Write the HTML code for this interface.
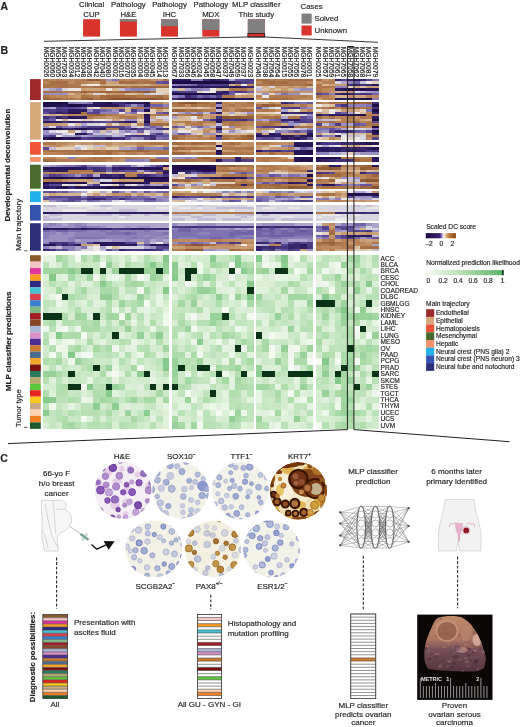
<!DOCTYPE html><html><head><meta charset="utf-8"><style>html,body{margin:0;padding:0;background:#fff;}body{width:520px;height:727px;position:relative;overflow:hidden;}</style></head><body><svg width="520" height="727" viewBox="0 0 520 727" fill="#231f20" style="position:absolute;left:0;top:0;font-family:'Liberation Sans',Arial,sans-serif"><style>.t{stroke:#231f20;stroke-width:0.18px;paint-order:stroke}</style><rect width="520" height="727" fill="#fff"/><text class="t" x="0.6" y="9.6" font-size="10.4" font-weight="bold">A</text><text class="t" x="0.6" y="53.8" font-size="10.6" font-weight="bold">B</text><text class="t" x="0.2" y="462.1" font-size="10.6" font-weight="bold">C</text><text class="t" x="91.6" y="7" font-size="7.8" text-anchor="middle">Clinical</text><text class="t" x="91.6" y="16.8" font-size="7.8" text-anchor="middle">CUP</text><rect x="83.1" y="19.2" width="17" height="17.4" fill="#d8342b"/><text class="t" x="128.4" y="7" font-size="7.8" text-anchor="middle">Pathology</text><text class="t" x="128.4" y="16.8" font-size="7.8" text-anchor="middle">H&amp;E</text><rect x="119.9" y="19.2" width="17" height="17.4" fill="#d8342b"/><rect x="119.9" y="19.2" width="17" height="2.4" fill="#808080"/><text class="t" x="169.5" y="7" font-size="7.8" text-anchor="middle">Pathology</text><text class="t" x="169.5" y="16.8" font-size="7.8" text-anchor="middle">IHC</text><rect x="161" y="19.2" width="17" height="17.4" fill="#d8342b"/><rect x="161" y="19.2" width="17" height="7" fill="#808080"/><text class="t" x="210.8" y="7" font-size="7.8" text-anchor="middle">Pathology</text><text class="t" x="210.8" y="16.8" font-size="7.8" text-anchor="middle">MDX</text><rect x="202.3" y="19.2" width="17" height="17.4" fill="#d8342b"/><rect x="202.3" y="19.2" width="17" height="10.8" fill="#808080"/><text class="t" x="256.3" y="7" font-size="7.8" text-anchor="middle">MLP classifier</text><text class="t" x="256.3" y="16.8" font-size="7.8" text-anchor="middle">This study</text><rect x="247.8" y="19.2" width="17" height="17.4" fill="#d8342b"/><rect x="247.8" y="19.2" width="17" height="14.2" fill="#808080"/><rect x="247.9" y="33.5" width="16.8" height="3.4" fill="#d8342b" stroke="#231f20" stroke-width="0.8"/><text class="t" x="300.6" y="9.4" font-size="7.8">Cases</text><rect x="301.5" y="13.6" width="10.2" height="10" fill="#808080"/><rect x="301.5" y="25.5" width="10.2" height="10" fill="#d8342b"/><text class="t" x="314.5" y="21.3" font-size="7.8">Solved</text><text class="t" x="314.5" y="33.2" font-size="7.8">Unknown</text><polyline points="44,41.3 247.9,37 264.7,37 378,42.3" fill="none" stroke="#231f20" stroke-width="0.9"/><text class="t" x="43.49" y="46.7" font-size="6.7" fill="#222" transform="rotate(90 43.49 46.7)">MGH0026</text><text class="t" x="49.77" y="46.7" font-size="6.7" fill="#222" transform="rotate(90 49.77 46.7)">MGH0060</text><text class="t" x="56.05" y="46.7" font-size="6.7" fill="#222" transform="rotate(90 56.05 46.7)">MGH0005</text><text class="t" x="62.33" y="46.7" font-size="6.7" fill="#222" transform="rotate(90 62.33 46.7)">MGH7063</text><text class="t" x="68.61" y="46.7" font-size="6.7" fill="#222" transform="rotate(90 68.61 46.7)">MGH0034</text><text class="t" x="74.89" y="46.7" font-size="6.7" fill="#222" transform="rotate(90 74.89 46.7)">MGH0012</text><text class="t" x="81.17" y="46.7" font-size="6.7" fill="#222" transform="rotate(90 81.17 46.7)">MGH0048</text><text class="t" x="87.45" y="46.7" font-size="6.7" fill="#222" transform="rotate(90 87.45 46.7)">MGH0036</text><text class="t" x="93.73" y="46.7" font-size="6.7" fill="#222" transform="rotate(90 93.73 46.7)">MGH7042</text><text class="t" x="100.01" y="46.7" font-size="6.7" fill="#222" transform="rotate(90 100.01 46.7)">MGH7040</text><text class="t" x="106.29" y="46.7" font-size="6.7" fill="#222" transform="rotate(90 106.29 46.7)">MGH0080</text><text class="t" x="112.57" y="46.7" font-size="6.7" fill="#222" transform="rotate(90 112.57 46.7)">MGH0002</text><text class="t" x="118.85" y="46.7" font-size="6.7" fill="#222" transform="rotate(90 118.85 46.7)">MGH0016</text><text class="t" x="125.13" y="46.7" font-size="6.7" fill="#222" transform="rotate(90 125.13 46.7)">MGH0070</text><text class="t" x="131.41" y="46.7" font-size="6.7" fill="#222" transform="rotate(90 131.41 46.7)">MGH0035</text><text class="t" x="137.69" y="46.7" font-size="6.7" fill="#222" transform="rotate(90 137.69 46.7)">MGH0004</text><text class="t" x="143.97" y="46.7" font-size="6.7" fill="#222" transform="rotate(90 143.97 46.7)">MGH0009</text><text class="t" x="150.25" y="46.7" font-size="6.7" fill="#222" transform="rotate(90 150.25 46.7)">MGH0045</text><text class="t" x="156.53" y="46.7" font-size="6.7" fill="#222" transform="rotate(90 156.53 46.7)">MGH0014</text><text class="t" x="162.81" y="46.7" font-size="6.7" fill="#222" transform="rotate(90 162.81 46.7)">MGH0013</text><text class="t" x="172.29" y="46.7" font-size="6.7" fill="#222" transform="rotate(90 172.29 46.7)">MGH0067</text><text class="t" x="178.57" y="46.7" font-size="6.7" fill="#222" transform="rotate(90 178.57 46.7)">MGH7033</text><text class="t" x="184.85" y="46.7" font-size="6.7" fill="#222" transform="rotate(90 184.85 46.7)">MGH0056</text><text class="t" x="191.13" y="46.7" font-size="6.7" fill="#222" transform="rotate(90 191.13 46.7)">MGH0046</text><text class="t" x="197.41" y="46.7" font-size="6.7" fill="#222" transform="rotate(90 197.41 46.7)">MGH0024</text><text class="t" x="203.69" y="46.7" font-size="6.7" fill="#222" transform="rotate(90 203.69 46.7)">MGH7045</text><text class="t" x="209.97" y="46.7" font-size="6.7" fill="#222" transform="rotate(90 209.97 46.7)">MGH0058</text><text class="t" x="216.25" y="46.7" font-size="6.7" fill="#222" transform="rotate(90 216.25 46.7)">MGH0047</text><text class="t" x="222.53" y="46.7" font-size="6.7" fill="#222" transform="rotate(90 222.53 46.7)">MGH0037</text><text class="t" x="228.81" y="46.7" font-size="6.7" fill="#222" transform="rotate(90 228.81 46.7)">MGH7049</text><text class="t" x="235.09" y="46.7" font-size="6.7" fill="#222" transform="rotate(90 235.09 46.7)">MGH0059</text><text class="t" x="241.37" y="46.7" font-size="6.7" fill="#222" transform="rotate(90 241.37 46.7)">MGH7037</text><text class="t" x="247.65" y="46.7" font-size="6.7" fill="#222" transform="rotate(90 247.65 46.7)">MGH0023</text><text class="t" x="256.42" y="46.7" font-size="6.7" fill="#222" transform="rotate(90 256.42 46.7)">MGH7046</text><text class="t" x="262.75" y="46.7" font-size="6.7" fill="#222" transform="rotate(90 262.75 46.7)">MGH7038</text><text class="t" x="269.08" y="46.7" font-size="6.7" fill="#222" transform="rotate(90 269.08 46.7)">MGH7064</text><text class="t" x="275.41" y="46.7" font-size="6.7" fill="#222" transform="rotate(90 275.41 46.7)">MGH7054</text><text class="t" x="281.74" y="46.7" font-size="6.7" fill="#222" transform="rotate(90 281.74 46.7)">MGH0015</text><text class="t" x="288.06" y="46.7" font-size="6.7" fill="#222" transform="rotate(90 288.06 46.7)">MGH7055</text><text class="t" x="294.4" y="46.7" font-size="6.7" fill="#222" transform="rotate(90 294.4 46.7)">MGH7056</text><text class="t" x="300.73" y="46.7" font-size="6.7" fill="#222" transform="rotate(90 300.73 46.7)">MGH0078</text><text class="t" x="307.06" y="46.7" font-size="6.7" fill="#222" transform="rotate(90 307.06 46.7)">MGH0001</text><text class="t" x="316.28" y="46.7" font-size="6.7" fill="#222" transform="rotate(90 316.28 46.7)">MGH0025</text><text class="t" x="322.54" y="46.7" font-size="6.7" fill="#222" transform="rotate(90 322.54 46.7)">MGH7057</text><text class="t" x="328.8" y="46.7" font-size="6.7" fill="#222" transform="rotate(90 328.8 46.7)">MGH7059</text><text class="t" x="335.06" y="46.7" font-size="6.7" fill="#222" transform="rotate(90 335.06 46.7)">MGH7061</text><text class="t" x="341.32" y="46.7" font-size="6.7" fill="#222" transform="rotate(90 341.32 46.7)">MGH7065</text><text class="t" x="347.58" y="46.7" font-size="6.7" fill="#222" transform="rotate(90 347.58 46.7)">MGH7058</text><text class="t" x="353.84" y="46.7" font-size="6.7" fill="#222" transform="rotate(90 353.84 46.7)">MGH7062</text><text class="t" x="360.1" y="46.7" font-size="6.7" fill="#222" transform="rotate(90 360.1 46.7)">MGH7068</text><text class="t" x="366.36" y="46.7" font-size="6.7" fill="#222" transform="rotate(90 366.36 46.7)">MGH0081</text><text class="t" x="372.62" y="46.7" font-size="6.7" fill="#222" transform="rotate(90 372.62 46.7)">MGH0079</text><rect x="30" y="79.1" width="10.8" height="20.9" fill="#9e2a2b"/><rect x="30" y="102.1" width="10.8" height="37.6" fill="#d7a97a"/><rect x="30" y="142" width="10.8" height="12.7" fill="#ef5236"/><rect x="30" y="157" width="10.8" height="4.9" fill="#f2906c"/><rect x="30" y="164.7" width="10.8" height="24" fill="#4b6b2e"/><rect x="30" y="191.2" width="10.8" height="10.9" fill="#22b2ea"/><rect x="30" y="205" width="10.8" height="15.6" fill="#3553ad"/><rect x="30" y="223.2" width="10.8" height="27.6" fill="#2b2e78"/><path fill="#b0794e" shape-rendering="crispEdges" d="M43.2 79.1v2.32h6.28v-2.32zM80.88 79.1v2.32h6.28v-2.32zM137.4 79.1v2.32h6.28v-2.32zM162.52 79.1v2.32h6.28v-2.32zM281.42 79.1v2.32h6.33v-2.32zM74.6 81.42v2.32h6.28v-2.32zM300.41 81.42v2.32h6.33v-2.32zM74.6 83.74v2.32h6.28v-2.32zM49.48 86.07v2.32h6.28v-2.32zM87.16 86.07v2.32h6.28v-2.32zM124.84 86.07v2.32h6.28v-2.32zM316 86.07v2.32h6.26v-2.32zM328.52 86.07v2.32h6.26v-2.32zM234.8 88.39v2.32h6.28v-2.32zM316 88.39v2.32h6.26v-2.32zM68.32 90.71v2.32h6.28v-2.32zM137.4 95.36v2.32h6.28v-2.32zM222.24 95.36v2.32h6.28v-2.32zM275.09 95.36v2.32h6.33v-2.32zM281.42 95.36v2.32h6.33v-2.32zM300.41 95.36v2.32h6.33v-2.32zM62.04 97.68v2.32h6.28v-2.32zM68.32 97.68v2.32h6.28v-2.32zM316 102.1v2.35h6.26v-2.35zM172 104.45v2.35h6.28v-2.35zM137.4 106.8v2.35h6.28v-2.35zM149.96 106.8v2.35h6.28v-2.35zM162.52 106.8v2.35h6.28v-2.35zM359.82 106.8v2.35h6.26v-2.35zM234.8 109.15v2.35h6.28v-2.35zM256.1 109.15v2.35h6.33v-2.35zM106 113.85v2.35h6.28v-2.35zM184.56 113.85v2.35h6.28v-2.35zM247.36 113.85v2.35h6.28v-2.35zM87.16 116.2v2.35h6.28v-2.35zM131.12 116.2v2.35h6.28v-2.35zM366.08 116.2v2.35h6.26v-2.35zM209.68 120.9v2.35h6.28v-2.35zM241.08 120.9v2.35h6.28v-2.35zM316 120.9v2.35h6.26v-2.35zM190.84 123.25v2.35h6.28v-2.35zM322.26 125.6v2.35h6.26v-2.35zM328.52 125.6v2.35h6.26v-2.35zM106 127.95v2.35h6.28v-2.35zM197.12 135v2.35h6.28v-2.35zM366.08 135v2.35h6.26v-2.35zM372.34 135v2.35h6.26v-2.35zM178.28 137.35v2.35h6.28v-2.35zM49.48 142v2.54h6.28v-2.54zM162.52 142v2.54h6.28v-2.54zM222.24 142v2.54h6.28v-2.54zM262.43 142v2.54h6.33v-2.54zM203.4 147.08v2.54h6.28v-2.54zM209.68 147.08v2.54h6.28v-2.54zM228.52 147.08v2.54h6.28v-2.54zM80.88 152.16v2.54h6.28v-2.54zM197.12 152.16v2.54h6.28v-2.54zM209.68 152.16v2.54h6.28v-2.54zM241.08 152.16v2.54h6.28v-2.54zM281.42 152.16v2.54h6.33v-2.54zM93.44 157v2.45h6.28v-2.45zM228.52 157v2.45h6.28v-2.45zM262.43 157v2.45h6.33v-2.45zM268.76 157v2.45h6.33v-2.45zM366.08 157v2.45h6.26v-2.45zM62.04 159.45v2.45h6.28v-2.45zM99.72 159.45v2.45h6.28v-2.45zM197.12 159.45v2.45h6.28v-2.45zM262.43 159.45v2.45h6.33v-2.45zM256.1 164.7v2.4h6.33v-2.4zM262.43 164.7v2.4h6.33v-2.4zM268.76 164.7v2.4h6.33v-2.4zM347.3 164.7v2.4h6.26v-2.4zM247.36 169.5v2.4h6.28v-2.4zM256.1 169.5v2.4h6.33v-2.4zM262.43 169.5v2.4h6.33v-2.4zM294.08 169.5v2.4h6.33v-2.4zM156.24 171.9v2.4h6.28v-2.4zM124.84 174.3v2.4h6.28v-2.4zM131.12 174.3v2.4h6.28v-2.4zM341.04 174.3v2.4h6.26v-2.4zM366.08 174.3v2.4h6.26v-2.4zM366.08 176.7v2.4h6.26v-2.4zM43.2 179.1v2.4h6.28v-2.4zM49.48 179.1v2.4h6.28v-2.4zM256.1 179.1v2.4h6.33v-2.4zM234.8 181.5v2.4h6.28v-2.4zM241.08 181.5v2.4h6.28v-2.4zM209.68 186.3v2.4h6.28v-2.4zM215.96 186.3v2.4h6.28v-2.4zM347.3 186.3v2.4h6.26v-2.4zM172 193.38v2.18h6.28v-2.18zM197.12 193.38v2.18h6.28v-2.18zM203.4 193.38v2.18h6.28v-2.18zM172 211.69v2.23h6.28v-2.23zM184.56 211.69v2.23h6.28v-2.23zM190.84 211.69v2.23h6.28v-2.23zM197.12 211.69v2.23h6.28v-2.23zM222.24 211.69v2.23h6.28v-2.23zM228.52 211.69v2.23h6.28v-2.23zM234.8 211.69v2.23h6.28v-2.23zM241.08 211.69v2.23h6.28v-2.23zM247.36 211.69v2.23h6.28v-2.23zM178.28 243.9v2.3h6.28v-2.3zM334.78 243.9v2.3h6.26v-2.3zM172 248.5v2.3h6.28v-2.3zM316 248.5v2.3h6.26v-2.3z"/><path fill="#ba865a" shape-rendering="crispEdges" d="M49.48 79.1v2.32h6.28v-2.32zM68.32 79.1v2.32h6.28v-2.32zM124.84 79.1v2.32h6.28v-2.32zM328.52 79.1v2.32h6.26v-2.32zM43.2 81.42v2.32h6.28v-2.32zM322.26 88.39v2.32h6.26v-2.32zM55.76 95.36v2.32h6.28v-2.32zM62.04 95.36v2.32h6.28v-2.32zM306.74 95.36v2.32h6.33v-2.32zM149.96 102.1v2.35h6.28v-2.35zM268.76 102.1v2.35h6.33v-2.35zM322.26 102.1v2.35h6.26v-2.35zM234.8 104.45v2.35h6.28v-2.35zM287.75 104.45v2.35h6.33v-2.35zM316 106.8v2.35h6.26v-2.35zM334.78 106.8v2.35h6.26v-2.35zM366.08 111.5v2.35h6.26v-2.35zM68.32 113.85v2.35h6.28v-2.35zM118.56 113.85v2.35h6.28v-2.35zM334.78 116.2v2.35h6.26v-2.35zM353.56 118.55v2.35h6.26v-2.35zM172 120.9v2.35h6.28v-2.35zM247.36 120.9v2.35h6.28v-2.35zM262.43 120.9v2.35h6.33v-2.35zM359.82 120.9v2.35h6.26v-2.35zM184.56 123.25v2.35h6.28v-2.35zM275.09 123.25v2.35h6.33v-2.35zM234.8 125.6v2.35h6.28v-2.35zM347.3 125.6v2.35h6.26v-2.35zM209.68 127.95v2.35h6.28v-2.35zM209.68 135v2.35h6.28v-2.35zM203.4 137.35v2.35h6.28v-2.35zM328.52 137.35v2.35h6.26v-2.35zM55.76 142v2.54h6.28v-2.54zM93.44 142v2.54h6.28v-2.54zM268.76 142v2.54h6.33v-2.54zM287.75 142v2.54h6.33v-2.54zM137.4 144.54v2.54h6.28v-2.54zM172 149.62v2.54h6.28v-2.54zM241.08 149.62v2.54h6.28v-2.54zM43.2 152.16v2.54h6.28v-2.54zM49.48 152.16v2.54h6.28v-2.54zM262.43 152.16v2.54h6.33v-2.54zM112.28 157v2.45h6.28v-2.45zM131.12 157v2.45h6.28v-2.45zM106 159.45v2.45h6.28v-2.45zM268.76 159.45v2.45h6.33v-2.45zM275.09 159.45v2.45h6.33v-2.45zM281.42 164.7v2.4h6.33v-2.4zM294.08 167.1v2.4h6.33v-2.4zM287.75 169.5v2.4h6.33v-2.4zM49.48 171.9v2.4h6.28v-2.4zM62.04 171.9v2.4h6.28v-2.4zM80.88 171.9v2.4h6.28v-2.4zM87.16 171.9v2.4h6.28v-2.4zM131.12 171.9v2.4h6.28v-2.4zM137.4 171.9v2.4h6.28v-2.4zM347.3 174.3v2.4h6.26v-2.4zM353.56 174.3v2.4h6.26v-2.4zM359.82 174.3v2.4h6.26v-2.4zM268.76 179.1v2.4h6.33v-2.4zM294.08 179.1v2.4h6.33v-2.4zM322.26 181.5v2.4h6.26v-2.4zM247.36 186.3v2.4h6.28v-2.4zM124.84 193.38v2.18h6.28v-2.18zM215.96 193.38v2.18h6.28v-2.18zM334.78 193.38v2.18h6.26v-2.18zM341.04 199.92v2.18h6.26v-2.18zM328.52 227.8v2.3h6.26v-2.3zM222.24 239.3v2.3h6.28v-2.3zM341.04 239.3v2.3h6.26v-2.3zM353.56 239.3v2.3h6.26v-2.3zM247.36 241.6v2.3h6.28v-2.3zM359.82 241.6v2.3h6.26v-2.3zM275.09 243.9v2.3h6.33v-2.3zM184.56 246.2v2.3h6.28v-2.3zM197.12 246.2v2.3h6.28v-2.3zM316 246.2v2.3h6.26v-2.3zM322.26 246.2v2.3h6.26v-2.3z"/><path fill="#b37d51" shape-rendering="crispEdges" d="M55.76 79.1v2.32h6.28v-2.32zM268.76 79.1v2.32h6.33v-2.32zM275.09 79.1v2.32h6.33v-2.32zM328.52 81.42v2.32h6.26v-2.32zM262.43 83.74v2.32h6.33v-2.32zM62.04 90.71v2.32h6.28v-2.32zM74.6 90.71v2.32h6.28v-2.32zM281.42 90.71v2.32h6.33v-2.32zM162.52 95.36v2.32h6.28v-2.32zM268.76 95.36v2.32h6.33v-2.32zM287.75 95.36v2.32h6.33v-2.32zM322.26 95.36v2.32h6.26v-2.32zM262.43 97.68v2.32h6.33v-2.32zM294.08 97.68v2.32h6.33v-2.32zM209.68 102.1v2.35h6.28v-2.35zM222.24 102.1v2.35h6.28v-2.35zM197.12 104.45v2.35h6.28v-2.35zM241.08 104.45v2.35h6.28v-2.35zM247.36 104.45v2.35h6.28v-2.35zM281.42 104.45v2.35h6.33v-2.35zM322.26 106.8v2.35h6.26v-2.35zM203.4 109.15v2.35h6.28v-2.35zM222.24 109.15v2.35h6.28v-2.35zM268.76 109.15v2.35h6.33v-2.35zM80.88 113.85v2.35h6.28v-2.35zM112.28 113.85v2.35h6.28v-2.35zM149.96 113.85v2.35h6.28v-2.35zM162.52 113.85v2.35h6.28v-2.35zM178.28 113.85v2.35h6.28v-2.35zM366.08 113.85v2.35h6.26v-2.35zM118.56 116.2v2.35h6.28v-2.35zM203.4 120.9v2.35h6.28v-2.35zM334.78 120.9v2.35h6.26v-2.35zM341.04 120.9v2.35h6.26v-2.35zM197.12 123.25v2.35h6.28v-2.35zM234.8 123.25v2.35h6.28v-2.35zM341.04 125.6v2.35h6.26v-2.35zM234.8 135v2.35h6.28v-2.35zM143.68 142v2.54h6.28v-2.54zM256.1 142v2.54h6.33v-2.54zM62.04 152.16v2.54h6.28v-2.54zM87.16 152.16v2.54h6.28v-2.54zM112.28 152.16v2.54h6.28v-2.54zM131.12 152.16v2.54h6.28v-2.54zM143.68 152.16v2.54h6.28v-2.54zM256.1 152.16v2.54h6.33v-2.54zM222.24 157v2.45h6.28v-2.45zM256.1 157v2.45h6.33v-2.45zM359.82 157v2.45h6.26v-2.45zM55.76 159.45v2.45h6.28v-2.45zM74.6 159.45v2.45h6.28v-2.45zM281.42 159.45v2.45h6.33v-2.45zM215.96 167.1v2.4h6.28v-2.4zM222.24 167.1v2.4h6.28v-2.4zM268.76 167.1v2.4h6.33v-2.4zM275.09 167.1v2.4h6.33v-2.4zM287.75 167.1v2.4h6.33v-2.4zM241.08 169.5v2.4h6.28v-2.4zM68.32 171.9v2.4h6.28v-2.4zM74.6 171.9v2.4h6.28v-2.4zM124.84 171.9v2.4h6.28v-2.4zM372.34 176.7v2.4h6.26v-2.4zM55.76 179.1v2.4h6.28v-2.4zM197.12 179.1v2.4h6.28v-2.4zM241.08 179.1v2.4h6.28v-2.4zM322.26 179.1v2.4h6.26v-2.4zM172 186.3v2.4h6.28v-2.4zM222.24 186.3v2.4h6.28v-2.4zM241.08 186.3v2.4h6.28v-2.4zM353.56 186.3v2.4h6.26v-2.4zM190.84 193.38v2.18h6.28v-2.18zM209.68 193.38v2.18h6.28v-2.18zM275.09 193.38v2.18h6.33v-2.18zM316 193.38v2.18h6.26v-2.18zM334.78 199.92v2.18h6.26v-2.18zM178.28 211.69v2.23h6.28v-2.23zM203.4 211.69v2.23h6.28v-2.23zM209.68 211.69v2.23h6.28v-2.23zM215.96 211.69v2.23h6.28v-2.23zM322.26 239.3v2.3h6.26v-2.3zM341.04 241.6v2.3h6.26v-2.3zM341.04 243.9v2.3h6.26v-2.3zM178.28 248.5v2.3h6.28v-2.3zM241.08 248.5v2.3h6.28v-2.3zM328.52 248.5v2.3h6.26v-2.3z"/><path fill="#be8b61" shape-rendering="crispEdges" d="M62.04 79.1v2.32h6.28v-2.32zM68.32 81.42v2.32h6.28v-2.32zM87.16 81.42v2.32h6.28v-2.32zM256.1 81.42v2.32h6.33v-2.32zM306.74 81.42v2.32h6.33v-2.32zM162.52 83.74v2.32h6.28v-2.32zM234.8 83.74v2.32h6.28v-2.32zM247.36 83.74v2.32h6.28v-2.32zM247.36 88.39v2.32h6.28v-2.32zM328.52 88.39v2.32h6.26v-2.32zM287.75 90.71v2.32h6.33v-2.32zM294.08 90.71v2.32h6.33v-2.32zM328.52 95.36v2.32h6.26v-2.32zM372.34 95.36v2.32h6.26v-2.32zM300.41 97.68v2.32h6.33v-2.32zM306.74 97.68v2.32h6.33v-2.32zM228.52 102.1v2.35h6.28v-2.35zM184.56 104.45v2.35h6.28v-2.35zM112.28 106.8v2.35h6.28v-2.35zM222.24 106.8v2.35h6.28v-2.35zM234.8 106.8v2.35h6.28v-2.35zM74.6 113.85v2.35h6.28v-2.35zM137.4 113.85v2.35h6.28v-2.35zM256.1 113.85v2.35h6.33v-2.35zM93.44 116.2v2.35h6.28v-2.35zM99.72 116.2v2.35h6.28v-2.35zM209.68 116.2v2.35h6.28v-2.35zM190.84 120.9v2.35h6.28v-2.35zM247.36 123.25v2.35h6.28v-2.35zM366.08 125.6v2.35h6.26v-2.35zM256.1 127.95v2.35h6.33v-2.35zM262.43 127.95v2.35h6.33v-2.35zM203.4 130.3v2.35h6.28v-2.35zM184.56 137.35v2.35h6.28v-2.35zM190.84 137.35v2.35h6.28v-2.35zM366.08 137.35v2.35h6.26v-2.35zM62.04 142v2.54h6.28v-2.54zM106 142v2.54h6.28v-2.54zM124.84 142v2.54h6.28v-2.54zM131.12 142v2.54h6.28v-2.54zM275.09 142v2.54h6.33v-2.54zM55.76 144.54v2.54h6.28v-2.54zM222.24 144.54v2.54h6.28v-2.54zM228.52 144.54v2.54h6.28v-2.54zM247.36 149.62v2.54h6.28v-2.54zM137.4 152.16v2.54h6.28v-2.54zM43.2 157v2.45h6.28v-2.45zM74.6 157v2.45h6.28v-2.45zM80.88 157v2.45h6.28v-2.45zM118.56 157v2.45h6.28v-2.45zM137.4 157v2.45h6.28v-2.45zM143.68 157v2.45h6.28v-2.45zM112.28 159.45v2.45h6.28v-2.45zM234.8 167.1v2.4h6.28v-2.4zM256.1 167.1v2.4h6.33v-2.4zM281.42 167.1v2.4h6.33v-2.4zM43.2 171.9v2.4h6.28v-2.4zM55.76 171.9v2.4h6.28v-2.4zM99.72 171.9v2.4h6.28v-2.4zM262.43 171.9v2.4h6.33v-2.4zM247.36 174.3v2.4h6.28v-2.4zM359.82 176.7v2.4h6.26v-2.4zM234.8 179.1v2.4h6.28v-2.4zM300.41 179.1v2.4h6.33v-2.4zM203.4 186.3v2.4h6.28v-2.4zM162.52 193.38v2.18h6.28v-2.18zM268.76 193.38v2.18h6.33v-2.18zM316 199.92v2.18h6.26v-2.18zM328.52 223.2v2.3h6.26v-2.3zM172 239.3v2.3h6.28v-2.3zM178.28 239.3v2.3h6.28v-2.3zM184.56 239.3v2.3h6.28v-2.3zM197.12 239.3v2.3h6.28v-2.3zM203.4 239.3v2.3h6.28v-2.3zM228.52 239.3v2.3h6.28v-2.3zM215.96 243.9v2.3h6.28v-2.3zM222.24 243.9v2.3h6.28v-2.3zM353.56 243.9v2.3h6.26v-2.3zM359.82 243.9v2.3h6.26v-2.3zM366.08 243.9v2.3h6.26v-2.3zM190.84 246.2v2.3h6.28v-2.3zM328.52 246.2v2.3h6.26v-2.3zM334.78 246.2v2.3h6.26v-2.3z"/><path fill="#b78155" shape-rendering="crispEdges" d="M74.6 79.1v2.32h6.28v-2.32zM118.56 79.1v2.32h6.28v-2.32zM131.12 79.1v2.32h6.28v-2.32zM80.88 81.42v2.32h6.28v-2.32zM322.26 81.42v2.32h6.26v-2.32zM275.09 90.71v2.32h6.33v-2.32zM322.26 90.71v2.32h6.26v-2.32zM49.48 95.36v2.32h6.28v-2.32zM93.44 95.36v2.32h6.28v-2.32zM256.1 95.36v2.32h6.33v-2.32zM294.08 95.36v2.32h6.33v-2.32zM366.08 95.36v2.32h6.26v-2.32zM74.6 97.68v2.32h6.28v-2.32zM322.26 97.68v2.32h6.26v-2.32zM328.52 97.68v2.32h6.26v-2.32zM156.24 102.1v2.35h6.28v-2.35zM234.8 102.1v2.35h6.28v-2.35zM241.08 102.1v2.35h6.28v-2.35zM341.04 102.1v2.35h6.26v-2.35zM222.24 104.45v2.35h6.28v-2.35zM131.12 106.8v2.35h6.28v-2.35zM209.68 109.15v2.35h6.28v-2.35zM306.74 109.15v2.35h6.33v-2.35zM372.34 113.85v2.35h6.26v-2.35zM256.1 116.2v2.35h6.33v-2.35zM322.26 116.2v2.35h6.26v-2.35zM341.04 116.2v2.35h6.26v-2.35zM341.04 118.55v2.35h6.26v-2.35zM347.3 118.55v2.35h6.26v-2.35zM178.28 120.9v2.35h6.28v-2.35zM137.4 123.25v2.35h6.28v-2.35zM222.24 123.25v2.35h6.28v-2.35zM241.08 123.25v2.35h6.28v-2.35zM359.82 125.6v2.35h6.26v-2.35zM184.56 135v2.35h6.28v-2.35zM190.84 135v2.35h6.28v-2.35zM197.12 137.35v2.35h6.28v-2.35zM228.52 137.35v2.35h6.28v-2.35zM137.4 142v2.54h6.28v-2.54zM287.75 147.08v2.54h6.33v-2.54zM234.8 149.62v2.54h6.28v-2.54zM55.76 152.16v2.54h6.28v-2.54zM124.84 152.16v2.54h6.28v-2.54zM149.96 152.16v2.54h6.28v-2.54zM190.84 152.16v2.54h6.28v-2.54zM275.09 152.16v2.54h6.33v-2.54zM287.75 152.16v2.54h6.33v-2.54zM49.48 157v2.45h6.28v-2.45zM87.16 157v2.45h6.28v-2.45zM124.84 157v2.45h6.28v-2.45zM275.09 157v2.45h6.33v-2.45zM68.32 159.45v2.45h6.28v-2.45zM256.1 159.45v2.45h6.33v-2.45zM287.75 159.45v2.45h6.33v-2.45zM275.09 164.7v2.4h6.33v-2.4zM316 164.7v2.4h6.26v-2.4zM247.36 167.1v2.4h6.28v-2.4zM262.43 167.1v2.4h6.33v-2.4zM268.76 169.5v2.4h6.33v-2.4zM287.75 179.1v2.4h6.33v-2.4zM306.74 181.5v2.4h6.33v-2.4zM316 181.5v2.4h6.26v-2.4zM300.41 183.9v2.4h6.33v-2.4zM184.56 193.38v2.18h6.28v-2.18zM328.52 199.92v2.18h6.26v-2.18zM209.68 239.3v2.3h6.28v-2.3zM215.96 239.3v2.3h6.28v-2.3zM347.3 239.3v2.3h6.26v-2.3zM241.08 241.6v2.3h6.28v-2.3zM353.56 241.6v2.3h6.26v-2.3zM172 243.9v2.3h6.28v-2.3zM228.52 243.9v2.3h6.28v-2.3zM268.76 243.9v2.3h6.33v-2.3zM322.26 243.9v2.3h6.26v-2.3zM347.3 243.9v2.3h6.26v-2.3zM341.04 246.2v2.3h6.26v-2.3z"/><path fill="#965f39" shape-rendering="crispEdges" d="M87.16 79.1v2.32h6.28v-2.32zM124.84 90.71v2.32h6.28v-2.32zM87.16 97.68v2.32h6.28v-2.32zM106 97.68v2.32h6.28v-2.32zM131.12 97.68v2.32h6.28v-2.32zM178.28 102.1v2.35h6.28v-2.35zM353.56 102.1v2.35h6.26v-2.35zM366.08 102.1v2.35h6.26v-2.35zM241.08 116.2v2.35h6.28v-2.35zM247.36 116.2v2.35h6.28v-2.35zM222.24 164.7v2.4h6.28v-2.4zM366.08 164.7v2.4h6.26v-2.4zM322.26 167.1v2.4h6.26v-2.4zM334.78 167.1v2.4h6.26v-2.4zM300.41 176.7v2.4h6.33v-2.4zM184.56 248.5v2.3h6.28v-2.3z"/><path fill="#935d36" shape-rendering="crispEdges" d="M93.44 79.1v2.32h6.28v-2.32zM156.24 97.68v2.32h6.28v-2.32zM149.96 159.45v2.45h6.28v-2.45zM228.52 164.7v2.4h6.28v-2.4zM359.82 167.1v2.4h6.26v-2.4zM359.82 179.1v2.4h6.26v-2.4zM247.36 183.9v2.4h6.28v-2.4zM294.08 186.3v2.4h6.33v-2.4zM300.41 186.3v2.4h6.33v-2.4zM197.12 248.5v2.3h6.28v-2.3z"/><path fill="#a97247" shape-rendering="crispEdges" d="M99.72 79.1v2.32h6.28v-2.32zM49.48 81.42v2.32h6.28v-2.32zM143.68 81.42v2.32h6.28v-2.32zM262.43 81.42v2.32h6.33v-2.32zM275.09 81.42v2.32h6.33v-2.32zM43.2 83.74v2.32h6.28v-2.32zM49.48 83.74v2.32h6.28v-2.32zM55.76 83.74v2.32h6.28v-2.32zM62.04 83.74v2.32h6.28v-2.32zM268.76 83.74v2.32h6.33v-2.32zM275.09 83.74v2.32h6.33v-2.32zM300.41 83.74v2.32h6.33v-2.32zM43.2 86.07v2.32h6.28v-2.32zM55.76 86.07v2.32h6.28v-2.32zM62.04 86.07v2.32h6.28v-2.32zM137.4 86.07v2.32h6.28v-2.32zM49.48 90.71v2.32h6.28v-2.32zM93.44 90.71v2.32h6.28v-2.32zM149.96 90.71v2.32h6.28v-2.32zM316 90.71v2.32h6.26v-2.32zM43.2 95.36v2.32h6.28v-2.32zM80.88 95.36v2.32h6.28v-2.32zM149.96 95.36v2.32h6.28v-2.32zM93.44 97.68v2.32h6.28v-2.32zM275.09 97.68v2.32h6.33v-2.32zM172 102.1v2.35h6.28v-2.35zM178.28 104.45v2.35h6.28v-2.35zM209.68 104.45v2.35h6.28v-2.35zM366.08 106.8v2.35h6.26v-2.35zM184.56 109.15v2.35h6.28v-2.35zM197.12 109.15v2.35h6.28v-2.35zM80.88 111.5v2.35h6.28v-2.35zM262.43 116.2v2.35h6.33v-2.35zM268.76 116.2v2.35h6.33v-2.35zM328.52 116.2v2.35h6.26v-2.35zM347.3 116.2v2.35h6.26v-2.35zM222.24 120.9v2.35h6.28v-2.35zM228.52 120.9v2.35h6.28v-2.35zM234.8 120.9v2.35h6.28v-2.35zM228.52 123.25v2.35h6.28v-2.35zM262.43 123.25v2.35h6.33v-2.35zM268.76 123.25v2.35h6.33v-2.35zM366.08 123.25v2.35h6.26v-2.35zM372.34 123.25v2.35h6.26v-2.35zM300.41 125.6v2.35h6.33v-2.35zM306.74 125.6v2.35h6.33v-2.35zM178.28 135v2.35h6.28v-2.35zM222.24 135v2.35h6.28v-2.35zM228.52 135v2.35h6.28v-2.35zM209.68 137.35v2.35h6.28v-2.35zM234.8 137.35v2.35h6.28v-2.35zM149.96 142v2.54h6.28v-2.54zM156.24 142v2.54h6.28v-2.54zM203.4 142v2.54h6.28v-2.54zM209.68 142v2.54h6.28v-2.54zM184.56 147.08v2.54h6.28v-2.54zM190.84 147.08v2.54h6.28v-2.54zM197.12 147.08v2.54h6.28v-2.54zM247.36 147.08v2.54h6.28v-2.54zM55.76 149.62v2.54h6.28v-2.54zM62.04 149.62v2.54h6.28v-2.54zM68.32 149.62v2.54h6.28v-2.54zM112.28 149.62v2.54h6.28v-2.54zM99.72 152.16v2.54h6.28v-2.54zM222.24 152.16v2.54h6.28v-2.54zM228.52 152.16v2.54h6.28v-2.54zM106 157v2.45h6.28v-2.45zM209.68 157v2.45h6.28v-2.45zM172 159.45v2.45h6.28v-2.45zM178.28 159.45v2.45h6.28v-2.45zM184.56 159.45v2.45h6.28v-2.45zM190.84 159.45v2.45h6.28v-2.45zM359.82 159.45v2.45h6.26v-2.45zM366.08 159.45v2.45h6.26v-2.45zM241.08 164.7v2.4h6.28v-2.4zM247.36 164.7v2.4h6.28v-2.4zM341.04 164.7v2.4h6.26v-2.4zM80.88 169.5v2.4h6.28v-2.4zM300.41 169.5v2.4h6.33v-2.4zM334.78 171.9v2.4h6.26v-2.4zM341.04 171.9v2.4h6.26v-2.4zM347.3 171.9v2.4h6.26v-2.4zM228.52 174.3v2.4h6.28v-2.4zM209.68 179.1v2.4h6.28v-2.4zM215.96 179.1v2.4h6.28v-2.4zM247.36 181.5v2.4h6.28v-2.4zM262.43 183.9v2.4h6.33v-2.4zM228.52 186.3v2.4h6.28v-2.4zM322.26 186.3v2.4h6.26v-2.4zM328.52 186.3v2.4h6.26v-2.4zM341.04 186.3v2.4h6.26v-2.4zM178.28 193.38v2.18h6.28v-2.18zM322.26 193.38v2.18h6.26v-2.18zM328.52 193.38v2.18h6.26v-2.18zM328.52 239.3v2.3h6.26v-2.3zM334.78 241.6v2.3h6.26v-2.3zM209.68 243.9v2.3h6.28v-2.3zM359.82 246.2v2.3h6.26v-2.3z"/><path fill="#9a90c2" shape-rendering="crispEdges" d="M106 79.1v2.32h6.28v-2.32zM55.76 88.39v2.32h6.28v-2.32zM124.84 88.39v2.32h6.28v-2.32zM149.96 88.39v2.32h6.28v-2.32zM203.4 88.39v2.32h6.28v-2.32zM300.41 88.39v2.32h6.33v-2.32zM306.74 88.39v2.32h6.33v-2.32zM372.34 90.71v2.32h6.26v-2.32zM43.2 93.03v2.32h6.28v-2.32zM49.48 93.03v2.32h6.28v-2.32zM55.76 93.03v2.32h6.28v-2.32zM62.04 93.03v2.32h6.28v-2.32zM262.43 93.03v2.32h6.33v-2.32zM287.75 93.03v2.32h6.33v-2.32zM294.08 93.03v2.32h6.33v-2.32zM172 95.36v2.32h6.28v-2.32zM131.12 104.45v2.35h6.28v-2.35zM215.96 104.45v2.35h6.28v-2.35zM43.2 106.8v2.35h6.28v-2.35zM306.74 106.8v2.35h6.33v-2.35zM112.28 109.15v2.35h6.28v-2.35zM124.84 111.5v2.35h6.28v-2.35zM247.36 111.5v2.35h6.28v-2.35zM306.74 113.85v2.35h6.33v-2.35zM124.84 118.55v2.35h6.28v-2.35zM131.12 118.55v2.35h6.28v-2.35zM256.1 118.55v2.35h6.33v-2.35zM287.75 123.25v2.35h6.33v-2.35zM341.04 123.25v2.35h6.26v-2.35zM43.2 125.6v2.35h6.28v-2.35zM143.68 125.6v2.35h6.28v-2.35zM190.84 125.6v2.35h6.28v-2.35zM203.4 125.6v2.35h6.28v-2.35zM228.52 125.6v2.35h6.28v-2.35zM306.74 127.95v2.35h6.33v-2.35zM43.2 130.3v2.35h6.28v-2.35zM80.88 130.3v2.35h6.28v-2.35zM93.44 130.3v2.35h6.28v-2.35zM228.52 130.3v2.35h6.28v-2.35zM281.42 130.3v2.35h6.33v-2.35zM322.26 130.3v2.35h6.26v-2.35zM43.2 132.65v2.35h6.28v-2.35zM49.48 132.65v2.35h6.28v-2.35zM55.76 132.65v2.35h6.28v-2.35zM172 132.65v2.35h6.28v-2.35zM203.4 132.65v2.35h6.28v-2.35zM209.68 132.65v2.35h6.28v-2.35zM87.16 135v2.35h6.28v-2.35zM131.12 137.35v2.35h6.28v-2.35zM131.12 147.08v2.54h6.28v-2.54zM359.82 152.16v2.54h6.26v-2.54zM366.08 152.16v2.54h6.26v-2.54zM372.34 152.16v2.54h6.26v-2.54zM172 157v2.45h6.28v-2.45zM178.28 157v2.45h6.28v-2.45zM190.84 157v2.45h6.28v-2.45zM143.68 159.45v2.45h6.28v-2.45zM49.48 164.7v2.4h6.28v-2.4zM131.12 164.7v2.4h6.28v-2.4zM143.68 164.7v2.4h6.28v-2.4zM74.6 174.3v2.4h6.28v-2.4zM281.42 174.3v2.4h6.33v-2.4zM300.41 174.3v2.4h6.33v-2.4zM341.04 176.7v2.4h6.26v-2.4zM353.56 176.7v2.4h6.26v-2.4zM178.28 183.9v2.4h6.28v-2.4zM74.6 191.2v2.18h6.28v-2.18zM281.42 191.2v2.18h6.33v-2.18zM156.24 195.56v2.18h6.28v-2.18zM268.76 195.56v2.18h6.33v-2.18zM294.08 195.56v2.18h6.33v-2.18zM353.56 195.56v2.18h6.26v-2.18zM359.82 195.56v2.18h6.26v-2.18zM366.08 195.56v2.18h6.26v-2.18zM162.52 197.74v2.18h6.28v-2.18zM172 197.74v2.18h6.28v-2.18zM178.28 197.74v2.18h6.28v-2.18zM184.56 197.74v2.18h6.28v-2.18zM287.75 197.74v2.18h6.33v-2.18zM49.48 199.92v2.18h6.28v-2.18zM99.72 199.92v2.18h6.28v-2.18zM106 199.92v2.18h6.28v-2.18zM131.12 199.92v2.18h6.28v-2.18zM137.4 199.92v2.18h6.28v-2.18zM162.52 199.92v2.18h6.28v-2.18zM247.36 199.92v2.18h6.28v-2.18zM43.2 223.2v2.3h6.28v-2.3zM55.76 223.2v2.3h6.28v-2.3zM68.32 223.2v2.3h6.28v-2.3zM80.88 223.2v2.3h6.28v-2.3zM172 223.2v2.3h6.28v-2.3zM197.12 223.2v2.3h6.28v-2.3zM203.4 223.2v2.3h6.28v-2.3zM209.68 223.2v2.3h6.28v-2.3zM262.43 223.2v2.3h6.33v-2.3zM268.76 223.2v2.3h6.33v-2.3zM275.09 223.2v2.3h6.33v-2.3zM281.42 223.2v2.3h6.33v-2.3zM287.75 223.2v2.3h6.33v-2.3zM347.3 223.2v2.3h6.26v-2.3zM366.08 223.2v2.3h6.26v-2.3zM49.48 225.5v2.3h6.28v-2.3zM55.76 225.5v2.3h6.28v-2.3zM62.04 225.5v2.3h6.28v-2.3zM68.32 225.5v2.3h6.28v-2.3zM99.72 225.5v2.3h6.28v-2.3zM124.84 225.5v2.3h6.28v-2.3zM137.4 225.5v2.3h6.28v-2.3zM143.68 225.5v2.3h6.28v-2.3zM359.82 225.5v2.3h6.26v-2.3zM215.96 227.8v2.3h6.28v-2.3zM222.24 227.8v2.3h6.28v-2.3zM241.08 227.8v2.3h6.28v-2.3zM156.24 230.1v2.3h6.28v-2.3zM162.52 230.1v2.3h6.28v-2.3zM334.78 230.1v2.3h6.26v-2.3zM372.34 230.1v2.3h6.26v-2.3zM55.76 232.4v2.3h6.28v-2.3zM68.32 232.4v2.3h6.28v-2.3zM49.48 234.7v2.3h6.28v-2.3zM55.76 234.7v2.3h6.28v-2.3zM62.04 234.7v2.3h6.28v-2.3zM68.32 234.7v2.3h6.28v-2.3zM143.68 234.7v2.3h6.28v-2.3zM162.52 234.7v2.3h6.28v-2.3zM49.48 237v2.3h6.28v-2.3zM55.76 237v2.3h6.28v-2.3zM62.04 237v2.3h6.28v-2.3zM156.24 237v2.3h6.28v-2.3zM316 237v2.3h6.26v-2.3zM359.82 237v2.3h6.26v-2.3zM43.2 239.3v2.3h6.28v-2.3zM49.48 239.3v2.3h6.28v-2.3zM55.76 239.3v2.3h6.28v-2.3zM62.04 239.3v2.3h6.28v-2.3zM80.88 239.3v2.3h6.28v-2.3zM87.16 239.3v2.3h6.28v-2.3zM93.44 239.3v2.3h6.28v-2.3zM112.28 239.3v2.3h6.28v-2.3zM118.56 239.3v2.3h6.28v-2.3zM131.12 239.3v2.3h6.28v-2.3zM137.4 239.3v2.3h6.28v-2.3zM156.24 239.3v2.3h6.28v-2.3zM268.76 239.3v2.3h6.33v-2.3zM275.09 239.3v2.3h6.33v-2.3zM281.42 239.3v2.3h6.33v-2.3zM306.74 239.3v2.3h6.33v-2.3zM80.88 241.6v2.3h6.28v-2.3zM162.52 241.6v2.3h6.28v-2.3zM172 241.6v2.3h6.28v-2.3zM149.96 246.2v2.3h6.28v-2.3zM203.4 248.5v2.3h6.28v-2.3zM209.68 248.5v2.3h6.28v-2.3zM306.74 248.5v2.3h6.33v-2.3z"/><path fill="#7f72b0" shape-rendering="crispEdges" d="M112.28 79.1v2.32h6.28v-2.32zM372.34 79.1v2.32h6.26v-2.32zM178.28 83.74v2.32h6.28v-2.32zM184.56 83.74v2.32h6.28v-2.32zM281.42 93.03v2.32h6.33v-2.32zM178.28 95.36v2.32h6.28v-2.32zM68.32 102.1v2.35h6.28v-2.35zM87.16 102.1v2.35h6.28v-2.35zM300.41 102.1v2.35h6.33v-2.35zM366.08 104.45v2.35h6.26v-2.35zM300.41 106.8v2.35h6.33v-2.35zM106 109.15v2.35h6.28v-2.35zM137.4 109.15v2.35h6.28v-2.35zM366.08 109.15v2.35h6.26v-2.35zM131.12 111.5v2.35h6.28v-2.35zM268.76 118.55v2.35h6.33v-2.35zM62.04 125.6v2.35h6.28v-2.35zM74.6 125.6v2.35h6.28v-2.35zM178.28 125.6v2.35h6.28v-2.35zM316 127.95v2.35h6.26v-2.35zM322.26 127.95v2.35h6.26v-2.35zM334.78 127.95v2.35h6.26v-2.35zM372.34 127.95v2.35h6.26v-2.35zM287.75 130.3v2.35h6.33v-2.35zM300.41 130.3v2.35h6.33v-2.35zM162.52 132.65v2.35h6.28v-2.35zM184.56 132.65v2.35h6.28v-2.35zM156.24 137.35v2.35h6.28v-2.35zM287.75 144.54v2.54h6.33v-2.54zM156.24 157v2.45h6.28v-2.45zM162.52 157v2.45h6.28v-2.45zM62.04 164.7v2.4h6.28v-2.4zM68.32 164.7v2.4h6.28v-2.4zM87.16 164.7v2.4h6.28v-2.4zM190.84 171.9v2.4h6.28v-2.4zM234.8 171.9v2.4h6.28v-2.4zM247.36 171.9v2.4h6.28v-2.4zM256.1 174.3v2.4h6.33v-2.4zM287.75 174.3v2.4h6.33v-2.4zM294.08 174.3v2.4h6.33v-2.4zM268.76 181.5v2.4h6.33v-2.4zM87.16 183.9v2.4h6.28v-2.4zM118.56 183.9v2.4h6.28v-2.4zM143.68 183.9v2.4h6.28v-2.4zM162.52 183.9v2.4h6.28v-2.4zM353.56 183.9v2.4h6.26v-2.4zM131.12 191.2v2.18h6.28v-2.18zM234.8 191.2v2.18h6.28v-2.18zM268.76 191.2v2.18h6.33v-2.18zM287.75 191.2v2.18h6.33v-2.18zM80.88 195.56v2.18h6.28v-2.18zM131.12 195.56v2.18h6.28v-2.18zM143.68 195.56v2.18h6.28v-2.18zM256.1 195.56v2.18h6.33v-2.18zM262.43 195.56v2.18h6.33v-2.18zM287.75 195.56v2.18h6.33v-2.18zM262.43 197.74v2.18h6.33v-2.18zM322.26 197.74v2.18h6.26v-2.18zM55.76 199.92v2.18h6.28v-2.18zM93.44 199.92v2.18h6.28v-2.18zM262.43 199.92v2.18h6.33v-2.18zM80.88 225.5v2.3h6.28v-2.3zM197.12 227.8v2.3h6.28v-2.3zM262.43 227.8v2.3h6.33v-2.3zM275.09 227.8v2.3h6.33v-2.3zM287.75 227.8v2.3h6.33v-2.3zM306.74 227.8v2.3h6.33v-2.3zM316 227.8v2.3h6.26v-2.3zM334.78 227.8v2.3h6.26v-2.3zM49.48 230.1v2.3h6.28v-2.3zM68.32 230.1v2.3h6.28v-2.3zM74.6 230.1v2.3h6.28v-2.3zM80.88 230.1v2.3h6.28v-2.3zM99.72 230.1v2.3h6.28v-2.3zM112.28 230.1v2.3h6.28v-2.3zM143.68 230.1v2.3h6.28v-2.3zM172 230.1v2.3h6.28v-2.3zM190.84 230.1v2.3h6.28v-2.3zM197.12 230.1v2.3h6.28v-2.3zM203.4 230.1v2.3h6.28v-2.3zM209.68 230.1v2.3h6.28v-2.3zM215.96 230.1v2.3h6.28v-2.3zM222.24 230.1v2.3h6.28v-2.3zM228.52 230.1v2.3h6.28v-2.3zM241.08 230.1v2.3h6.28v-2.3zM275.09 230.1v2.3h6.33v-2.3zM287.75 230.1v2.3h6.33v-2.3zM316 230.1v2.3h6.26v-2.3zM322.26 230.1v2.3h6.26v-2.3zM106 232.4v2.3h6.28v-2.3zM112.28 232.4v2.3h6.28v-2.3zM118.56 232.4v2.3h6.28v-2.3zM131.12 232.4v2.3h6.28v-2.3zM162.52 232.4v2.3h6.28v-2.3zM172 232.4v2.3h6.28v-2.3zM178.28 232.4v2.3h6.28v-2.3zM184.56 232.4v2.3h6.28v-2.3zM190.84 232.4v2.3h6.28v-2.3zM209.68 232.4v2.3h6.28v-2.3zM215.96 232.4v2.3h6.28v-2.3zM222.24 232.4v2.3h6.28v-2.3zM262.43 232.4v2.3h6.33v-2.3zM275.09 232.4v2.3h6.33v-2.3zM172 234.7v2.3h6.28v-2.3zM178.28 234.7v2.3h6.28v-2.3zM184.56 234.7v2.3h6.28v-2.3zM190.84 234.7v2.3h6.28v-2.3zM197.12 234.7v2.3h6.28v-2.3zM203.4 234.7v2.3h6.28v-2.3zM209.68 234.7v2.3h6.28v-2.3zM215.96 234.7v2.3h6.28v-2.3zM222.24 234.7v2.3h6.28v-2.3zM234.8 234.7v2.3h6.28v-2.3zM294.08 234.7v2.3h6.33v-2.3zM300.41 234.7v2.3h6.33v-2.3zM306.74 234.7v2.3h6.33v-2.3zM74.6 237v2.3h6.28v-2.3zM80.88 237v2.3h6.28v-2.3zM87.16 237v2.3h6.28v-2.3zM93.44 237v2.3h6.28v-2.3zM99.72 237v2.3h6.28v-2.3zM131.12 237v2.3h6.28v-2.3zM172 237v2.3h6.28v-2.3zM197.12 237v2.3h6.28v-2.3zM203.4 237v2.3h6.28v-2.3zM222.24 237v2.3h6.28v-2.3zM228.52 237v2.3h6.28v-2.3zM241.08 237v2.3h6.28v-2.3zM247.36 237v2.3h6.28v-2.3zM268.76 237v2.3h6.33v-2.3zM275.09 237v2.3h6.33v-2.3zM322.26 237v2.3h6.26v-2.3zM366.08 237v2.3h6.26v-2.3zM262.43 239.3v2.3h6.33v-2.3zM74.6 241.6v2.3h6.28v-2.3zM178.28 241.6v2.3h6.28v-2.3zM197.12 241.6v2.3h6.28v-2.3zM80.88 246.2v2.3h6.28v-2.3zM112.28 248.5v2.3h6.28v-2.3zM162.52 248.5v2.3h6.28v-2.3zM275.09 248.5v2.3h6.33v-2.3z"/><path fill="#ad764b" shape-rendering="crispEdges" d="M143.68 79.1v2.32h6.28v-2.32zM137.4 81.42v2.32h6.28v-2.32zM287.75 81.42v2.32h6.33v-2.32zM294.08 81.42v2.32h6.33v-2.32zM68.32 83.74v2.32h6.28v-2.32zM256.1 83.74v2.32h6.33v-2.32zM281.42 83.74v2.32h6.33v-2.32zM294.08 83.74v2.32h6.33v-2.32zM316 83.74v2.32h6.26v-2.32zM68.32 86.07v2.32h6.28v-2.32zM74.6 86.07v2.32h6.28v-2.32zM80.88 86.07v2.32h6.28v-2.32zM322.26 86.07v2.32h6.26v-2.32zM228.52 88.39v2.32h6.28v-2.32zM241.08 88.39v2.32h6.28v-2.32zM55.76 90.71v2.32h6.28v-2.32zM87.16 95.36v2.32h6.28v-2.32zM143.68 95.36v2.32h6.28v-2.32zM228.52 95.36v2.32h6.28v-2.32zM316 95.36v2.32h6.26v-2.32zM287.75 97.68v2.32h6.33v-2.32zM334.78 102.1v2.35h6.26v-2.35zM203.4 104.45v2.35h6.28v-2.35zM228.52 104.45v2.35h6.28v-2.35zM300.41 104.45v2.35h6.33v-2.35zM262.43 109.15v2.35h6.33v-2.35zM156.24 113.85v2.35h6.28v-2.35zM124.84 116.2v2.35h6.28v-2.35zM287.75 116.2v2.35h6.33v-2.35zM294.08 116.2v2.35h6.33v-2.35zM359.82 116.2v2.35h6.26v-2.35zM184.56 120.9v2.35h6.28v-2.35zM197.12 120.9v2.35h6.28v-2.35zM256.1 120.9v2.35h6.33v-2.35zM322.26 120.9v2.35h6.26v-2.35zM366.08 120.9v2.35h6.26v-2.35zM256.1 123.25v2.35h6.33v-2.35zM316 125.6v2.35h6.26v-2.35zM112.28 127.95v2.35h6.28v-2.35zM43.2 142v2.54h6.28v-2.54zM184.56 142v2.54h6.28v-2.54zM234.8 142v2.54h6.28v-2.54zM222.24 147.08v2.54h6.28v-2.54zM234.8 147.08v2.54h6.28v-2.54zM241.08 147.08v2.54h6.28v-2.54zM43.2 149.62v2.54h6.28v-2.54zM99.72 149.62v2.54h6.28v-2.54zM149.96 149.62v2.54h6.28v-2.54zM156.24 149.62v2.54h6.28v-2.54zM162.52 149.62v2.54h6.28v-2.54zM68.32 152.16v2.54h6.28v-2.54zM74.6 152.16v2.54h6.28v-2.54zM156.24 152.16v2.54h6.28v-2.54zM162.52 152.16v2.54h6.28v-2.54zM184.56 152.16v2.54h6.28v-2.54zM203.4 152.16v2.54h6.28v-2.54zM234.8 152.16v2.54h6.28v-2.54zM247.36 152.16v2.54h6.28v-2.54zM99.72 157v2.45h6.28v-2.45zM215.96 157v2.45h6.28v-2.45zM341.04 157v2.45h6.26v-2.45zM347.3 157v2.45h6.26v-2.45zM353.56 157v2.45h6.26v-2.45zM80.88 159.45v2.45h6.28v-2.45zM87.16 159.45v2.45h6.28v-2.45zM93.44 159.45v2.45h6.28v-2.45zM203.4 159.45v2.45h6.28v-2.45zM68.32 169.5v2.4h6.28v-2.4zM74.6 169.5v2.4h6.28v-2.4zM87.16 169.5v2.4h6.28v-2.4zM215.96 169.5v2.4h6.28v-2.4zM234.8 169.5v2.4h6.28v-2.4zM222.24 174.3v2.4h6.28v-2.4zM234.8 174.3v2.4h6.28v-2.4zM275.09 176.7v2.4h6.33v-2.4zM190.84 179.1v2.4h6.28v-2.4zM316 179.1v2.4h6.26v-2.4zM281.42 183.9v2.4h6.33v-2.4zM287.75 183.9v2.4h6.33v-2.4zM294.08 183.9v2.4h6.33v-2.4zM372.34 183.9v2.4h6.26v-2.4zM234.8 186.3v2.4h6.28v-2.4zM262.43 186.3v2.4h6.33v-2.4zM268.76 186.3v2.4h6.33v-2.4zM316 186.3v2.4h6.26v-2.4zM334.78 186.3v2.4h6.26v-2.4zM316 211.69v2.23h6.26v-2.23zM322.26 211.69v2.23h6.26v-2.23zM328.52 211.69v2.23h6.26v-2.23zM372.34 241.6v2.3h6.26v-2.3zM316 243.9v2.3h6.26v-2.3zM247.36 248.5v2.3h6.28v-2.3z"/><path fill="#c29167" shape-rendering="crispEdges" d="M149.96 79.1v2.32h6.28v-2.32zM156.24 79.1v2.32h6.28v-2.32zM322.26 79.1v2.32h6.26v-2.32zM93.44 81.42v2.32h6.28v-2.32zM156.24 83.74v2.32h6.28v-2.32zM287.75 86.07v2.32h6.33v-2.32zM300.41 86.07v2.32h6.33v-2.32zM268.76 90.71v2.32h6.33v-2.32zM328.52 90.71v2.32h6.26v-2.32zM74.6 93.03v2.32h6.28v-2.32zM80.88 93.03v2.32h6.28v-2.32zM118.56 93.03v2.32h6.28v-2.32zM68.32 95.36v2.32h6.28v-2.32zM241.08 95.36v2.32h6.28v-2.32zM347.3 95.36v2.32h6.26v-2.32zM256.1 97.68v2.32h6.33v-2.32zM294.08 104.45v2.35h6.33v-2.35zM306.74 104.45v2.35h6.33v-2.35zM118.56 106.8v2.35h6.28v-2.35zM241.08 106.8v2.35h6.28v-2.35zM228.52 109.15v2.35h6.28v-2.35zM275.09 109.15v2.35h6.33v-2.35zM62.04 113.85v2.35h6.28v-2.35zM262.43 113.85v2.35h6.33v-2.35zM275.09 113.85v2.35h6.33v-2.35zM112.28 116.2v2.35h6.28v-2.35zM197.12 116.2v2.35h6.28v-2.35zM353.56 116.2v2.35h6.26v-2.35zM43.2 123.25v2.35h6.28v-2.35zM49.48 123.25v2.35h6.28v-2.35zM241.08 125.6v2.35h6.28v-2.35zM334.78 125.6v2.35h6.26v-2.35zM241.08 127.95v2.35h6.28v-2.35zM80.88 142v2.54h6.28v-2.54zM99.72 142v2.54h6.28v-2.54zM241.08 142v2.54h6.28v-2.54zM247.36 142v2.54h6.28v-2.54zM281.42 142v2.54h6.33v-2.54zM49.48 144.54v2.54h6.28v-2.54zM247.36 144.54v2.54h6.28v-2.54zM118.56 152.16v2.54h6.28v-2.54zM294.08 164.7v2.4h6.33v-2.4zM228.52 167.1v2.4h6.28v-2.4zM241.08 167.1v2.4h6.28v-2.4zM300.41 167.1v2.4h6.33v-2.4zM62.04 179.1v2.4h6.28v-2.4zM247.36 179.1v2.4h6.28v-2.4zM262.43 179.1v2.4h6.33v-2.4zM372.34 181.5v2.4h6.26v-2.4zM178.28 186.3v2.4h6.28v-2.4zM372.34 191.2v2.18h6.26v-2.18zM112.28 193.38v2.18h6.28v-2.18zM262.43 193.38v2.18h6.33v-2.18zM281.42 193.38v2.18h6.33v-2.18zM300.41 193.38v2.18h6.33v-2.18zM322.26 199.92v2.18h6.26v-2.18zM359.82 199.92v2.18h6.26v-2.18zM366.08 232.4v2.3h6.26v-2.3zM328.52 237v2.3h6.26v-2.3zM190.84 239.3v2.3h6.28v-2.3zM234.8 239.3v2.3h6.28v-2.3zM241.08 239.3v2.3h6.28v-2.3zM222.24 246.2v2.3h6.28v-2.3zM322.26 248.5v2.3h6.26v-2.3z"/><path fill="#29175b" shape-rendering="crispEdges" d="M172 79.1v2.32h6.28v-2.32zM178.28 79.1v2.32h6.28v-2.32zM190.84 86.07v2.32h6.28v-2.32zM222.24 86.07v2.32h6.28v-2.32zM228.52 86.07v2.32h6.28v-2.32zM341.04 88.39v2.32h6.26v-2.32zM234.8 97.68v2.32h6.28v-2.32zM241.08 97.68v2.32h6.28v-2.32zM334.78 97.68v2.32h6.26v-2.32zM99.72 102.1v2.35h6.28v-2.35zM124.84 102.1v2.35h6.28v-2.35zM80.88 104.45v2.35h6.28v-2.35zM143.68 104.45v2.35h6.28v-2.35zM143.68 116.2v2.35h6.28v-2.35zM215.96 120.9v2.35h6.28v-2.35zM306.74 132.65v2.35h6.33v-2.35zM62.04 137.35v2.35h6.28v-2.35zM294.08 137.35v2.35h6.33v-2.35zM300.41 144.54v2.54h6.33v-2.54zM322.26 147.08v2.54h6.26v-2.54zM372.34 157v2.45h6.26v-2.45zM294.08 159.45v2.45h6.33v-2.45zM372.34 159.45v2.45h6.26v-2.45zM209.68 164.7v2.4h6.28v-2.4zM372.34 164.7v2.4h6.26v-2.4zM49.48 167.1v2.4h6.28v-2.4zM55.76 167.1v2.4h6.28v-2.4zM62.04 167.1v2.4h6.28v-2.4zM74.6 167.1v2.4h6.28v-2.4zM149.96 167.1v2.4h6.28v-2.4zM197.12 169.5v2.4h6.28v-2.4zM112.28 176.7v2.4h6.28v-2.4zM215.96 176.7v2.4h6.28v-2.4zM149.96 179.1v2.4h6.28v-2.4zM156.24 179.1v2.4h6.28v-2.4zM49.48 181.5v2.4h6.28v-2.4zM306.74 183.9v2.4h6.33v-2.4zM322.26 183.9v2.4h6.26v-2.4zM43.2 186.3v2.4h6.28v-2.4zM131.12 186.3v2.4h6.28v-2.4zM137.4 186.3v2.4h6.28v-2.4zM143.68 186.3v2.4h6.28v-2.4zM149.96 186.3v2.4h6.28v-2.4zM262.43 211.69v2.23h6.33v-2.23zM268.76 211.69v2.23h6.33v-2.23zM275.09 211.69v2.23h6.33v-2.23zM281.42 211.69v2.23h6.33v-2.23zM106 243.9v2.3h6.28v-2.3zM162.52 243.9v2.3h6.28v-2.3zM300.41 243.9v2.3h6.33v-2.3z"/><path fill="#2d1b62" shape-rendering="crispEdges" d="M184.56 79.1v2.32h6.28v-2.32zM372.34 83.74v2.32h6.26v-2.32zM172 86.07v2.32h6.28v-2.32zM203.4 86.07v2.32h6.28v-2.32zM209.68 86.07v2.32h6.28v-2.32zM334.78 88.39v2.32h6.26v-2.32zM222.24 90.71v2.32h6.28v-2.32zM341.04 93.03v2.32h6.26v-2.32zM341.04 97.68v2.32h6.26v-2.32zM131.12 102.1v2.35h6.28v-2.35zM68.32 109.15v2.35h6.28v-2.35zM74.6 109.15v2.35h6.28v-2.35zM281.42 111.5v2.35h6.33v-2.35zM316 113.85v2.35h6.26v-2.35zM341.04 113.85v2.35h6.26v-2.35zM74.6 116.2v2.35h6.28v-2.35zM80.88 116.2v2.35h6.28v-2.35zM215.96 118.55v2.35h6.28v-2.35zM294.08 118.55v2.35h6.33v-2.35zM124.84 120.9v2.35h6.28v-2.35zM287.75 125.6v2.35h6.33v-2.35zM87.16 127.95v2.35h6.28v-2.35zM372.34 132.65v2.35h6.26v-2.35zM262.43 135v2.35h6.33v-2.35zM268.76 135v2.35h6.33v-2.35zM275.09 135v2.35h6.33v-2.35zM74.6 137.35v2.35h6.28v-2.35zM281.42 137.35v2.35h6.33v-2.35zM328.52 147.08v2.54h6.26v-2.54zM366.08 147.08v2.54h6.26v-2.54zM256.1 149.62v2.54h6.33v-2.54zM334.78 164.7v2.4h6.26v-2.4zM80.88 167.1v2.4h6.28v-2.4zM62.04 169.5v2.4h6.28v-2.4zM118.56 174.3v2.4h6.28v-2.4zM43.2 176.7v2.4h6.28v-2.4zM241.08 176.7v2.4h6.28v-2.4zM143.68 181.5v2.4h6.28v-2.4zM99.72 186.3v2.4h6.28v-2.4zM43.2 211.69v2.23h6.28v-2.23zM49.48 211.69v2.23h6.28v-2.23zM93.44 211.69v2.23h6.28v-2.23zM106 211.69v2.23h6.28v-2.23zM112.28 211.69v2.23h6.28v-2.23zM118.56 211.69v2.23h6.28v-2.23zM124.84 211.69v2.23h6.28v-2.23zM131.12 211.69v2.23h6.28v-2.23zM137.4 211.69v2.23h6.28v-2.23zM143.68 211.69v2.23h6.28v-2.23zM156.24 211.69v2.23h6.28v-2.23zM162.52 211.69v2.23h6.28v-2.23zM43.2 227.8v2.3h6.28v-2.3zM49.48 227.8v2.3h6.28v-2.3zM55.76 227.8v2.3h6.28v-2.3zM118.56 241.6v2.3h6.28v-2.3zM131.12 243.9v2.3h6.28v-2.3zM156.24 243.9v2.3h6.28v-2.3z"/><path fill="#8d81b9" shape-rendering="crispEdges" d="M190.84 79.1v2.32h6.28v-2.32zM197.12 79.1v2.32h6.28v-2.32zM347.3 81.42v2.32h6.26v-2.32zM172 83.74v2.32h6.28v-2.32zM334.78 86.07v2.32h6.26v-2.32zM341.04 86.07v2.32h6.26v-2.32zM131.12 88.39v2.32h6.28v-2.32zM137.4 88.39v2.32h6.28v-2.32zM143.68 88.39v2.32h6.28v-2.32zM190.84 88.39v2.32h6.28v-2.32zM197.12 88.39v2.32h6.28v-2.32zM328.52 93.03v2.32h6.26v-2.32zM372.34 97.68v2.32h6.26v-2.32zM74.6 102.1v2.35h6.28v-2.35zM80.88 102.1v2.35h6.28v-2.35zM162.52 104.45v2.35h6.28v-2.35zM347.3 104.45v2.35h6.26v-2.35zM353.56 104.45v2.35h6.26v-2.35zM359.82 104.45v2.35h6.26v-2.35zM87.16 109.15v2.35h6.28v-2.35zM99.72 111.5v2.35h6.28v-2.35zM106 111.5v2.35h6.28v-2.35zM112.28 111.5v2.35h6.28v-2.35zM184.56 111.5v2.35h6.28v-2.35zM197.12 111.5v2.35h6.28v-2.35zM287.75 120.9v2.35h6.33v-2.35zM328.52 123.25v2.35h6.26v-2.35zM68.32 125.6v2.35h6.28v-2.35zM156.24 125.6v2.35h6.28v-2.35zM149.96 127.95v2.35h6.28v-2.35zM124.84 130.3v2.35h6.28v-2.35zM275.09 130.3v2.35h6.33v-2.35zM316 130.3v2.35h6.26v-2.35zM74.6 135v2.35h6.28v-2.35zM93.44 135v2.35h6.28v-2.35zM99.72 135v2.35h6.28v-2.35zM106 135v2.35h6.28v-2.35zM322.26 135v2.35h6.26v-2.35zM328.52 135v2.35h6.26v-2.35zM137.4 137.35v2.35h6.28v-2.35zM281.42 144.54v2.54h6.33v-2.54zM143.68 147.08v2.54h6.28v-2.54zM149.96 147.08v2.54h6.28v-2.54zM156.24 147.08v2.54h6.28v-2.54zM306.74 147.08v2.54h6.33v-2.54zM316 152.16v2.54h6.26v-2.54zM322.26 152.16v2.54h6.26v-2.54zM68.32 157v2.45h6.28v-2.45zM184.56 157v2.45h6.28v-2.45zM124.84 159.45v2.45h6.28v-2.45zM131.12 159.45v2.45h6.28v-2.45zM137.4 159.45v2.45h6.28v-2.45zM55.76 164.7v2.4h6.28v-2.4zM93.44 164.7v2.4h6.28v-2.4zM99.72 164.7v2.4h6.28v-2.4zM262.43 174.3v2.4h6.33v-2.4zM256.1 181.5v2.4h6.33v-2.4zM190.84 183.9v2.4h6.28v-2.4zM347.3 183.9v2.4h6.26v-2.4zM68.32 191.2v2.18h6.28v-2.18zM118.56 191.2v2.18h6.28v-2.18zM149.96 191.2v2.18h6.28v-2.18zM222.24 191.2v2.18h6.28v-2.18zM247.36 191.2v2.18h6.28v-2.18zM275.09 191.2v2.18h6.33v-2.18zM162.52 195.56v2.18h6.28v-2.18zM156.24 197.74v2.18h6.28v-2.18zM268.76 197.74v2.18h6.33v-2.18zM316 197.74v2.18h6.26v-2.18zM334.78 197.74v2.18h6.26v-2.18zM156.24 199.92v2.18h6.28v-2.18zM222.24 199.92v2.18h6.28v-2.18zM275.09 199.92v2.18h6.33v-2.18zM49.48 223.2v2.3h6.28v-2.3zM74.6 223.2v2.3h6.28v-2.3zM341.04 223.2v2.3h6.26v-2.3zM43.2 225.5v2.3h6.28v-2.3zM74.6 225.5v2.3h6.28v-2.3zM87.16 225.5v2.3h6.28v-2.3zM93.44 225.5v2.3h6.28v-2.3zM353.56 225.5v2.3h6.26v-2.3zM172 227.8v2.3h6.28v-2.3zM190.84 227.8v2.3h6.28v-2.3zM203.4 227.8v2.3h6.28v-2.3zM209.68 227.8v2.3h6.28v-2.3zM228.52 227.8v2.3h6.28v-2.3zM281.42 227.8v2.3h6.33v-2.3zM300.41 227.8v2.3h6.33v-2.3zM87.16 230.1v2.3h6.28v-2.3zM93.44 230.1v2.3h6.28v-2.3zM106 230.1v2.3h6.28v-2.3zM118.56 230.1v2.3h6.28v-2.3zM124.84 230.1v2.3h6.28v-2.3zM131.12 230.1v2.3h6.28v-2.3zM137.4 230.1v2.3h6.28v-2.3zM149.96 230.1v2.3h6.28v-2.3zM43.2 232.4v2.3h6.28v-2.3zM49.48 232.4v2.3h6.28v-2.3zM62.04 232.4v2.3h6.28v-2.3zM74.6 232.4v2.3h6.28v-2.3zM80.88 232.4v2.3h6.28v-2.3zM87.16 232.4v2.3h6.28v-2.3zM93.44 232.4v2.3h6.28v-2.3zM99.72 232.4v2.3h6.28v-2.3zM137.4 232.4v2.3h6.28v-2.3zM143.68 232.4v2.3h6.28v-2.3zM149.96 232.4v2.3h6.28v-2.3zM156.24 232.4v2.3h6.28v-2.3zM197.12 232.4v2.3h6.28v-2.3zM203.4 232.4v2.3h6.28v-2.3zM43.2 234.7v2.3h6.28v-2.3zM74.6 234.7v2.3h6.28v-2.3zM80.88 234.7v2.3h6.28v-2.3zM87.16 234.7v2.3h6.28v-2.3zM93.44 234.7v2.3h6.28v-2.3zM99.72 234.7v2.3h6.28v-2.3zM106 234.7v2.3h6.28v-2.3zM112.28 234.7v2.3h6.28v-2.3zM118.56 234.7v2.3h6.28v-2.3zM124.84 234.7v2.3h6.28v-2.3zM131.12 234.7v2.3h6.28v-2.3zM137.4 234.7v2.3h6.28v-2.3zM149.96 234.7v2.3h6.28v-2.3zM156.24 234.7v2.3h6.28v-2.3zM241.08 234.7v2.3h6.28v-2.3zM247.36 234.7v2.3h6.28v-2.3zM43.2 237v2.3h6.28v-2.3zM68.32 237v2.3h6.28v-2.3zM106 237v2.3h6.28v-2.3zM112.28 237v2.3h6.28v-2.3zM118.56 237v2.3h6.28v-2.3zM124.84 237v2.3h6.28v-2.3zM137.4 237v2.3h6.28v-2.3zM143.68 237v2.3h6.28v-2.3zM149.96 237v2.3h6.28v-2.3zM162.52 237v2.3h6.28v-2.3zM178.28 237v2.3h6.28v-2.3zM184.56 237v2.3h6.28v-2.3zM190.84 237v2.3h6.28v-2.3zM234.8 237v2.3h6.28v-2.3zM256.1 237v2.3h6.33v-2.3zM262.43 237v2.3h6.33v-2.3zM281.42 237v2.3h6.33v-2.3zM287.75 237v2.3h6.33v-2.3zM294.08 237v2.3h6.33v-2.3zM300.41 237v2.3h6.33v-2.3zM306.74 237v2.3h6.33v-2.3zM68.32 239.3v2.3h6.28v-2.3zM124.84 239.3v2.3h6.28v-2.3zM143.68 239.3v2.3h6.28v-2.3zM256.1 239.3v2.3h6.33v-2.3zM43.2 241.6v2.3h6.28v-2.3zM143.68 241.6v2.3h6.28v-2.3zM184.56 241.6v2.3h6.28v-2.3zM203.4 241.6v2.3h6.28v-2.3zM281.42 241.6v2.3h6.33v-2.3zM137.4 243.9v2.3h6.28v-2.3zM43.2 246.2v2.3h6.28v-2.3zM62.04 246.2v2.3h6.28v-2.3zM68.32 246.2v2.3h6.28v-2.3zM68.32 248.5v2.3h6.28v-2.3z"/><path fill="#3f2e78" shape-rendering="crispEdges" d="M203.4 79.1v2.32h6.28v-2.32zM222.24 79.1v2.32h6.28v-2.32zM234.8 81.42v2.32h6.28v-2.32zM347.3 83.74v2.32h6.26v-2.32zM359.82 83.74v2.32h6.26v-2.32zM172 90.71v2.32h6.28v-2.32zM215.96 90.71v2.32h6.28v-2.32zM222.24 93.03v2.32h6.28v-2.32zM359.82 93.03v2.32h6.26v-2.32zM372.34 102.1v2.35h6.26v-2.35zM49.48 111.5v2.35h6.28v-2.35zM287.75 111.5v2.35h6.33v-2.35zM306.74 111.5v2.35h6.33v-2.35zM322.26 113.85v2.35h6.26v-2.35zM43.2 116.2v2.35h6.28v-2.35zM241.08 118.55v2.35h6.28v-2.35zM74.6 120.9v2.35h6.28v-2.35zM80.88 120.9v2.35h6.28v-2.35zM275.09 125.6v2.35h6.33v-2.35zM162.52 127.95v2.35h6.28v-2.35zM347.3 130.3v2.35h6.26v-2.35zM137.4 135v2.35h6.28v-2.35zM149.96 135v2.35h6.28v-2.35zM93.44 137.35v2.35h6.28v-2.35zM99.72 137.35v2.35h6.28v-2.35zM118.56 137.35v2.35h6.28v-2.35zM149.96 137.35v2.35h6.28v-2.35zM347.3 142v2.54h6.26v-2.54zM275.09 149.62v2.54h6.33v-2.54zM334.78 159.45v2.45h6.26v-2.45zM341.04 159.45v2.45h6.26v-2.45zM347.3 159.45v2.45h6.26v-2.45zM93.44 167.1v2.4h6.28v-2.4zM43.2 169.5v2.4h6.28v-2.4zM93.44 169.5v2.4h6.28v-2.4zM112.28 174.3v2.4h6.28v-2.4zM137.4 174.3v2.4h6.28v-2.4zM203.4 176.7v2.4h6.28v-2.4zM87.16 197.74v2.18h6.28v-2.18zM118.56 197.74v2.18h6.28v-2.18zM366.08 211.69v2.23h6.26v-2.23zM190.84 225.5v2.3h6.28v-2.3zM268.76 225.5v2.3h6.33v-2.3zM281.42 225.5v2.3h6.33v-2.3zM118.56 227.8v2.3h6.28v-2.3zM124.84 227.8v2.3h6.28v-2.3zM49.48 241.6v2.3h6.28v-2.3zM62.04 241.6v2.3h6.28v-2.3zM294.08 241.6v2.3h6.33v-2.3zM68.32 243.9v2.3h6.28v-2.3zM262.43 246.2v2.3h6.33v-2.3zM124.84 248.5v2.3h6.28v-2.3zM149.96 248.5v2.3h6.28v-2.3z"/><path fill="#2b195f" shape-rendering="crispEdges" d="M209.68 79.1v2.32h6.28v-2.32zM228.52 81.42v2.32h6.28v-2.32zM215.96 86.07v2.32h6.28v-2.32zM215.96 93.03v2.32h6.28v-2.32zM347.3 97.68v2.32h6.26v-2.32zM93.44 102.1v2.35h6.28v-2.35zM112.28 104.45v2.35h6.28v-2.35zM80.88 109.15v2.35h6.28v-2.35zM215.96 111.5v2.35h6.28v-2.35zM328.52 113.85v2.35h6.26v-2.35zM43.2 120.9v2.35h6.28v-2.35zM55.76 120.9v2.35h6.28v-2.35zM215.96 135v2.35h6.28v-2.35zM106 137.35v2.35h6.28v-2.35zM359.82 142v2.54h6.26v-2.54zM334.78 147.08v2.54h6.26v-2.54zM322.26 149.62v2.54h6.26v-2.54zM334.78 149.62v2.54h6.26v-2.54zM347.3 149.62v2.54h6.26v-2.54zM353.56 149.62v2.54h6.26v-2.54zM215.96 152.16v2.54h6.28v-2.54zM316 159.45v2.45h6.26v-2.45zM328.52 164.7v2.4h6.26v-2.4zM118.56 167.1v2.4h6.28v-2.4zM55.76 169.5v2.4h6.28v-2.4zM178.28 169.5v2.4h6.28v-2.4zM162.52 171.9v2.4h6.28v-2.4zM99.72 176.7v2.4h6.28v-2.4zM209.68 176.7v2.4h6.28v-2.4zM234.8 176.7v2.4h6.28v-2.4zM287.75 181.5v2.4h6.33v-2.4zM80.88 186.3v2.4h6.28v-2.4zM87.16 186.3v2.4h6.28v-2.4zM256.1 211.69v2.23h6.33v-2.23zM287.75 211.69v2.23h6.33v-2.23zM294.08 211.69v2.23h6.33v-2.23zM300.41 211.69v2.23h6.33v-2.23zM306.74 211.69v2.23h6.33v-2.23zM62.04 227.8v2.3h6.28v-2.3zM80.88 227.8v2.3h6.28v-2.3zM353.56 234.7v2.3h6.26v-2.3zM359.82 234.7v2.3h6.26v-2.3zM366.08 234.7v2.3h6.26v-2.3zM93.44 241.6v2.3h6.28v-2.3zM99.72 241.6v2.3h6.28v-2.3zM106 241.6v2.3h6.28v-2.3zM112.28 241.6v2.3h6.28v-2.3zM43.2 243.9v2.3h6.28v-2.3zM112.28 243.9v2.3h6.28v-2.3zM118.56 243.9v2.3h6.28v-2.3zM124.84 243.9v2.3h6.28v-2.3zM149.96 243.9v2.3h6.28v-2.3z"/><path fill="#392770" shape-rendering="crispEdges" d="M215.96 79.1v2.32h6.28v-2.32zM366.08 83.74v2.32h6.26v-2.32zM247.36 86.07v2.32h6.28v-2.32zM334.78 93.03v2.32h6.26v-2.32zM347.3 93.03v2.32h6.26v-2.32zM184.56 95.36v2.32h6.28v-2.32zM172 97.68v2.32h6.28v-2.32zM112.28 102.1v2.35h6.28v-2.35zM118.56 102.1v2.35h6.28v-2.35zM281.42 102.1v2.35h6.33v-2.35zM62.04 111.5v2.35h6.28v-2.35zM294.08 111.5v2.35h6.33v-2.35zM118.56 120.9v2.35h6.28v-2.35zM131.12 120.9v2.35h6.28v-2.35zM131.12 127.95v2.35h6.28v-2.35zM334.78 130.3v2.35h6.26v-2.35zM341.04 130.3v2.35h6.26v-2.35zM256.1 132.65v2.35h6.33v-2.35zM275.09 132.65v2.35h6.33v-2.35zM112.28 137.35v2.35h6.28v-2.35zM287.75 137.35v2.35h6.33v-2.35zM300.41 137.35v2.35h6.33v-2.35zM316 142v2.54h6.26v-2.54zM341.04 142v2.54h6.26v-2.54zM341.04 147.08v2.54h6.26v-2.54zM347.3 147.08v2.54h6.26v-2.54zM359.82 147.08v2.54h6.26v-2.54zM341.04 149.62v2.54h6.26v-2.54zM328.52 159.45v2.45h6.26v-2.45zM190.84 169.5v2.4h6.28v-2.4zM306.74 169.5v2.4h6.33v-2.4zM359.82 171.9v2.4h6.26v-2.4zM143.68 174.3v2.4h6.28v-2.4zM300.41 181.5v2.4h6.33v-2.4zM43.2 183.9v2.4h6.28v-2.4zM68.32 186.3v2.4h6.28v-2.4zM99.72 197.74v2.18h6.28v-2.18zM341.04 211.69v2.23h6.26v-2.23zM347.3 211.69v2.23h6.26v-2.23zM353.56 211.69v2.23h6.26v-2.23zM359.82 211.69v2.23h6.26v-2.23zM372.34 211.69v2.23h6.26v-2.23zM262.43 225.5v2.3h6.33v-2.3zM275.09 225.5v2.3h6.33v-2.3zM287.75 225.5v2.3h6.33v-2.3zM294.08 225.5v2.3h6.33v-2.3zM300.41 225.5v2.3h6.33v-2.3zM306.74 225.5v2.3h6.33v-2.3zM68.32 227.8v2.3h6.28v-2.3zM74.6 227.8v2.3h6.28v-2.3zM93.44 227.8v2.3h6.28v-2.3zM99.72 227.8v2.3h6.28v-2.3zM143.68 227.8v2.3h6.28v-2.3zM149.96 227.8v2.3h6.28v-2.3zM262.43 241.6v2.3h6.33v-2.3zM275.09 241.6v2.3h6.33v-2.3zM287.75 243.9v2.3h6.33v-2.3zM294.08 243.9v2.3h6.33v-2.3zM268.76 246.2v2.3h6.33v-2.3zM294.08 246.2v2.3h6.33v-2.3zM43.2 248.5v2.3h6.28v-2.3zM143.68 248.5v2.3h6.28v-2.3z"/><path fill="#ada5cc" shape-rendering="crispEdges" d="M228.52 79.1v2.32h6.28v-2.32zM341.04 81.42v2.32h6.26v-2.32zM49.48 88.39v2.32h6.28v-2.32zM184.56 88.39v2.32h6.28v-2.32zM294.08 88.39v2.32h6.33v-2.32zM366.08 90.71v2.32h6.26v-2.32zM275.09 93.03v2.32h6.33v-2.32zM49.48 106.8v2.35h6.28v-2.35zM262.43 106.8v2.35h6.33v-2.35zM281.42 109.15v2.35h6.33v-2.35zM178.28 111.5v2.35h6.28v-2.35zM190.84 111.5v2.35h6.28v-2.35zM228.52 111.5v2.35h6.28v-2.35zM347.3 111.5v2.35h6.26v-2.35zM172 116.2v2.35h6.28v-2.35zM281.42 116.2v2.35h6.33v-2.35zM262.43 118.55v2.35h6.33v-2.35zM316 118.55v2.35h6.26v-2.35zM80.88 123.25v2.35h6.28v-2.35zM294.08 123.25v2.35h6.33v-2.35zM347.3 123.25v2.35h6.26v-2.35zM341.04 127.95v2.35h6.26v-2.35zM106 130.3v2.35h6.28v-2.35zM118.56 130.3v2.35h6.28v-2.35zM131.12 130.3v2.35h6.28v-2.35zM149.96 130.3v2.35h6.28v-2.35zM156.24 130.3v2.35h6.28v-2.35zM172 130.3v2.35h6.28v-2.35zM62.04 135v2.35h6.28v-2.35zM68.32 135v2.35h6.28v-2.35zM80.88 135v2.35h6.28v-2.35zM118.56 135v2.35h6.28v-2.35zM322.26 144.54v2.54h6.26v-2.54zM118.56 147.08v2.54h6.28v-2.54zM124.84 147.08v2.54h6.28v-2.54zM294.08 147.08v2.54h6.33v-2.54zM328.52 152.16v2.54h6.26v-2.54zM334.78 152.16v2.54h6.26v-2.54zM353.56 152.16v2.54h6.26v-2.54zM43.2 164.7v2.4h6.28v-2.4zM137.4 169.5v2.4h6.28v-2.4zM228.52 171.9v2.4h6.28v-2.4zM93.44 174.3v2.4h6.28v-2.4zM93.44 179.1v2.4h6.28v-2.4zM137.4 183.9v2.4h6.28v-2.4zM149.96 183.9v2.4h6.28v-2.4zM156.24 183.9v2.4h6.28v-2.4zM197.12 183.9v2.4h6.28v-2.4zM80.88 191.2v2.18h6.28v-2.18zM99.72 191.2v2.18h6.28v-2.18zM137.4 191.2v2.18h6.28v-2.18zM228.52 191.2v2.18h6.28v-2.18zM241.08 191.2v2.18h6.28v-2.18zM353.56 191.2v2.18h6.26v-2.18zM359.82 191.2v2.18h6.26v-2.18zM149.96 195.56v2.18h6.28v-2.18zM190.84 197.74v2.18h6.28v-2.18zM275.09 197.74v2.18h6.33v-2.18zM281.42 197.74v2.18h6.33v-2.18zM328.52 197.74v2.18h6.26v-2.18zM359.82 197.74v2.18h6.26v-2.18zM366.08 197.74v2.18h6.26v-2.18zM80.88 199.92v2.18h6.28v-2.18zM124.84 199.92v2.18h6.28v-2.18zM62.04 223.2v2.3h6.28v-2.3zM87.16 223.2v2.3h6.28v-2.3zM93.44 223.2v2.3h6.28v-2.3zM99.72 223.2v2.3h6.28v-2.3zM106 223.2v2.3h6.28v-2.3zM112.28 223.2v2.3h6.28v-2.3zM118.56 223.2v2.3h6.28v-2.3zM124.84 223.2v2.3h6.28v-2.3zM131.12 223.2v2.3h6.28v-2.3zM137.4 223.2v2.3h6.28v-2.3zM143.68 223.2v2.3h6.28v-2.3zM149.96 223.2v2.3h6.28v-2.3zM156.24 223.2v2.3h6.28v-2.3zM162.52 223.2v2.3h6.28v-2.3zM178.28 223.2v2.3h6.28v-2.3zM184.56 223.2v2.3h6.28v-2.3zM190.84 223.2v2.3h6.28v-2.3zM215.96 223.2v2.3h6.28v-2.3zM222.24 223.2v2.3h6.28v-2.3zM228.52 223.2v2.3h6.28v-2.3zM234.8 223.2v2.3h6.28v-2.3zM241.08 223.2v2.3h6.28v-2.3zM247.36 223.2v2.3h6.28v-2.3zM256.1 223.2v2.3h6.33v-2.3zM294.08 223.2v2.3h6.33v-2.3zM300.41 223.2v2.3h6.33v-2.3zM306.74 223.2v2.3h6.33v-2.3zM334.78 223.2v2.3h6.26v-2.3zM372.34 223.2v2.3h6.26v-2.3zM106 225.5v2.3h6.28v-2.3zM112.28 225.5v2.3h6.28v-2.3zM118.56 225.5v2.3h6.28v-2.3zM131.12 225.5v2.3h6.28v-2.3zM149.96 225.5v2.3h6.28v-2.3zM156.24 225.5v2.3h6.28v-2.3zM162.52 225.5v2.3h6.28v-2.3zM372.34 225.5v2.3h6.26v-2.3zM234.8 227.8v2.3h6.28v-2.3zM247.36 227.8v2.3h6.28v-2.3zM353.56 227.8v2.3h6.26v-2.3zM341.04 230.1v2.3h6.26v-2.3zM74.6 239.3v2.3h6.28v-2.3zM99.72 239.3v2.3h6.28v-2.3zM106 239.3v2.3h6.28v-2.3zM149.96 239.3v2.3h6.28v-2.3zM162.52 239.3v2.3h6.28v-2.3zM287.75 239.3v2.3h6.33v-2.3zM294.08 239.3v2.3h6.33v-2.3zM300.41 239.3v2.3h6.33v-2.3zM262.43 243.9v2.3h6.33v-2.3zM372.34 243.9v2.3h6.26v-2.3zM49.48 246.2v2.3h6.28v-2.3zM74.6 246.2v2.3h6.28v-2.3zM99.72 246.2v2.3h6.28v-2.3zM143.68 246.2v2.3h6.28v-2.3zM74.6 248.5v2.3h6.28v-2.3zM215.96 248.5v2.3h6.28v-2.3zM222.24 248.5v2.3h6.28v-2.3z"/><path fill="#64549e" shape-rendering="crispEdges" d="M234.8 79.1v2.32h6.28v-2.32zM156.24 81.42v2.32h6.28v-2.32zM228.52 90.71v2.32h6.28v-2.32zM322.26 93.03v2.32h6.26v-2.32zM306.74 102.1v2.35h6.33v-2.35zM124.84 104.45v2.35h6.28v-2.35zM334.78 104.45v2.35h6.26v-2.35zM74.6 106.8v2.35h6.28v-2.35zM256.1 106.8v2.35h6.33v-2.35zM209.68 111.5v2.35h6.28v-2.35zM43.2 118.55v2.35h6.28v-2.35zM106 120.9v2.35h6.28v-2.35zM281.42 120.9v2.35h6.33v-2.35zM353.56 123.25v2.35h6.26v-2.35zM55.76 125.6v2.35h6.28v-2.35zM80.88 125.6v2.35h6.28v-2.35zM172 125.6v2.35h6.28v-2.35zM256.1 125.6v2.35h6.33v-2.35zM143.68 127.95v2.35h6.28v-2.35zM328.52 127.95v2.35h6.26v-2.35zM215.96 130.3v2.35h6.28v-2.35zM294.08 130.3v2.35h6.33v-2.35zM353.56 130.3v2.35h6.26v-2.35zM87.16 132.65v2.35h6.28v-2.35zM178.28 132.65v2.35h6.28v-2.35zM43.2 135v2.35h6.28v-2.35zM156.24 135v2.35h6.28v-2.35zM162.52 135v2.35h6.28v-2.35zM124.84 137.35v2.35h6.28v-2.35zM215.96 137.35v2.35h6.28v-2.35zM256.1 137.35v2.35h6.33v-2.35zM306.74 137.35v2.35h6.33v-2.35zM222.24 159.45v2.45h6.28v-2.45zM228.52 159.45v2.45h6.28v-2.45zM118.56 164.7v2.4h6.28v-2.4zM124.84 164.7v2.4h6.28v-2.4zM106 167.1v2.4h6.28v-2.4zM124.84 169.5v2.4h6.28v-2.4zM143.68 169.5v2.4h6.28v-2.4zM209.68 171.9v2.4h6.28v-2.4zM241.08 171.9v2.4h6.28v-2.4zM62.04 174.3v2.4h6.28v-2.4zM156.24 174.3v2.4h6.28v-2.4zM268.76 174.3v2.4h6.33v-2.4zM184.56 176.7v2.4h6.28v-2.4zM247.36 176.7v2.4h6.28v-2.4zM262.43 181.5v2.4h6.33v-2.4zM359.82 183.9v2.4h6.26v-2.4zM366.08 183.9v2.4h6.26v-2.4zM43.2 191.2v2.18h6.28v-2.18zM62.04 191.2v2.18h6.28v-2.18zM112.28 191.2v2.18h6.28v-2.18zM143.68 191.2v2.18h6.28v-2.18zM112.28 195.56v2.18h6.28v-2.18zM124.84 195.56v2.18h6.28v-2.18zM222.24 195.56v2.18h6.28v-2.18zM275.09 195.56v2.18h6.33v-2.18zM131.12 197.74v2.18h6.28v-2.18zM62.04 199.92v2.18h6.28v-2.18zM228.52 199.92v2.18h6.28v-2.18zM256.1 199.92v2.18h6.33v-2.18zM287.75 199.92v2.18h6.33v-2.18zM256.1 227.8v2.3h6.33v-2.3zM268.76 227.8v2.3h6.33v-2.3zM347.3 227.8v2.3h6.26v-2.3zM300.41 230.1v2.3h6.33v-2.3zM347.3 230.1v2.3h6.26v-2.3zM334.78 234.7v2.3h6.26v-2.3zM372.34 237v2.3h6.26v-2.3zM215.96 241.6v2.3h6.28v-2.3zM268.76 241.6v2.3h6.33v-2.3zM55.76 248.5v2.3h6.28v-2.3zM281.42 248.5v2.3h6.33v-2.3z"/><path fill="#5a4a96" shape-rendering="crispEdges" d="M241.08 79.1v2.32h6.28v-2.32zM162.52 81.42v2.32h6.28v-2.32zM203.4 95.36v2.32h6.28v-2.32zM62.04 106.8v2.35h6.28v-2.35zM68.32 106.8v2.35h6.28v-2.35zM93.44 109.15v2.35h6.28v-2.35zM43.2 111.5v2.35h6.28v-2.35zM87.16 111.5v2.35h6.28v-2.35zM162.52 111.5v2.35h6.28v-2.35zM49.48 116.2v2.35h6.28v-2.35zM300.41 116.2v2.35h6.33v-2.35zM247.36 118.55v2.35h6.28v-2.35zM306.74 118.55v2.35h6.33v-2.35zM372.34 120.9v2.35h6.26v-2.35zM143.68 137.35v2.35h6.28v-2.35zM268.76 137.35v2.35h6.33v-2.35zM43.2 147.08v2.54h6.28v-2.54zM131.12 169.5v2.4h6.28v-2.4zM203.4 171.9v2.4h6.28v-2.4zM328.52 171.9v2.4h6.26v-2.4zM366.08 171.9v2.4h6.26v-2.4zM372.34 171.9v2.4h6.26v-2.4zM275.09 181.5v2.4h6.33v-2.4zM49.48 183.9v2.4h6.28v-2.4zM55.76 183.9v2.4h6.28v-2.4zM172 183.9v2.4h6.28v-2.4zM49.48 191.2v2.18h6.28v-2.18zM62.04 195.56v2.18h6.28v-2.18zM68.32 195.56v2.18h6.28v-2.18zM93.44 195.56v2.18h6.28v-2.18zM99.72 195.56v2.18h6.28v-2.18zM190.84 195.56v2.18h6.28v-2.18zM203.4 195.56v2.18h6.28v-2.18zM234.8 195.56v2.18h6.28v-2.18zM241.08 195.56v2.18h6.28v-2.18zM300.41 195.56v2.18h6.33v-2.18zM306.74 195.56v2.18h6.33v-2.18zM347.3 195.56v2.18h6.26v-2.18zM43.2 197.74v2.18h6.28v-2.18zM106 197.74v2.18h6.28v-2.18zM112.28 197.74v2.18h6.28v-2.18zM124.84 197.74v2.18h6.28v-2.18zM143.68 197.74v2.18h6.28v-2.18zM68.32 199.92v2.18h6.28v-2.18zM294.08 199.92v2.18h6.33v-2.18zM341.04 225.5v2.3h6.26v-2.3zM322.26 234.7v2.3h6.26v-2.3zM341.04 237v2.3h6.26v-2.3zM68.32 241.6v2.3h6.28v-2.3zM143.68 243.9v2.3h6.28v-2.3zM281.42 243.9v2.3h6.33v-2.3zM156.24 246.2v2.3h6.28v-2.3zM62.04 248.5v2.3h6.28v-2.3zM106 248.5v2.3h6.28v-2.3zM262.43 248.5v2.3h6.33v-2.3zM294.08 248.5v2.3h6.33v-2.3z"/><path fill="#4d3c86" shape-rendering="crispEdges" d="M247.36 79.1v2.32h6.28v-2.32zM241.08 81.42v2.32h6.28v-2.32zM203.4 83.74v2.32h6.28v-2.32zM222.24 83.74v2.32h6.28v-2.32zM178.28 90.71v2.32h6.28v-2.32zM353.56 93.03v2.32h6.26v-2.32zM190.84 95.36v2.32h6.28v-2.32zM215.96 95.36v2.32h6.28v-2.32zM287.75 106.8v2.35h6.33v-2.35zM43.2 109.15v2.35h6.28v-2.35zM49.48 109.15v2.35h6.28v-2.35zM131.12 109.15v2.35h6.28v-2.35zM222.24 118.55v2.35h6.28v-2.35zM93.44 120.9v2.35h6.28v-2.35zM112.28 120.9v2.35h6.28v-2.35zM300.41 120.9v2.35h6.33v-2.35zM143.68 123.25v2.35h6.28v-2.35zM334.78 123.25v2.35h6.26v-2.35zM87.16 125.6v2.35h6.28v-2.35zM93.44 125.6v2.35h6.28v-2.35zM106 125.6v2.35h6.28v-2.35zM112.28 125.6v2.35h6.28v-2.35zM215.96 125.6v2.35h6.28v-2.35zM124.84 135v2.35h6.28v-2.35zM294.08 135v2.35h6.33v-2.35zM328.52 142v2.54h6.26v-2.54zM287.75 149.62v2.54h6.33v-2.54zM241.08 159.45v2.45h6.28v-2.45zM87.16 167.1v2.4h6.28v-2.4zM322.26 171.9v2.4h6.26v-2.4zM49.48 174.3v2.4h6.28v-2.4zM197.12 176.7v2.4h6.28v-2.4zM93.44 183.9v2.4h6.28v-2.4zM316 183.9v2.4h6.26v-2.4zM178.28 195.56v2.18h6.28v-2.18zM172 225.5v2.3h6.28v-2.3zM178.28 225.5v2.3h6.28v-2.3zM334.78 225.5v2.3h6.26v-2.3zM341.04 234.7v2.3h6.26v-2.3zM234.8 241.6v2.3h6.28v-2.3zM306.74 241.6v2.3h6.33v-2.3zM55.76 243.9v2.3h6.28v-2.3zM306.74 243.9v2.3h6.33v-2.3zM287.75 248.5v2.3h6.33v-2.3z"/><path fill="#a66e44" shape-rendering="crispEdges" d="M256.1 79.1v2.32h6.33v-2.32zM262.43 79.1v2.32h6.33v-2.32zM287.75 79.1v2.32h6.33v-2.32zM55.76 81.42v2.32h6.28v-2.32zM62.04 81.42v2.32h6.28v-2.32zM99.72 81.42v2.32h6.28v-2.32zM124.84 81.42v2.32h6.28v-2.32zM149.96 81.42v2.32h6.28v-2.32zM287.75 83.74v2.32h6.33v-2.32zM93.44 86.07v2.32h6.28v-2.32zM43.2 90.71v2.32h6.28v-2.32zM87.16 90.71v2.32h6.28v-2.32zM112.28 90.71v2.32h6.28v-2.32zM124.84 95.36v2.32h6.28v-2.32zM131.12 95.36v2.32h6.28v-2.32zM268.76 97.68v2.32h6.33v-2.32zM247.36 102.1v2.35h6.28v-2.35zM328.52 102.1v2.35h6.26v-2.35zM190.84 104.45v2.35h6.28v-2.35zM256.1 104.45v2.35h6.33v-2.35zM156.24 106.8v2.35h6.28v-2.35zM341.04 106.8v2.35h6.26v-2.35zM353.56 106.8v2.35h6.26v-2.35zM241.08 109.15v2.35h6.28v-2.35zM316 116.2v2.35h6.26v-2.35zM347.3 120.9v2.35h6.26v-2.35zM353.56 120.9v2.35h6.26v-2.35zM149.96 123.25v2.35h6.28v-2.35zM162.52 123.25v2.35h6.28v-2.35zM294.08 125.6v2.35h6.33v-2.35zM353.56 125.6v2.35h6.26v-2.35zM178.28 142v2.54h6.28v-2.54zM228.52 142v2.54h6.28v-2.54zM49.48 149.62v2.54h6.28v-2.54zM93.44 152.16v2.54h6.28v-2.54zM197.12 157v2.45h6.28v-2.45zM49.48 159.45v2.45h6.28v-2.45zM372.34 167.1v2.4h6.26v-2.4zM222.24 169.5v2.4h6.28v-2.4zM228.52 169.5v2.4h6.28v-2.4zM241.08 174.3v2.4h6.28v-2.4zM328.52 174.3v2.4h6.26v-2.4zM268.76 176.7v2.4h6.33v-2.4zM306.74 176.7v2.4h6.33v-2.4zM222.24 179.1v2.4h6.28v-2.4zM215.96 183.9v2.4h6.28v-2.4zM256.1 186.3v2.4h6.33v-2.4zM328.52 230.1v2.3h6.26v-2.3zM316 241.6v2.3h6.26v-2.3zM347.3 246.2v2.3h6.26v-2.3zM366.08 246.2v2.3h6.26v-2.3zM372.34 246.2v2.3h6.26v-2.3zM234.8 248.5v2.3h6.28v-2.3z"/><path fill="#a36b41" shape-rendering="crispEdges" d="M294.08 79.1v2.32h6.33v-2.32zM300.41 79.1v2.32h6.33v-2.32zM306.74 79.1v2.32h6.33v-2.32zM316 79.1v2.32h6.26v-2.32zM118.56 81.42v2.32h6.28v-2.32zM131.12 81.42v2.32h6.28v-2.32zM268.76 81.42v2.32h6.33v-2.32zM281.42 81.42v2.32h6.33v-2.32zM99.72 86.07v2.32h6.28v-2.32zM118.56 86.07v2.32h6.28v-2.32zM131.12 86.07v2.32h6.28v-2.32zM156.24 86.07v2.32h6.28v-2.32zM99.72 90.71v2.32h6.28v-2.32zM131.12 90.71v2.32h6.28v-2.32zM99.72 95.36v2.32h6.28v-2.32zM118.56 95.36v2.32h6.28v-2.32zM156.24 95.36v2.32h6.28v-2.32zM49.48 97.68v2.32h6.28v-2.32zM55.76 97.68v2.32h6.28v-2.32zM80.88 97.68v2.32h6.28v-2.32zM99.72 97.68v2.32h6.28v-2.32zM162.52 97.68v2.32h6.28v-2.32zM281.42 97.68v2.32h6.33v-2.32zM203.4 102.1v2.35h6.28v-2.35zM347.3 102.1v2.35h6.26v-2.35zM275.09 104.45v2.35h6.33v-2.35zM328.52 106.8v2.35h6.26v-2.35zM190.84 109.15v2.35h6.28v-2.35zM247.36 109.15v2.35h6.28v-2.35zM172 113.85v2.35h6.28v-2.35zM275.09 116.2v2.35h6.33v-2.35zM268.76 120.9v2.35h6.33v-2.35zM156.24 123.25v2.35h6.28v-2.35zM172 135v2.35h6.28v-2.35zM222.24 137.35v2.35h6.28v-2.35zM172 142v2.54h6.28v-2.54zM197.12 142v2.54h6.28v-2.54zM178.28 147.08v2.54h6.28v-2.54zM80.88 149.62v2.54h6.28v-2.54zM87.16 149.62v2.54h6.28v-2.54zM93.44 149.62v2.54h6.28v-2.54zM106 149.62v2.54h6.28v-2.54zM118.56 149.62v2.54h6.28v-2.54zM131.12 149.62v2.54h6.28v-2.54zM106 152.16v2.54h6.28v-2.54zM268.76 152.16v2.54h6.33v-2.54zM247.36 157v2.45h6.28v-2.45zM43.2 159.45v2.45h6.28v-2.45zM162.52 159.45v2.45h6.28v-2.45zM209.68 159.45v2.45h6.28v-2.45zM234.8 164.7v2.4h6.28v-2.4zM353.56 164.7v2.4h6.26v-2.4zM359.82 164.7v2.4h6.26v-2.4zM322.26 174.3v2.4h6.26v-2.4zM334.78 174.3v2.4h6.26v-2.4zM262.43 176.7v2.4h6.33v-2.4zM281.42 176.7v2.4h6.33v-2.4zM294.08 176.7v2.4h6.33v-2.4zM178.28 179.1v2.4h6.28v-2.4zM228.52 179.1v2.4h6.28v-2.4zM228.52 183.9v2.4h6.28v-2.4zM275.09 186.3v2.4h6.33v-2.4zM281.42 186.3v2.4h6.33v-2.4zM328.52 232.4v2.3h6.26v-2.3zM328.52 243.9v2.3h6.26v-2.3zM228.52 248.5v2.3h6.28v-2.3z"/><path fill="#322068" shape-rendering="crispEdges" d="M334.78 79.1v2.32h6.26v-2.32zM347.3 79.1v2.32h6.26v-2.32zM359.82 79.1v2.32h6.26v-2.32zM353.56 83.74v2.32h6.26v-2.32zM241.08 86.07v2.32h6.28v-2.32zM215.96 102.1v2.35h6.28v-2.35zM87.16 104.45v2.35h6.28v-2.35zM55.76 111.5v2.35h6.28v-2.35zM300.41 111.5v2.35h6.33v-2.35zM372.34 111.5v2.35h6.26v-2.35zM334.78 113.85v2.35h6.26v-2.35zM55.76 116.2v2.35h6.28v-2.35zM372.34 116.2v2.35h6.26v-2.35zM143.68 118.55v2.35h6.28v-2.35zM281.42 118.55v2.35h6.33v-2.35zM287.75 118.55v2.35h6.33v-2.35zM49.48 120.9v2.35h6.28v-2.35zM68.32 120.9v2.35h6.28v-2.35zM62.04 127.95v2.35h6.28v-2.35zM68.32 127.95v2.35h6.28v-2.35zM93.44 127.95v2.35h6.28v-2.35zM99.72 127.95v2.35h6.28v-2.35zM334.78 135v2.35h6.26v-2.35zM353.56 142v2.54h6.26v-2.54zM353.56 147.08v2.54h6.26v-2.54zM316 149.62v2.54h6.26v-2.54zM328.52 149.62v2.54h6.26v-2.54zM359.82 149.62v2.54h6.26v-2.54zM234.8 157v2.45h6.28v-2.45zM234.8 159.45v2.45h6.28v-2.45zM322.26 159.45v2.45h6.26v-2.45zM112.28 167.1v2.4h6.28v-2.4zM124.84 167.1v2.4h6.28v-2.4zM131.12 167.1v2.4h6.28v-2.4zM49.48 169.5v2.4h6.28v-2.4zM162.52 169.5v2.4h6.28v-2.4zM184.56 169.5v2.4h6.28v-2.4zM99.72 174.3v2.4h6.28v-2.4zM106 174.3v2.4h6.28v-2.4zM294.08 181.5v2.4h6.33v-2.4zM241.08 183.9v2.4h6.28v-2.4zM49.48 186.3v2.4h6.28v-2.4zM172 195.56v2.18h6.28v-2.18zM93.44 197.74v2.18h6.28v-2.18zM55.76 211.69v2.23h6.28v-2.23zM62.04 211.69v2.23h6.28v-2.23zM68.32 211.69v2.23h6.28v-2.23zM74.6 211.69v2.23h6.28v-2.23zM80.88 211.69v2.23h6.28v-2.23zM87.16 211.69v2.23h6.28v-2.23zM99.72 211.69v2.23h6.28v-2.23zM149.96 211.69v2.23h6.28v-2.23zM334.78 211.69v2.23h6.26v-2.23zM256.1 225.5v2.3h6.33v-2.3zM87.16 227.8v2.3h6.28v-2.3zM106 227.8v2.3h6.28v-2.3zM131.12 227.8v2.3h6.28v-2.3zM137.4 227.8v2.3h6.28v-2.3zM156.24 227.8v2.3h6.28v-2.3zM162.52 227.8v2.3h6.28v-2.3zM256.1 241.6v2.3h6.33v-2.3zM62.04 243.9v2.3h6.28v-2.3zM256.1 246.2v2.3h6.33v-2.3zM287.75 246.2v2.3h6.33v-2.3zM300.41 246.2v2.3h6.33v-2.3zM118.56 248.5v2.3h6.28v-2.3zM256.1 248.5v2.3h6.33v-2.3z"/><path fill="#53438e" shape-rendering="crispEdges" d="M341.04 79.1v2.32h6.26v-2.32zM366.08 79.1v2.32h6.26v-2.32zM247.36 81.42v2.32h6.28v-2.32zM209.68 83.74v2.32h6.28v-2.32zM215.96 83.74v2.32h6.28v-2.32zM184.56 90.71v2.32h6.28v-2.32zM190.84 90.71v2.32h6.28v-2.32zM241.08 90.71v2.32h6.28v-2.32zM316 93.03v2.32h6.26v-2.32zM55.76 106.8v2.35h6.28v-2.35zM281.42 106.8v2.35h6.33v-2.35zM118.56 109.15v2.35h6.28v-2.35zM93.44 111.5v2.35h6.28v-2.35zM334.78 111.5v2.35h6.26v-2.35zM228.52 118.55v2.35h6.28v-2.35zM300.41 118.55v2.35h6.33v-2.35zM99.72 120.9v2.35h6.28v-2.35zM294.08 120.9v2.35h6.33v-2.35zM306.74 120.9v2.35h6.33v-2.35zM316 123.25v2.35h6.26v-2.35zM118.56 125.6v2.35h6.28v-2.35zM262.43 125.6v2.35h6.33v-2.35zM268.76 125.6v2.35h6.33v-2.35zM124.84 127.95v2.35h6.28v-2.35zM137.4 127.95v2.35h6.28v-2.35zM328.52 130.3v2.35h6.26v-2.35zM366.08 130.3v2.35h6.26v-2.35zM49.48 135v2.35h6.28v-2.35zM316 135v2.35h6.26v-2.35zM80.88 137.35v2.35h6.28v-2.35zM262.43 137.35v2.35h6.33v-2.35zM372.34 137.35v2.35h6.26v-2.35zM281.42 149.62v2.54h6.33v-2.54zM247.36 159.45v2.45h6.28v-2.45zM80.88 164.7v2.4h6.28v-2.4zM156.24 164.7v2.4h6.28v-2.4zM118.56 169.5v2.4h6.28v-2.4zM156.24 169.5v2.4h6.28v-2.4zM55.76 174.3v2.4h6.28v-2.4zM87.16 174.3v2.4h6.28v-2.4zM149.96 174.3v2.4h6.28v-2.4zM281.42 181.5v2.4h6.33v-2.4zM334.78 183.9v2.4h6.26v-2.4zM49.48 195.56v2.18h6.28v-2.18zM55.76 195.56v2.18h6.28v-2.18zM74.6 195.56v2.18h6.28v-2.18zM87.16 195.56v2.18h6.28v-2.18zM106 195.56v2.18h6.28v-2.18zM184.56 195.56v2.18h6.28v-2.18zM197.12 195.56v2.18h6.28v-2.18zM228.52 195.56v2.18h6.28v-2.18zM372.34 195.56v2.18h6.26v-2.18zM68.32 197.74v2.18h6.28v-2.18zM74.6 197.74v2.18h6.28v-2.18zM80.88 197.74v2.18h6.28v-2.18zM149.96 197.74v2.18h6.28v-2.18zM306.74 199.92v2.18h6.33v-2.18zM322.26 225.5v2.3h6.26v-2.3zM347.3 225.5v2.3h6.26v-2.3zM322.26 227.8v2.3h6.26v-2.3zM341.04 227.8v2.3h6.26v-2.3zM353.56 230.1v2.3h6.26v-2.3zM359.82 230.1v2.3h6.26v-2.3zM87.16 241.6v2.3h6.28v-2.3zM124.84 241.6v2.3h6.28v-2.3zM131.12 241.6v2.3h6.28v-2.3zM287.75 241.6v2.3h6.33v-2.3zM300.41 241.6v2.3h6.33v-2.3zM162.52 246.2v2.3h6.28v-2.3z"/><path fill="#281657" shape-rendering="crispEdges" d="M353.56 79.1v2.32h6.26v-2.32zM178.28 86.07v2.32h6.28v-2.32zM184.56 86.07v2.32h6.28v-2.32zM197.12 86.07v2.32h6.28v-2.32zM234.8 86.07v2.32h6.28v-2.32zM353.56 88.39v2.32h6.26v-2.32zM372.34 88.39v2.32h6.26v-2.32zM178.28 97.68v2.32h6.28v-2.32zM184.56 97.68v2.32h6.28v-2.32zM353.56 97.68v2.32h6.26v-2.32zM137.4 102.1v2.35h6.28v-2.35zM62.04 104.45v2.35h6.28v-2.35zM93.44 104.45v2.35h6.28v-2.35zM99.72 104.45v2.35h6.28v-2.35zM106 104.45v2.35h6.28v-2.35zM215.96 106.8v2.35h6.28v-2.35zM74.6 111.5v2.35h6.28v-2.35zM347.3 113.85v2.35h6.26v-2.35zM68.32 116.2v2.35h6.28v-2.35zM74.6 132.65v2.35h6.28v-2.35zM268.76 132.65v2.35h6.33v-2.35zM281.42 135v2.35h6.33v-2.35zM287.75 135v2.35h6.33v-2.35zM294.08 142v2.54h6.33v-2.54zM300.41 142v2.54h6.33v-2.54zM306.74 142v2.54h6.33v-2.54zM372.34 142v2.54h6.26v-2.54zM306.74 144.54v2.54h6.33v-2.54zM294.08 149.62v2.54h6.33v-2.54zM215.96 159.45v2.45h6.28v-2.45zM137.4 167.1v2.4h6.28v-2.4zM172 171.9v2.4h6.28v-2.4zM74.6 176.7v2.4h6.28v-2.4zM118.56 176.7v2.4h6.28v-2.4zM124.84 176.7v2.4h6.28v-2.4zM162.52 179.1v2.4h6.28v-2.4zM306.74 179.1v2.4h6.33v-2.4zM55.76 181.5v2.4h6.28v-2.4zM328.52 183.9v2.4h6.26v-2.4zM55.76 186.3v2.4h6.28v-2.4zM93.44 186.3v2.4h6.28v-2.4zM162.52 186.3v2.4h6.28v-2.4zM347.3 234.7v2.3h6.26v-2.3z"/><path fill="#cda57d" shape-rendering="crispEdges" d="M106 81.42v2.32h6.28v-2.32zM124.84 83.74v2.32h6.28v-2.32zM131.12 83.74v2.32h6.28v-2.32zM137.4 83.74v2.32h6.28v-2.32zM328.52 83.74v2.32h6.26v-2.32zM281.42 86.07v2.32h6.33v-2.32zM353.56 86.07v2.32h6.26v-2.32zM87.16 88.39v2.32h6.28v-2.32zM93.44 88.39v2.32h6.28v-2.32zM268.76 88.39v2.32h6.33v-2.32zM256.1 90.71v2.32h6.33v-2.32zM341.04 90.71v2.32h6.26v-2.32zM87.16 93.03v2.32h6.28v-2.32zM137.4 93.03v2.32h6.28v-2.32zM353.56 95.36v2.32h6.26v-2.32zM359.82 95.36v2.32h6.26v-2.32zM316 97.68v2.32h6.26v-2.32zM256.1 102.1v2.35h6.33v-2.35zM262.43 102.1v2.35h6.33v-2.35zM247.36 106.8v2.35h6.28v-2.35zM49.48 113.85v2.35h6.28v-2.35zM268.76 113.85v2.35h6.33v-2.35zM149.96 116.2v2.35h6.28v-2.35zM203.4 116.2v2.35h6.28v-2.35zM112.28 118.55v2.35h6.28v-2.35zM359.82 118.55v2.35h6.26v-2.35zM162.52 120.9v2.35h6.28v-2.35zM62.04 123.25v2.35h6.28v-2.35zM281.42 123.25v2.35h6.33v-2.35zM306.74 123.25v2.35h6.33v-2.35zM247.36 127.95v2.35h6.28v-2.35zM256.1 130.3v2.35h6.33v-2.35zM247.36 132.65v2.35h6.28v-2.35zM262.43 132.65v2.35h6.33v-2.35zM281.42 132.65v2.35h6.33v-2.35zM287.75 132.65v2.35h6.33v-2.35zM43.2 144.54v2.54h6.28v-2.54zM62.04 144.54v2.54h6.28v-2.54zM106 144.54v2.54h6.28v-2.54zM118.56 144.54v2.54h6.28v-2.54zM149.96 144.54v2.54h6.28v-2.54zM197.12 144.54v2.54h6.28v-2.54zM262.43 144.54v2.54h6.33v-2.54zM353.56 144.54v2.54h6.26v-2.54zM300.41 164.7v2.4h6.33v-2.4zM316 169.5v2.4h6.26v-2.4zM322.26 169.5v2.4h6.26v-2.4zM328.52 169.5v2.4h6.26v-2.4zM112.28 171.9v2.4h6.28v-2.4zM74.6 179.1v2.4h6.28v-2.4zM80.88 179.1v2.4h6.28v-2.4zM275.09 179.1v2.4h6.33v-2.4zM162.52 181.5v2.4h6.28v-2.4zM184.56 181.5v2.4h6.28v-2.4zM203.4 181.5v2.4h6.28v-2.4zM328.52 181.5v2.4h6.26v-2.4zM341.04 181.5v2.4h6.26v-2.4zM347.3 181.5v2.4h6.26v-2.4zM190.84 186.3v2.4h6.28v-2.4zM172 191.2v2.18h6.28v-2.18zM184.56 191.2v2.18h6.28v-2.18zM334.78 191.2v2.18h6.26v-2.18zM49.48 193.38v2.18h6.28v-2.18zM106 193.38v2.18h6.28v-2.18zM149.96 193.38v2.18h6.28v-2.18zM228.52 193.38v2.18h6.28v-2.18zM247.36 193.38v2.18h6.28v-2.18zM256.1 193.38v2.18h6.33v-2.18zM287.75 193.38v2.18h6.33v-2.18zM322.26 195.56v2.18h6.26v-2.18zM347.3 232.4v2.3h6.26v-2.3zM353.56 232.4v2.3h6.26v-2.3zM372.34 232.4v2.3h6.26v-2.3zM366.08 239.3v2.3h6.26v-2.3zM87.16 243.9v2.3h6.28v-2.3zM234.8 243.9v2.3h6.28v-2.3zM247.36 243.9v2.3h6.28v-2.3zM172 246.2v2.3h6.28v-2.3zM203.4 246.2v2.3h6.28v-2.3zM334.78 248.5v2.3h6.26v-2.3zM341.04 248.5v2.3h6.26v-2.3z"/><path fill="#c99d75" shape-rendering="crispEdges" d="M112.28 81.42v2.32h6.28v-2.32zM99.72 83.74v2.32h6.28v-2.32zM341.04 83.74v2.32h6.26v-2.32zM275.09 86.07v2.32h6.33v-2.32zM294.08 86.07v2.32h6.33v-2.32zM366.08 86.07v2.32h6.26v-2.32zM372.34 86.07v2.32h6.26v-2.32zM80.88 88.39v2.32h6.28v-2.32zM99.72 88.39v2.32h6.28v-2.32zM262.43 90.71v2.32h6.33v-2.32zM106 93.03v2.32h6.28v-2.32zM74.6 95.36v2.32h6.28v-2.32zM234.8 95.36v2.32h6.28v-2.32zM162.52 102.1v2.35h6.28v-2.35zM209.68 106.8v2.35h6.28v-2.35zM156.24 109.15v2.35h6.28v-2.35zM300.41 109.15v2.35h6.33v-2.35zM341.04 109.15v2.35h6.26v-2.35zM124.84 113.85v2.35h6.28v-2.35zM203.4 113.85v2.35h6.28v-2.35zM209.68 113.85v2.35h6.28v-2.35zM106 116.2v2.35h6.28v-2.35zM156.24 118.55v2.35h6.28v-2.35zM149.96 120.9v2.35h6.28v-2.35zM156.24 120.9v2.35h6.28v-2.35zM55.76 123.25v2.35h6.28v-2.35zM106 123.25v2.35h6.28v-2.35zM118.56 123.25v2.35h6.28v-2.35zM172 123.25v2.35h6.28v-2.35zM203.4 123.25v2.35h6.28v-2.35zM209.68 123.25v2.35h6.28v-2.35zM247.36 125.6v2.35h6.28v-2.35zM172 127.95v2.35h6.28v-2.35zM203.4 127.95v2.35h6.28v-2.35zM222.24 127.95v2.35h6.28v-2.35zM68.32 130.3v2.35h6.28v-2.35zM294.08 132.65v2.35h6.33v-2.35zM300.41 132.65v2.35h6.33v-2.35zM366.08 132.65v2.35h6.26v-2.35zM203.4 135v2.35h6.28v-2.35zM334.78 137.35v2.35h6.26v-2.35zM74.6 142v2.54h6.28v-2.54zM112.28 142v2.54h6.28v-2.54zM143.68 144.54v2.54h6.28v-2.54zM178.28 144.54v2.54h6.28v-2.54zM184.56 144.54v2.54h6.28v-2.54zM203.4 144.54v2.54h6.28v-2.54zM209.68 144.54v2.54h6.28v-2.54zM234.8 144.54v2.54h6.28v-2.54zM256.1 144.54v2.54h6.33v-2.54zM256.1 147.08v2.54h6.33v-2.54zM268.76 147.08v2.54h6.33v-2.54zM178.28 149.62v2.54h6.28v-2.54zM184.56 149.62v2.54h6.28v-2.54zM222.24 149.62v2.54h6.28v-2.54zM62.04 157v2.45h6.28v-2.45zM149.96 157v2.45h6.28v-2.45zM281.42 157v2.45h6.33v-2.45zM306.74 164.7v2.4h6.33v-2.4zM162.52 167.1v2.4h6.28v-2.4zM306.74 167.1v2.4h6.33v-2.4zM347.3 167.1v2.4h6.26v-2.4zM281.42 169.5v2.4h6.33v-2.4zM341.04 169.5v2.4h6.26v-2.4zM359.82 169.5v2.4h6.26v-2.4zM215.96 171.9v2.4h6.28v-2.4zM222.24 171.9v2.4h6.28v-2.4zM353.56 171.9v2.4h6.26v-2.4zM197.12 174.3v2.4h6.28v-2.4zM203.4 174.3v2.4h6.28v-2.4zM209.68 174.3v2.4h6.28v-2.4zM68.32 179.1v2.4h6.28v-2.4zM87.16 179.1v2.4h6.28v-2.4zM124.84 179.1v2.4h6.28v-2.4zM131.12 179.1v2.4h6.28v-2.4zM137.4 179.1v2.4h6.28v-2.4zM203.4 179.1v2.4h6.28v-2.4zM149.96 181.5v2.4h6.28v-2.4zM197.12 186.3v2.4h6.28v-2.4zM93.44 193.38v2.18h6.28v-2.18zM341.04 193.38v2.18h6.26v-2.18zM334.78 195.56v2.18h6.26v-2.18zM222.24 197.74v2.18h6.28v-2.18zM228.52 197.74v2.18h6.28v-2.18zM247.36 197.74v2.18h6.28v-2.18zM347.3 199.92v2.18h6.26v-2.18zM366.08 199.92v2.18h6.26v-2.18zM372.34 199.92v2.18h6.26v-2.18zM322.26 223.2v2.3h6.26v-2.3zM328.52 225.5v2.3h6.26v-2.3zM341.04 232.4v2.3h6.26v-2.3zM359.82 232.4v2.3h6.26v-2.3zM316 239.3v2.3h6.26v-2.3zM334.78 239.3v2.3h6.26v-2.3zM359.82 239.3v2.3h6.26v-2.3zM372.34 239.3v2.3h6.26v-2.3zM80.88 243.9v2.3h6.28v-2.3zM178.28 246.2v2.3h6.28v-2.3zM234.8 246.2v2.3h6.28v-2.3zM241.08 246.2v2.3h6.28v-2.3zM300.41 248.5v2.3h6.33v-2.3zM347.3 248.5v2.3h6.26v-2.3z"/><path fill="#1e0c44" shape-rendering="crispEdges" d="M172 81.42v2.32h6.28v-2.32zM178.28 81.42v2.32h6.28v-2.32zM184.56 81.42v2.32h6.28v-2.32zM190.84 81.42v2.32h6.28v-2.32zM197.12 81.42v2.32h6.28v-2.32zM203.4 81.42v2.32h6.28v-2.32zM209.68 81.42v2.32h6.28v-2.32zM215.96 81.42v2.32h6.28v-2.32zM222.24 81.42v2.32h6.28v-2.32zM172 93.03v2.32h6.28v-2.32zM184.56 93.03v2.32h6.28v-2.32zM190.84 93.03v2.32h6.28v-2.32zM197.12 93.03v2.32h6.28v-2.32zM203.4 93.03v2.32h6.28v-2.32zM209.68 93.03v2.32h6.28v-2.32zM203.4 97.68v2.32h6.28v-2.32zM209.68 97.68v2.32h6.28v-2.32zM215.96 97.68v2.32h6.28v-2.32zM222.24 97.68v2.32h6.28v-2.32zM49.48 102.1v2.35h6.28v-2.35zM55.76 102.1v2.35h6.28v-2.35zM62.04 102.1v2.35h6.28v-2.35zM68.32 104.45v2.35h6.28v-2.35zM74.6 104.45v2.35h6.28v-2.35zM372.34 104.45v2.35h6.26v-2.35zM372.34 109.15v2.35h6.26v-2.35zM372.34 118.55v2.35h6.26v-2.35zM143.68 120.9v2.35h6.28v-2.35zM372.34 125.6v2.35h6.26v-2.35zM43.2 127.95v2.35h6.28v-2.35zM49.48 127.95v2.35h6.28v-2.35zM80.88 127.95v2.35h6.28v-2.35zM372.34 130.3v2.35h6.26v-2.35zM49.48 137.35v2.35h6.28v-2.35zM55.76 137.35v2.35h6.28v-2.35zM215.96 149.62v2.54h6.28v-2.54zM306.74 149.62v2.54h6.33v-2.54zM322.26 157v2.45h6.26v-2.45zM306.74 159.45v2.45h6.33v-2.45zM184.56 164.7v2.4h6.28v-2.4zM190.84 164.7v2.4h6.28v-2.4zM197.12 164.7v2.4h6.28v-2.4zM203.4 164.7v2.4h6.28v-2.4zM184.56 167.1v2.4h6.28v-2.4zM190.84 167.1v2.4h6.28v-2.4zM197.12 167.1v2.4h6.28v-2.4zM203.4 167.1v2.4h6.28v-2.4zM306.74 174.3v2.4h6.33v-2.4zM55.76 176.7v2.4h6.28v-2.4zM62.04 176.7v2.4h6.28v-2.4zM131.12 176.7v2.4h6.28v-2.4zM137.4 176.7v2.4h6.28v-2.4zM143.68 176.7v2.4h6.28v-2.4zM149.96 176.7v2.4h6.28v-2.4zM156.24 176.7v2.4h6.28v-2.4zM162.52 176.7v2.4h6.28v-2.4zM43.2 181.5v2.4h6.28v-2.4zM74.6 181.5v2.4h6.28v-2.4zM80.88 181.5v2.4h6.28v-2.4zM99.72 181.5v2.4h6.28v-2.4zM112.28 181.5v2.4h6.28v-2.4zM118.56 181.5v2.4h6.28v-2.4zM124.84 181.5v2.4h6.28v-2.4zM131.12 181.5v2.4h6.28v-2.4z"/><path fill="#c5976e" shape-rendering="crispEdges" d="M316 81.42v2.32h6.26v-2.32zM149.96 83.74v2.32h6.28v-2.32zM334.78 83.74v2.32h6.26v-2.32zM281.42 88.39v2.32h6.33v-2.32zM300.41 90.71v2.32h6.33v-2.32zM306.74 90.71v2.32h6.33v-2.32zM347.3 90.71v2.32h6.26v-2.32zM112.28 93.03v2.32h6.28v-2.32zM247.36 95.36v2.32h6.28v-2.32zM275.09 102.1v2.35h6.33v-2.35zM99.72 106.8v2.35h6.28v-2.35zM106 106.8v2.35h6.28v-2.35zM228.52 106.8v2.35h6.28v-2.35zM347.3 109.15v2.35h6.26v-2.35zM316 111.5v2.35h6.26v-2.35zM131.12 113.85v2.35h6.28v-2.35zM215.96 113.85v2.35h6.28v-2.35zM137.4 116.2v2.35h6.28v-2.35zM124.84 123.25v2.35h6.28v-2.35zM228.52 127.95v2.35h6.28v-2.35zM268.76 127.95v2.35h6.33v-2.35zM316 132.65v2.35h6.26v-2.35zM68.32 142v2.54h6.28v-2.54zM87.16 142v2.54h6.28v-2.54zM118.56 142v2.54h6.28v-2.54zM162.52 144.54v2.54h6.28v-2.54zM190.84 144.54v2.54h6.28v-2.54zM241.08 144.54v2.54h6.28v-2.54zM275.09 147.08v2.54h6.33v-2.54zM281.42 147.08v2.54h6.33v-2.54zM228.52 149.62v2.54h6.28v-2.54zM55.76 157v2.45h6.28v-2.45zM118.56 159.45v2.45h6.28v-2.45zM287.75 164.7v2.4h6.33v-2.4zM341.04 167.1v2.4h6.26v-2.4zM353.56 167.1v2.4h6.26v-2.4zM334.78 169.5v2.4h6.26v-2.4zM93.44 171.9v2.4h6.28v-2.4zM256.1 171.9v2.4h6.33v-2.4zM215.96 174.3v2.4h6.28v-2.4zM334.78 176.7v2.4h6.26v-2.4zM118.56 179.1v2.4h6.28v-2.4zM281.42 179.1v2.4h6.33v-2.4zM156.24 181.5v2.4h6.28v-2.4zM366.08 181.5v2.4h6.26v-2.4zM118.56 193.38v2.18h6.28v-2.18zM137.4 193.38v2.18h6.28v-2.18zM294.08 193.38v2.18h6.33v-2.18zM306.74 193.38v2.18h6.33v-2.18zM234.8 197.74v2.18h6.28v-2.18zM353.56 199.92v2.18h6.26v-2.18zM328.52 234.7v2.3h6.26v-2.3zM247.36 239.3v2.3h6.28v-2.3zM347.3 241.6v2.3h6.26v-2.3zM366.08 241.6v2.3h6.26v-2.3zM209.68 246.2v2.3h6.28v-2.3zM215.96 246.2v2.3h6.28v-2.3zM228.52 246.2v2.3h6.28v-2.3zM247.36 246.2v2.3h6.28v-2.3z"/><path fill="#d8d6de" shape-rendering="crispEdges" d="M334.78 81.42v2.32h6.26v-2.32zM256.1 86.07v2.32h6.33v-2.32zM268.76 86.07v2.32h6.33v-2.32zM62.04 88.39v2.32h6.28v-2.32zM353.56 90.71v2.32h6.26v-2.32zM93.44 93.03v2.32h6.28v-2.32zM149.96 93.03v2.32h6.28v-2.32zM156.24 93.03v2.32h6.28v-2.32zM256.1 93.03v2.32h6.33v-2.32zM300.41 93.03v2.32h6.33v-2.32zM306.74 93.03v2.32h6.33v-2.32zM268.76 106.8v2.35h6.33v-2.35zM172 111.5v2.35h6.28v-2.35zM287.75 113.85v2.35h6.33v-2.35zM300.41 113.85v2.35h6.33v-2.35zM156.24 116.2v2.35h6.28v-2.35zM162.52 116.2v2.35h6.28v-2.35zM190.84 118.55v2.35h6.28v-2.35zM197.12 118.55v2.35h6.28v-2.35zM87.16 123.25v2.35h6.28v-2.35zM93.44 123.25v2.35h6.28v-2.35zM49.48 125.6v2.35h6.28v-2.35zM137.4 125.6v2.35h6.28v-2.35zM184.56 125.6v2.35h6.28v-2.35zM294.08 127.95v2.35h6.33v-2.35zM347.3 127.95v2.35h6.26v-2.35zM353.56 127.95v2.35h6.26v-2.35zM359.82 127.95v2.35h6.26v-2.35zM49.48 130.3v2.35h6.28v-2.35zM74.6 130.3v2.35h6.28v-2.35zM87.16 130.3v2.35h6.28v-2.35zM112.28 130.3v2.35h6.28v-2.35zM143.68 130.3v2.35h6.28v-2.35zM222.24 130.3v2.35h6.28v-2.35zM241.08 130.3v2.35h6.28v-2.35zM62.04 132.65v2.35h6.28v-2.35zM106 132.65v2.35h6.28v-2.35zM359.82 135v2.35h6.26v-2.35zM359.82 137.35v2.35h6.26v-2.35zM80.88 144.54v2.54h6.28v-2.54zM275.09 144.54v2.54h6.33v-2.54zM316 144.54v2.54h6.26v-2.54zM328.52 144.54v2.54h6.26v-2.54zM215.96 147.08v2.54h6.28v-2.54zM268.76 171.9v2.4h6.33v-2.4zM190.84 174.3v2.4h6.28v-2.4zM316 176.7v2.4h6.26v-2.4zM99.72 179.1v2.4h6.28v-2.4zM106 179.1v2.4h6.28v-2.4zM209.68 181.5v2.4h6.28v-2.4zM68.32 183.9v2.4h6.28v-2.4zM124.84 183.9v2.4h6.28v-2.4zM184.56 183.9v2.4h6.28v-2.4zM106 191.2v2.18h6.28v-2.18zM209.68 191.2v2.18h6.28v-2.18zM300.41 191.2v2.18h6.33v-2.18zM316 191.2v2.18h6.26v-2.18zM366.08 191.2v2.18h6.26v-2.18zM306.74 197.74v2.18h6.33v-2.18zM347.3 197.74v2.18h6.26v-2.18zM372.34 197.74v2.18h6.26v-2.18zM112.28 199.92v2.18h6.28v-2.18zM190.84 199.92v2.18h6.28v-2.18zM203.4 199.92v2.18h6.28v-2.18zM241.08 199.92v2.18h6.28v-2.18zM55.76 205v2.23h6.28v-2.23zM62.04 205v2.23h6.28v-2.23zM93.44 205v2.23h6.28v-2.23zM112.28 205v2.23h6.28v-2.23zM118.56 205v2.23h6.28v-2.23zM124.84 205v2.23h6.28v-2.23zM131.12 205v2.23h6.28v-2.23zM137.4 205v2.23h6.28v-2.23zM143.68 205v2.23h6.28v-2.23zM149.96 205v2.23h6.28v-2.23zM156.24 205v2.23h6.28v-2.23zM162.52 205v2.23h6.28v-2.23zM178.28 205v2.23h6.28v-2.23zM184.56 205v2.23h6.28v-2.23zM190.84 205v2.23h6.28v-2.23zM203.4 205v2.23h6.28v-2.23zM209.68 205v2.23h6.28v-2.23zM215.96 205v2.23h6.28v-2.23zM222.24 205v2.23h6.28v-2.23zM228.52 205v2.23h6.28v-2.23zM234.8 205v2.23h6.28v-2.23zM241.08 205v2.23h6.28v-2.23zM268.76 205v2.23h6.33v-2.23zM275.09 205v2.23h6.33v-2.23zM281.42 205v2.23h6.33v-2.23zM287.75 205v2.23h6.33v-2.23zM294.08 205v2.23h6.33v-2.23zM300.41 205v2.23h6.33v-2.23zM306.74 205v2.23h6.33v-2.23zM316 205v2.23h6.26v-2.23zM322.26 205v2.23h6.26v-2.23zM328.52 205v2.23h6.26v-2.23zM334.78 205v2.23h6.26v-2.23zM341.04 205v2.23h6.26v-2.23zM347.3 205v2.23h6.26v-2.23zM359.82 205v2.23h6.26v-2.23zM372.34 205v2.23h6.26v-2.23zM43.2 207.23v2.23h6.28v-2.23zM49.48 207.23v2.23h6.28v-2.23zM55.76 207.23v2.23h6.28v-2.23zM62.04 207.23v2.23h6.28v-2.23zM68.32 207.23v2.23h6.28v-2.23zM74.6 207.23v2.23h6.28v-2.23zM80.88 207.23v2.23h6.28v-2.23zM99.72 207.23v2.23h6.28v-2.23zM112.28 207.23v2.23h6.28v-2.23zM118.56 207.23v2.23h6.28v-2.23zM124.84 207.23v2.23h6.28v-2.23zM131.12 207.23v2.23h6.28v-2.23zM137.4 207.23v2.23h6.28v-2.23zM143.68 207.23v2.23h6.28v-2.23zM149.96 207.23v2.23h6.28v-2.23zM172 207.23v2.23h6.28v-2.23zM190.84 207.23v2.23h6.28v-2.23zM203.4 207.23v2.23h6.28v-2.23zM209.68 207.23v2.23h6.28v-2.23zM256.1 207.23v2.23h6.33v-2.23zM275.09 207.23v2.23h6.33v-2.23zM281.42 207.23v2.23h6.33v-2.23zM300.41 207.23v2.23h6.33v-2.23zM306.74 207.23v2.23h6.33v-2.23zM316 207.23v2.23h6.26v-2.23zM322.26 207.23v2.23h6.26v-2.23zM328.52 207.23v2.23h6.26v-2.23zM334.78 207.23v2.23h6.26v-2.23zM341.04 207.23v2.23h6.26v-2.23zM347.3 207.23v2.23h6.26v-2.23zM353.56 207.23v2.23h6.26v-2.23zM359.82 207.23v2.23h6.26v-2.23zM43.2 209.46v2.23h6.28v-2.23zM49.48 209.46v2.23h6.28v-2.23zM55.76 209.46v2.23h6.28v-2.23zM87.16 209.46v2.23h6.28v-2.23zM93.44 209.46v2.23h6.28v-2.23zM99.72 209.46v2.23h6.28v-2.23zM106 209.46v2.23h6.28v-2.23zM112.28 209.46v2.23h6.28v-2.23zM137.4 209.46v2.23h6.28v-2.23zM143.68 209.46v2.23h6.28v-2.23zM149.96 209.46v2.23h6.28v-2.23zM156.24 209.46v2.23h6.28v-2.23zM162.52 209.46v2.23h6.28v-2.23zM172 209.46v2.23h6.28v-2.23zM178.28 209.46v2.23h6.28v-2.23zM184.56 209.46v2.23h6.28v-2.23zM190.84 209.46v2.23h6.28v-2.23zM197.12 209.46v2.23h6.28v-2.23zM203.4 209.46v2.23h6.28v-2.23zM209.68 209.46v2.23h6.28v-2.23zM215.96 209.46v2.23h6.28v-2.23zM222.24 209.46v2.23h6.28v-2.23zM234.8 209.46v2.23h6.28v-2.23zM241.08 209.46v2.23h6.28v-2.23zM247.36 209.46v2.23h6.28v-2.23zM256.1 209.46v2.23h6.33v-2.23zM262.43 209.46v2.23h6.33v-2.23zM268.76 209.46v2.23h6.33v-2.23zM275.09 209.46v2.23h6.33v-2.23zM281.42 209.46v2.23h6.33v-2.23zM287.75 209.46v2.23h6.33v-2.23zM294.08 209.46v2.23h6.33v-2.23zM300.41 209.46v2.23h6.33v-2.23zM306.74 209.46v2.23h6.33v-2.23zM316 209.46v2.23h6.26v-2.23zM322.26 209.46v2.23h6.26v-2.23zM328.52 209.46v2.23h6.26v-2.23zM334.78 209.46v2.23h6.26v-2.23zM341.04 209.46v2.23h6.26v-2.23zM347.3 209.46v2.23h6.26v-2.23zM353.56 209.46v2.23h6.26v-2.23zM359.82 209.46v2.23h6.26v-2.23zM366.08 209.46v2.23h6.26v-2.23zM372.34 209.46v2.23h6.26v-2.23zM43.2 213.91v2.23h6.28v-2.23zM62.04 213.91v2.23h6.28v-2.23zM68.32 213.91v2.23h6.28v-2.23zM74.6 213.91v2.23h6.28v-2.23zM80.88 213.91v2.23h6.28v-2.23zM112.28 213.91v2.23h6.28v-2.23zM131.12 213.91v2.23h6.28v-2.23zM137.4 213.91v2.23h6.28v-2.23zM149.96 213.91v2.23h6.28v-2.23zM156.24 213.91v2.23h6.28v-2.23zM190.84 213.91v2.23h6.28v-2.23zM197.12 213.91v2.23h6.28v-2.23zM215.96 213.91v2.23h6.28v-2.23zM222.24 213.91v2.23h6.28v-2.23zM228.52 213.91v2.23h6.28v-2.23zM256.1 213.91v2.23h6.33v-2.23zM268.76 213.91v2.23h6.33v-2.23zM275.09 213.91v2.23h6.33v-2.23zM281.42 213.91v2.23h6.33v-2.23zM287.75 213.91v2.23h6.33v-2.23zM294.08 213.91v2.23h6.33v-2.23zM300.41 213.91v2.23h6.33v-2.23zM306.74 213.91v2.23h6.33v-2.23zM316 213.91v2.23h6.26v-2.23zM341.04 213.91v2.23h6.26v-2.23zM347.3 213.91v2.23h6.26v-2.23zM359.82 213.91v2.23h6.26v-2.23zM366.08 213.91v2.23h6.26v-2.23zM372.34 213.91v2.23h6.26v-2.23zM49.48 216.14v2.23h6.28v-2.23zM55.76 216.14v2.23h6.28v-2.23zM62.04 216.14v2.23h6.28v-2.23zM68.32 216.14v2.23h6.28v-2.23zM74.6 216.14v2.23h6.28v-2.23zM80.88 216.14v2.23h6.28v-2.23zM87.16 216.14v2.23h6.28v-2.23zM93.44 216.14v2.23h6.28v-2.23zM99.72 216.14v2.23h6.28v-2.23zM106 216.14v2.23h6.28v-2.23zM112.28 216.14v2.23h6.28v-2.23zM124.84 216.14v2.23h6.28v-2.23zM131.12 216.14v2.23h6.28v-2.23zM137.4 216.14v2.23h6.28v-2.23zM143.68 216.14v2.23h6.28v-2.23zM149.96 216.14v2.23h6.28v-2.23zM156.24 216.14v2.23h6.28v-2.23zM162.52 216.14v2.23h6.28v-2.23zM172 216.14v2.23h6.28v-2.23zM178.28 216.14v2.23h6.28v-2.23zM184.56 216.14v2.23h6.28v-2.23zM203.4 216.14v2.23h6.28v-2.23zM209.68 216.14v2.23h6.28v-2.23zM215.96 216.14v2.23h6.28v-2.23zM222.24 216.14v2.23h6.28v-2.23zM228.52 216.14v2.23h6.28v-2.23zM234.8 216.14v2.23h6.28v-2.23zM247.36 216.14v2.23h6.28v-2.23zM256.1 216.14v2.23h6.33v-2.23zM262.43 216.14v2.23h6.33v-2.23zM268.76 216.14v2.23h6.33v-2.23zM275.09 216.14v2.23h6.33v-2.23zM294.08 216.14v2.23h6.33v-2.23zM300.41 216.14v2.23h6.33v-2.23zM306.74 216.14v2.23h6.33v-2.23zM322.26 216.14v2.23h6.26v-2.23zM328.52 216.14v2.23h6.26v-2.23zM334.78 216.14v2.23h6.26v-2.23zM341.04 216.14v2.23h6.26v-2.23zM347.3 216.14v2.23h6.26v-2.23zM353.56 216.14v2.23h6.26v-2.23zM359.82 216.14v2.23h6.26v-2.23zM366.08 216.14v2.23h6.26v-2.23zM372.34 216.14v2.23h6.26v-2.23zM62.04 218.37v2.23h6.28v-2.23zM68.32 218.37v2.23h6.28v-2.23zM74.6 218.37v2.23h6.28v-2.23zM80.88 218.37v2.23h6.28v-2.23zM87.16 218.37v2.23h6.28v-2.23zM93.44 218.37v2.23h6.28v-2.23zM99.72 218.37v2.23h6.28v-2.23zM106 218.37v2.23h6.28v-2.23zM112.28 218.37v2.23h6.28v-2.23zM118.56 218.37v2.23h6.28v-2.23zM124.84 218.37v2.23h6.28v-2.23zM131.12 218.37v2.23h6.28v-2.23zM137.4 218.37v2.23h6.28v-2.23zM143.68 218.37v2.23h6.28v-2.23zM149.96 218.37v2.23h6.28v-2.23zM156.24 218.37v2.23h6.28v-2.23zM162.52 218.37v2.23h6.28v-2.23zM184.56 218.37v2.23h6.28v-2.23zM190.84 218.37v2.23h6.28v-2.23zM215.96 218.37v2.23h6.28v-2.23zM241.08 218.37v2.23h6.28v-2.23zM247.36 218.37v2.23h6.28v-2.23zM275.09 218.37v2.23h6.33v-2.23zM316 218.37v2.23h6.26v-2.23zM322.26 218.37v2.23h6.26v-2.23zM328.52 218.37v2.23h6.26v-2.23zM347.3 218.37v2.23h6.26v-2.23zM353.56 218.37v2.23h6.26v-2.23zM359.82 218.37v2.23h6.26v-2.23zM366.08 218.37v2.23h6.26v-2.23zM372.34 218.37v2.23h6.26v-2.23zM316 223.2v2.3h6.26v-2.3zM366.08 225.5v2.3h6.26v-2.3zM366.08 227.8v2.3h6.26v-2.3zM372.34 227.8v2.3h6.26v-2.3zM87.16 246.2v2.3h6.28v-2.3zM118.56 246.2v2.3h6.28v-2.3zM124.84 246.2v2.3h6.28v-2.3zM131.12 246.2v2.3h6.28v-2.3zM137.4 246.2v2.3h6.28v-2.3zM80.88 248.5v2.3h6.28v-2.3zM87.16 248.5v2.3h6.28v-2.3z"/><path fill="#7163a7" shape-rendering="crispEdges" d="M353.56 81.42v2.32h6.26v-2.32zM190.84 83.74v2.32h6.28v-2.32zM247.36 90.71v2.32h6.28v-2.32zM228.52 93.03v2.32h6.28v-2.32zM372.34 93.03v2.32h6.26v-2.32zM197.12 95.36v2.32h6.28v-2.32zM209.68 95.36v2.32h6.28v-2.32zM294.08 102.1v2.35h6.33v-2.35zM137.4 104.45v2.35h6.28v-2.35zM149.96 104.45v2.35h6.28v-2.35zM156.24 104.45v2.35h6.28v-2.35zM80.88 106.8v2.35h6.28v-2.35zM143.68 106.8v2.35h6.28v-2.35zM99.72 109.15v2.35h6.28v-2.35zM156.24 111.5v2.35h6.28v-2.35zM341.04 111.5v2.35h6.26v-2.35zM306.74 116.2v2.35h6.33v-2.35zM49.48 118.55v2.35h6.28v-2.35zM203.4 118.55v2.35h6.28v-2.35zM275.09 118.55v2.35h6.33v-2.35zM359.82 123.25v2.35h6.26v-2.35zM124.84 125.6v2.35h6.28v-2.35zM149.96 125.6v2.35h6.28v-2.35zM197.12 125.6v2.35h6.28v-2.35zM137.4 130.3v2.35h6.28v-2.35zM359.82 130.3v2.35h6.26v-2.35zM149.96 132.65v2.35h6.28v-2.35zM162.52 137.35v2.35h6.28v-2.35zM275.09 137.35v2.35h6.33v-2.35zM137.4 147.08v2.54h6.28v-2.54zM162.52 147.08v2.54h6.28v-2.54zM300.41 147.08v2.54h6.33v-2.54zM74.6 164.7v2.4h6.28v-2.4zM112.28 164.7v2.4h6.28v-2.4zM149.96 164.7v2.4h6.28v-2.4zM106 169.5v2.4h6.28v-2.4zM197.12 171.9v2.4h6.28v-2.4zM43.2 174.3v2.4h6.28v-2.4zM68.32 174.3v2.4h6.28v-2.4zM80.88 174.3v2.4h6.28v-2.4zM275.09 174.3v2.4h6.33v-2.4zM341.04 183.9v2.4h6.26v-2.4zM55.76 191.2v2.18h6.28v-2.18zM156.24 191.2v2.18h6.28v-2.18zM162.52 191.2v2.18h6.28v-2.18zM43.2 195.56v2.18h6.28v-2.18zM118.56 195.56v2.18h6.28v-2.18zM137.4 195.56v2.18h6.28v-2.18zM281.42 195.56v2.18h6.33v-2.18zM49.48 197.74v2.18h6.28v-2.18zM55.76 197.74v2.18h6.28v-2.18zM62.04 197.74v2.18h6.28v-2.18zM137.4 197.74v2.18h6.28v-2.18zM256.1 197.74v2.18h6.33v-2.18zM74.6 199.92v2.18h6.28v-2.18zM87.16 199.92v2.18h6.28v-2.18zM143.68 199.92v2.18h6.28v-2.18zM149.96 199.92v2.18h6.28v-2.18zM234.8 199.92v2.18h6.28v-2.18zM281.42 199.92v2.18h6.33v-2.18zM353.56 223.2v2.3h6.26v-2.3zM359.82 223.2v2.3h6.26v-2.3zM316 225.5v2.3h6.26v-2.3zM178.28 227.8v2.3h6.28v-2.3zM184.56 227.8v2.3h6.28v-2.3zM294.08 227.8v2.3h6.33v-2.3zM43.2 230.1v2.3h6.28v-2.3zM55.76 230.1v2.3h6.28v-2.3zM62.04 230.1v2.3h6.28v-2.3zM178.28 230.1v2.3h6.28v-2.3zM184.56 230.1v2.3h6.28v-2.3zM234.8 230.1v2.3h6.28v-2.3zM247.36 230.1v2.3h6.28v-2.3zM256.1 230.1v2.3h6.33v-2.3zM262.43 230.1v2.3h6.33v-2.3zM268.76 230.1v2.3h6.33v-2.3zM281.42 230.1v2.3h6.33v-2.3zM294.08 230.1v2.3h6.33v-2.3zM306.74 230.1v2.3h6.33v-2.3zM124.84 232.4v2.3h6.28v-2.3zM228.52 232.4v2.3h6.28v-2.3zM234.8 232.4v2.3h6.28v-2.3zM241.08 232.4v2.3h6.28v-2.3zM247.36 232.4v2.3h6.28v-2.3zM256.1 232.4v2.3h6.33v-2.3zM268.76 232.4v2.3h6.33v-2.3zM281.42 232.4v2.3h6.33v-2.3zM287.75 232.4v2.3h6.33v-2.3zM294.08 232.4v2.3h6.33v-2.3zM300.41 232.4v2.3h6.33v-2.3zM306.74 232.4v2.3h6.33v-2.3zM228.52 234.7v2.3h6.28v-2.3zM256.1 234.7v2.3h6.33v-2.3zM262.43 234.7v2.3h6.33v-2.3zM268.76 234.7v2.3h6.33v-2.3zM275.09 234.7v2.3h6.33v-2.3zM281.42 234.7v2.3h6.33v-2.3zM287.75 234.7v2.3h6.33v-2.3zM316 234.7v2.3h6.26v-2.3zM209.68 237v2.3h6.28v-2.3zM215.96 237v2.3h6.28v-2.3zM334.78 237v2.3h6.26v-2.3zM353.56 237v2.3h6.26v-2.3zM190.84 241.6v2.3h6.28v-2.3zM222.24 241.6v2.3h6.28v-2.3z"/><path fill="#c3bed5" shape-rendering="crispEdges" d="M359.82 81.42v2.32h6.26v-2.32zM43.2 88.39v2.32h6.28v-2.32zM118.56 88.39v2.32h6.28v-2.32zM172 88.39v2.32h6.28v-2.32zM256.1 88.39v2.32h6.33v-2.32zM359.82 90.71v2.32h6.26v-2.32zM143.68 93.03v2.32h6.28v-2.32zM215.96 109.15v2.35h6.28v-2.35zM203.4 111.5v2.35h6.28v-2.35zM241.08 111.5v2.35h6.28v-2.35zM149.96 118.55v2.35h6.28v-2.35zM162.52 118.55v2.35h6.28v-2.35zM322.26 118.55v2.35h6.26v-2.35zM328.52 118.55v2.35h6.26v-2.35zM215.96 123.25v2.35h6.28v-2.35zM322.26 123.25v2.35h6.26v-2.35zM131.12 125.6v2.35h6.28v-2.35zM209.68 125.6v2.35h6.28v-2.35zM197.12 127.95v2.35h6.28v-2.35zM281.42 127.95v2.35h6.33v-2.35zM300.41 127.95v2.35h6.33v-2.35zM366.08 127.95v2.35h6.26v-2.35zM234.8 130.3v2.35h6.28v-2.35zM262.43 130.3v2.35h6.33v-2.35zM93.44 132.65v2.35h6.28v-2.35zM99.72 132.65v2.35h6.28v-2.35zM112.28 132.65v2.35h6.28v-2.35zM118.56 132.65v2.35h6.28v-2.35zM131.12 132.65v2.35h6.28v-2.35zM190.84 132.65v2.35h6.28v-2.35zM341.04 132.65v2.35h6.26v-2.35zM112.28 135v2.35h6.28v-2.35zM347.3 135v2.35h6.26v-2.35zM353.56 135v2.35h6.26v-2.35zM93.44 144.54v2.54h6.28v-2.54zM99.72 144.54v2.54h6.28v-2.54zM49.48 147.08v2.54h6.28v-2.54zM74.6 147.08v2.54h6.28v-2.54zM341.04 152.16v2.54h6.26v-2.54zM106 164.7v2.4h6.28v-2.4zM137.4 164.7v2.4h6.28v-2.4zM172 174.3v2.4h6.28v-2.4zM347.3 176.7v2.4h6.26v-2.4zM347.3 179.1v2.4h6.26v-2.4zM353.56 179.1v2.4h6.26v-2.4zM197.12 181.5v2.4h6.28v-2.4zM359.82 181.5v2.4h6.26v-2.4zM209.68 183.9v2.4h6.28v-2.4zM124.84 191.2v2.18h6.28v-2.18zM215.96 191.2v2.18h6.28v-2.18zM262.43 191.2v2.18h6.33v-2.18zM294.08 191.2v2.18h6.33v-2.18zM306.74 191.2v2.18h6.33v-2.18zM294.08 197.74v2.18h6.33v-2.18zM353.56 197.74v2.18h6.26v-2.18zM197.12 199.92v2.18h6.28v-2.18zM209.68 199.92v2.18h6.28v-2.18zM215.96 199.92v2.18h6.28v-2.18zM268.76 199.92v2.18h6.33v-2.18zM43.2 205v2.23h6.28v-2.23zM49.48 205v2.23h6.28v-2.23zM99.72 205v2.23h6.28v-2.23zM106 205v2.23h6.28v-2.23zM197.12 205v2.23h6.28v-2.23zM256.1 205v2.23h6.33v-2.23zM262.43 205v2.23h6.33v-2.23zM353.56 205v2.23h6.26v-2.23zM366.08 205v2.23h6.26v-2.23zM215.96 207.23v2.23h6.28v-2.23zM222.24 207.23v2.23h6.28v-2.23zM228.52 207.23v2.23h6.28v-2.23zM234.8 207.23v2.23h6.28v-2.23zM241.08 207.23v2.23h6.28v-2.23zM247.36 207.23v2.23h6.28v-2.23zM118.56 209.46v2.23h6.28v-2.23zM124.84 209.46v2.23h6.28v-2.23zM131.12 209.46v2.23h6.28v-2.23zM49.48 213.91v2.23h6.28v-2.23zM55.76 213.91v2.23h6.28v-2.23zM87.16 213.91v2.23h6.28v-2.23zM93.44 213.91v2.23h6.28v-2.23zM99.72 213.91v2.23h6.28v-2.23zM106 213.91v2.23h6.28v-2.23zM118.56 213.91v2.23h6.28v-2.23zM124.84 213.91v2.23h6.28v-2.23zM143.68 213.91v2.23h6.28v-2.23zM162.52 213.91v2.23h6.28v-2.23zM172 213.91v2.23h6.28v-2.23zM178.28 213.91v2.23h6.28v-2.23zM184.56 213.91v2.23h6.28v-2.23zM203.4 213.91v2.23h6.28v-2.23zM209.68 213.91v2.23h6.28v-2.23zM234.8 213.91v2.23h6.28v-2.23zM241.08 213.91v2.23h6.28v-2.23zM247.36 213.91v2.23h6.28v-2.23zM262.43 213.91v2.23h6.33v-2.23zM43.2 216.14v2.23h6.28v-2.23zM190.84 216.14v2.23h6.28v-2.23zM197.12 216.14v2.23h6.28v-2.23zM241.08 216.14v2.23h6.28v-2.23zM43.2 218.37v2.23h6.28v-2.23zM49.48 218.37v2.23h6.28v-2.23zM55.76 218.37v2.23h6.28v-2.23zM172 218.37v2.23h6.28v-2.23zM178.28 218.37v2.23h6.28v-2.23zM197.12 218.37v2.23h6.28v-2.23zM203.4 218.37v2.23h6.28v-2.23zM209.68 218.37v2.23h6.28v-2.23zM222.24 218.37v2.23h6.28v-2.23zM228.52 218.37v2.23h6.28v-2.23zM234.8 218.37v2.23h6.28v-2.23zM256.1 218.37v2.23h6.33v-2.23zM262.43 218.37v2.23h6.33v-2.23zM268.76 218.37v2.23h6.33v-2.23zM281.42 218.37v2.23h6.33v-2.23zM287.75 218.37v2.23h6.33v-2.23zM294.08 218.37v2.23h6.33v-2.23zM300.41 218.37v2.23h6.33v-2.23zM306.74 218.37v2.23h6.33v-2.23zM372.34 234.7v2.3h6.26v-2.3zM149.96 241.6v2.3h6.28v-2.3zM209.68 241.6v2.3h6.28v-2.3zM256.1 243.9v2.3h6.33v-2.3zM55.76 246.2v2.3h6.28v-2.3zM99.72 248.5v2.3h6.28v-2.3zM372.34 248.5v2.3h6.26v-2.3z"/><path fill="#ebe8e6" shape-rendering="crispEdges" d="M366.08 81.42v2.32h6.26v-2.32zM87.16 83.74v2.32h6.28v-2.32zM93.44 83.74v2.32h6.28v-2.32zM241.08 83.74v2.32h6.28v-2.32zM68.32 88.39v2.32h6.28v-2.32zM74.6 88.39v2.32h6.28v-2.32zM106 88.39v2.32h6.28v-2.32zM209.68 88.39v2.32h6.28v-2.32zM203.4 90.71v2.32h6.28v-2.32zM209.68 90.71v2.32h6.28v-2.32zM234.8 93.03v2.32h6.28v-2.32zM262.43 95.36v2.32h6.33v-2.32zM316 104.45v2.35h6.26v-2.35zM93.44 106.8v2.35h6.28v-2.35zM275.09 106.8v2.35h6.33v-2.35zM294.08 109.15v2.35h6.33v-2.35zM316 109.15v2.35h6.26v-2.35zM328.52 109.15v2.35h6.26v-2.35zM118.56 111.5v2.35h6.28v-2.35zM137.4 111.5v2.35h6.28v-2.35zM275.09 111.5v2.35h6.33v-2.35zM328.52 111.5v2.35h6.26v-2.35zM353.56 111.5v2.35h6.26v-2.35zM190.84 116.2v2.35h6.28v-2.35zM55.76 118.55v2.35h6.28v-2.35zM68.32 118.55v2.35h6.28v-2.35zM74.6 118.55v2.35h6.28v-2.35zM93.44 118.55v2.35h6.28v-2.35zM99.72 118.55v2.35h6.28v-2.35zM68.32 123.25v2.35h6.28v-2.35zM99.72 123.25v2.35h6.28v-2.35zM222.24 125.6v2.35h6.28v-2.35zM190.84 127.95v2.35h6.28v-2.35zM275.09 127.95v2.35h6.33v-2.35zM55.76 130.3v2.35h6.28v-2.35zM62.04 130.3v2.35h6.28v-2.35zM178.28 130.3v2.35h6.28v-2.35zM184.56 130.3v2.35h6.28v-2.35zM247.36 130.3v2.35h6.28v-2.35zM268.76 130.3v2.35h6.33v-2.35zM68.32 132.65v2.35h6.28v-2.35zM124.84 132.65v2.35h6.28v-2.35zM143.68 132.65v2.35h6.28v-2.35zM334.78 132.65v2.35h6.26v-2.35zM55.76 135v2.35h6.28v-2.35zM341.04 135v2.35h6.26v-2.35zM341.04 137.35v2.35h6.26v-2.35zM353.56 137.35v2.35h6.26v-2.35zM74.6 144.54v2.54h6.28v-2.54zM334.78 144.54v2.54h6.26v-2.54zM372.34 144.54v2.54h6.26v-2.54zM80.88 147.08v2.54h6.28v-2.54zM178.28 171.9v2.4h6.28v-2.4zM178.28 176.7v2.4h6.28v-2.4zM322.26 176.7v2.4h6.26v-2.4zM334.78 179.1v2.4h6.26v-2.4zM341.04 179.1v2.4h6.26v-2.4zM62.04 183.9v2.4h6.28v-2.4zM80.88 183.9v2.4h6.28v-2.4zM99.72 183.9v2.4h6.28v-2.4zM106 183.9v2.4h6.28v-2.4zM131.12 183.9v2.4h6.28v-2.4zM203.4 183.9v2.4h6.28v-2.4zM87.16 191.2v2.18h6.28v-2.18zM190.84 191.2v2.18h6.28v-2.18zM203.4 191.2v2.18h6.28v-2.18zM347.3 191.2v2.18h6.26v-2.18zM80.88 193.38v2.18h6.28v-2.18zM197.12 197.74v2.18h6.28v-2.18zM341.04 197.74v2.18h6.26v-2.18zM118.56 199.92v2.18h6.28v-2.18zM184.56 199.92v2.18h6.28v-2.18zM68.32 205v2.23h6.28v-2.23zM74.6 205v2.23h6.28v-2.23zM80.88 205v2.23h6.28v-2.23zM87.16 205v2.23h6.28v-2.23zM172 205v2.23h6.28v-2.23zM247.36 205v2.23h6.28v-2.23zM87.16 207.23v2.23h6.28v-2.23zM93.44 207.23v2.23h6.28v-2.23zM106 207.23v2.23h6.28v-2.23zM156.24 207.23v2.23h6.28v-2.23zM162.52 207.23v2.23h6.28v-2.23zM178.28 207.23v2.23h6.28v-2.23zM184.56 207.23v2.23h6.28v-2.23zM197.12 207.23v2.23h6.28v-2.23zM262.43 207.23v2.23h6.33v-2.23zM268.76 207.23v2.23h6.33v-2.23zM287.75 207.23v2.23h6.33v-2.23zM294.08 207.23v2.23h6.33v-2.23zM366.08 207.23v2.23h6.26v-2.23zM372.34 207.23v2.23h6.26v-2.23zM62.04 209.46v2.23h6.28v-2.23zM68.32 209.46v2.23h6.28v-2.23zM74.6 209.46v2.23h6.28v-2.23zM80.88 209.46v2.23h6.28v-2.23zM228.52 209.46v2.23h6.28v-2.23zM322.26 213.91v2.23h6.26v-2.23zM328.52 213.91v2.23h6.26v-2.23zM334.78 213.91v2.23h6.26v-2.23zM353.56 213.91v2.23h6.26v-2.23zM118.56 216.14v2.23h6.28v-2.23zM281.42 216.14v2.23h6.33v-2.23zM287.75 216.14v2.23h6.33v-2.23zM316 216.14v2.23h6.26v-2.23zM334.78 218.37v2.23h6.26v-2.23zM341.04 218.37v2.23h6.26v-2.23zM316 232.4v2.3h6.26v-2.3zM156.24 241.6v2.3h6.28v-2.3zM241.08 243.9v2.3h6.28v-2.3zM93.44 246.2v2.3h6.28v-2.3zM106 246.2v2.3h6.28v-2.3zM93.44 248.5v2.3h6.28v-2.3z"/><path fill="#e2d2bc" shape-rendering="crispEdges" d="M372.34 81.42v2.32h6.26v-2.32zM80.88 83.74v2.32h6.28v-2.32zM347.3 86.07v2.32h6.26v-2.32zM156.24 88.39v2.32h6.28v-2.32zM162.52 88.39v2.32h6.28v-2.32zM156.24 90.71v2.32h6.28v-2.32zM162.52 90.71v2.32h6.28v-2.32zM197.12 90.71v2.32h6.28v-2.32zM99.72 93.03v2.32h6.28v-2.32zM241.08 93.03v2.32h6.28v-2.32zM268.76 93.03v2.32h6.33v-2.32zM322.26 104.45v2.35h6.26v-2.35zM87.16 106.8v2.35h6.28v-2.35zM197.12 106.8v2.35h6.28v-2.35zM149.96 109.15v2.35h6.28v-2.35zM287.75 109.15v2.35h6.33v-2.35zM334.78 109.15v2.35h6.26v-2.35zM359.82 109.15v2.35h6.26v-2.35zM143.68 111.5v2.35h6.28v-2.35zM149.96 111.5v2.35h6.28v-2.35zM234.8 111.5v2.35h6.28v-2.35zM256.1 111.5v2.35h6.33v-2.35zM262.43 111.5v2.35h6.33v-2.35zM268.76 111.5v2.35h6.33v-2.35zM228.52 113.85v2.35h6.28v-2.35zM281.42 113.85v2.35h6.33v-2.35zM294.08 113.85v2.35h6.33v-2.35zM80.88 118.55v2.35h6.28v-2.35zM87.16 118.55v2.35h6.28v-2.35zM106 118.55v2.35h6.28v-2.35zM137.4 118.55v2.35h6.28v-2.35zM112.28 123.25v2.35h6.28v-2.35zM131.12 123.25v2.35h6.28v-2.35zM162.52 125.6v2.35h6.28v-2.35zM178.28 127.95v2.35h6.28v-2.35zM287.75 127.95v2.35h6.33v-2.35zM162.52 130.3v2.35h6.28v-2.35zM197.12 132.65v2.35h6.28v-2.35zM322.26 132.65v2.35h6.26v-2.35zM316 137.35v2.35h6.26v-2.35zM347.3 137.35v2.35h6.26v-2.35zM87.16 144.54v2.54h6.28v-2.54zM268.76 144.54v2.54h6.33v-2.54zM366.08 144.54v2.54h6.26v-2.54zM55.76 147.08v2.54h6.28v-2.54zM62.04 147.08v2.54h6.28v-2.54zM68.32 147.08v2.54h6.28v-2.54zM87.16 147.08v2.54h6.28v-2.54zM106 147.08v2.54h6.28v-2.54zM112.28 147.08v2.54h6.28v-2.54zM347.3 152.16v2.54h6.26v-2.54zM287.75 157v2.45h6.33v-2.45zM143.68 171.9v2.4h6.28v-2.4zM275.09 171.9v2.4h6.33v-2.4zM281.42 171.9v2.4h6.33v-2.4zM184.56 174.3v2.4h6.28v-2.4zM172 176.7v2.4h6.28v-2.4zM172 181.5v2.4h6.28v-2.4zM215.96 181.5v2.4h6.28v-2.4zM222.24 181.5v2.4h6.28v-2.4zM228.52 181.5v2.4h6.28v-2.4zM334.78 181.5v2.4h6.26v-2.4zM74.6 183.9v2.4h6.28v-2.4zM112.28 183.9v2.4h6.28v-2.4zM93.44 191.2v2.18h6.28v-2.18zM256.1 191.2v2.18h6.33v-2.18zM328.52 191.2v2.18h6.26v-2.18zM222.24 193.38v2.18h6.28v-2.18zM241.08 193.38v2.18h6.28v-2.18zM316 195.56v2.18h6.26v-2.18zM328.52 195.56v2.18h6.26v-2.18zM215.96 197.74v2.18h6.28v-2.18zM300.41 197.74v2.18h6.33v-2.18zM322.26 232.4v2.3h6.26v-2.3zM353.56 248.5v2.3h6.26v-2.3zM366.08 248.5v2.3h6.26v-2.3z"/><path fill="#d4b38f" shape-rendering="crispEdges" d="M106 83.74v2.32h6.28v-2.32zM112.28 83.74v2.32h6.28v-2.32zM118.56 83.74v2.32h6.28v-2.32zM143.68 83.74v2.32h6.28v-2.32zM228.52 83.74v2.32h6.28v-2.32zM322.26 83.74v2.32h6.26v-2.32zM262.43 86.07v2.32h6.33v-2.32zM112.28 88.39v2.32h6.28v-2.32zM275.09 88.39v2.32h6.33v-2.32zM287.75 88.39v2.32h6.33v-2.32zM334.78 90.71v2.32h6.26v-2.32zM68.32 93.03v2.32h6.28v-2.32zM247.36 93.03v2.32h6.28v-2.32zM334.78 95.36v2.32h6.26v-2.32zM341.04 95.36v2.32h6.26v-2.32zM124.84 106.8v2.35h6.28v-2.35zM184.56 106.8v2.35h6.28v-2.35zM124.84 109.15v2.35h6.28v-2.35zM353.56 109.15v2.35h6.26v-2.35zM322.26 111.5v2.35h6.26v-2.35zM55.76 113.85v2.35h6.28v-2.35zM222.24 113.85v2.35h6.28v-2.35zM234.8 113.85v2.35h6.28v-2.35zM241.08 113.85v2.35h6.28v-2.35zM178.28 116.2v2.35h6.28v-2.35zM62.04 118.55v2.35h6.28v-2.35zM366.08 118.55v2.35h6.26v-2.35zM137.4 120.9v2.35h6.28v-2.35zM178.28 123.25v2.35h6.28v-2.35zM209.68 130.3v2.35h6.28v-2.35zM222.24 132.65v2.35h6.28v-2.35zM234.8 132.65v2.35h6.28v-2.35zM68.32 144.54v2.54h6.28v-2.54zM112.28 144.54v2.54h6.28v-2.54zM124.84 144.54v2.54h6.28v-2.54zM131.12 144.54v2.54h6.28v-2.54zM156.24 144.54v2.54h6.28v-2.54zM341.04 144.54v2.54h6.26v-2.54zM347.3 144.54v2.54h6.26v-2.54zM99.72 147.08v2.54h6.28v-2.54zM209.68 149.62v2.54h6.28v-2.54zM275.09 169.5v2.4h6.33v-2.4zM347.3 169.5v2.4h6.26v-2.4zM372.34 169.5v2.4h6.26v-2.4zM118.56 171.9v2.4h6.28v-2.4zM287.75 171.9v2.4h6.33v-2.4zM294.08 171.9v2.4h6.33v-2.4zM300.41 171.9v2.4h6.33v-2.4zM306.74 171.9v2.4h6.33v-2.4zM328.52 176.7v2.4h6.26v-2.4zM112.28 179.1v2.4h6.28v-2.4zM93.44 181.5v2.4h6.28v-2.4zM178.28 181.5v2.4h6.28v-2.4zM178.28 191.2v2.18h6.28v-2.18zM341.04 191.2v2.18h6.26v-2.18zM55.76 193.38v2.18h6.28v-2.18zM62.04 193.38v2.18h6.28v-2.18zM68.32 193.38v2.18h6.28v-2.18zM74.6 193.38v2.18h6.28v-2.18zM131.12 193.38v2.18h6.28v-2.18zM143.68 193.38v2.18h6.28v-2.18zM341.04 195.56v2.18h6.26v-2.18zM209.68 197.74v2.18h6.28v-2.18zM241.08 197.74v2.18h6.28v-2.18zM178.28 199.92v2.18h6.28v-2.18zM359.82 227.8v2.3h6.26v-2.3zM334.78 232.4v2.3h6.26v-2.3z"/><path fill="#46357f" shape-rendering="crispEdges" d="M197.12 83.74v2.32h6.28v-2.32zM234.8 90.71v2.32h6.28v-2.32zM366.08 93.03v2.32h6.26v-2.32zM287.75 102.1v2.35h6.33v-2.35zM118.56 104.45v2.35h6.28v-2.35zM341.04 104.45v2.35h6.26v-2.35zM294.08 106.8v2.35h6.33v-2.35zM372.34 106.8v2.35h6.26v-2.35zM55.76 109.15v2.35h6.28v-2.35zM62.04 109.15v2.35h6.28v-2.35zM62.04 116.2v2.35h6.28v-2.35zM215.96 116.2v2.35h6.28v-2.35zM209.68 118.55v2.35h6.28v-2.35zM234.8 118.55v2.35h6.28v-2.35zM62.04 120.9v2.35h6.28v-2.35zM87.16 120.9v2.35h6.28v-2.35zM99.72 125.6v2.35h6.28v-2.35zM118.56 127.95v2.35h6.28v-2.35zM156.24 127.95v2.35h6.28v-2.35zM306.74 130.3v2.35h6.33v-2.35zM156.24 132.65v2.35h6.28v-2.35zM131.12 135v2.35h6.28v-2.35zM143.68 135v2.35h6.28v-2.35zM87.16 137.35v2.35h6.28v-2.35zM322.26 142v2.54h6.26v-2.54zM334.78 142v2.54h6.26v-2.54zM262.43 149.62v2.54h6.33v-2.54zM268.76 149.62v2.54h6.33v-2.54zM366.08 149.62v2.54h6.26v-2.54zM372.34 149.62v2.54h6.26v-2.54zM99.72 167.1v2.4h6.28v-2.4zM99.72 169.5v2.4h6.28v-2.4zM112.28 169.5v2.4h6.28v-2.4zM149.96 169.5v2.4h6.28v-2.4zM184.56 171.9v2.4h6.28v-2.4zM316 171.9v2.4h6.26v-2.4zM162.52 174.3v2.4h6.28v-2.4zM190.84 176.7v2.4h6.28v-2.4zM209.68 195.56v2.18h6.28v-2.18zM215.96 195.56v2.18h6.28v-2.18zM247.36 195.56v2.18h6.28v-2.18zM300.41 199.92v2.18h6.33v-2.18zM184.56 225.5v2.3h6.28v-2.3zM197.12 225.5v2.3h6.28v-2.3zM203.4 225.5v2.3h6.28v-2.3zM209.68 225.5v2.3h6.28v-2.3zM215.96 225.5v2.3h6.28v-2.3zM222.24 225.5v2.3h6.28v-2.3zM228.52 225.5v2.3h6.28v-2.3zM234.8 225.5v2.3h6.28v-2.3zM241.08 225.5v2.3h6.28v-2.3zM247.36 225.5v2.3h6.28v-2.3zM112.28 227.8v2.3h6.28v-2.3zM366.08 230.1v2.3h6.26v-2.3zM347.3 237v2.3h6.26v-2.3zM55.76 241.6v2.3h6.28v-2.3zM228.52 241.6v2.3h6.28v-2.3zM275.09 246.2v2.3h6.33v-2.3zM281.42 246.2v2.3h6.33v-2.3zM306.74 246.2v2.3h6.33v-2.3zM49.48 248.5v2.3h6.28v-2.3zM131.12 248.5v2.3h6.28v-2.3zM137.4 248.5v2.3h6.28v-2.3zM156.24 248.5v2.3h6.28v-2.3zM268.76 248.5v2.3h6.33v-2.3z"/><path fill="#99623b" shape-rendering="crispEdges" d="M306.74 83.74v2.32h6.33v-2.32zM106 90.71v2.32h6.28v-2.32zM43.2 97.68v2.32h6.28v-2.32zM268.76 104.45v2.35h6.33v-2.35zM172 109.15v2.35h6.28v-2.35zM93.44 113.85v2.35h6.28v-2.35zM172 137.35v2.35h6.28v-2.35zM247.36 137.35v2.35h6.28v-2.35zM137.4 149.62v2.54h6.28v-2.54zM316 167.1v2.4h6.26v-2.4zM366.08 167.1v2.4h6.26v-2.4zM316 174.3v2.4h6.26v-2.4zM172 179.1v2.4h6.28v-2.4zM184.56 179.1v2.4h6.28v-2.4zM234.8 183.9v2.4h6.28v-2.4zM328.52 241.6v2.3h6.26v-2.3z"/><path fill="#a0683f" shape-rendering="crispEdges" d="M106 86.07v2.32h6.28v-2.32zM112.28 86.07v2.32h6.28v-2.32zM162.52 86.07v2.32h6.28v-2.32zM118.56 90.71v2.32h6.28v-2.32zM106 95.36v2.32h6.28v-2.32zM197.12 102.1v2.35h6.28v-2.35zM99.72 113.85v2.35h6.28v-2.35zM197.12 113.85v2.35h6.28v-2.35zM275.09 120.9v2.35h6.33v-2.35zM328.52 120.9v2.35h6.26v-2.35zM241.08 135v2.35h6.28v-2.35zM190.84 142v2.54h6.28v-2.54zM74.6 149.62v2.54h6.28v-2.54zM124.84 149.62v2.54h6.28v-2.54zM143.68 149.62v2.54h6.28v-2.54zM215.96 164.7v2.4h6.28v-2.4zM322.26 164.7v2.4h6.26v-2.4zM222.24 183.9v2.4h6.28v-2.4zM256.1 183.9v2.4h6.33v-2.4zM306.74 186.3v2.4h6.33v-2.4zM366.08 186.3v2.4h6.26v-2.4z"/><path fill="#9d653d" shape-rendering="crispEdges" d="M143.68 86.07v2.32h6.28v-2.32zM149.96 86.07v2.32h6.28v-2.32zM80.88 90.71v2.32h6.28v-2.32zM137.4 90.71v2.32h6.28v-2.32zM112.28 95.36v2.32h6.28v-2.32zM359.82 102.1v2.35h6.26v-2.35zM347.3 106.8v2.35h6.26v-2.35zM178.28 109.15v2.35h6.28v-2.35zM87.16 113.85v2.35h6.28v-2.35zM190.84 113.85v2.35h6.28v-2.35zM241.08 137.35v2.35h6.28v-2.35zM172 147.08v2.54h6.28v-2.54zM172 152.16v2.54h6.28v-2.54zM178.28 152.16v2.54h6.28v-2.54zM203.4 157v2.45h6.28v-2.45zM241.08 157v2.45h6.28v-2.45zM156.24 159.45v2.45h6.28v-2.45zM353.56 159.45v2.45h6.26v-2.45zM372.34 174.3v2.4h6.26v-2.4zM256.1 176.7v2.4h6.33v-2.4zM287.75 176.7v2.4h6.33v-2.4zM328.52 179.1v2.4h6.26v-2.4zM268.76 183.9v2.4h6.33v-2.4zM275.09 183.9v2.4h6.33v-2.4zM359.82 186.3v2.4h6.26v-2.4zM322.26 241.6v2.3h6.26v-2.3zM184.56 243.9v2.3h6.28v-2.3zM203.4 243.9v2.3h6.28v-2.3z"/><path fill="#dac0a0" shape-rendering="crispEdges" d="M306.74 86.07v2.32h6.33v-2.32zM359.82 86.07v2.32h6.26v-2.32zM178.28 88.39v2.32h6.28v-2.32zM215.96 88.39v2.32h6.28v-2.32zM222.24 88.39v2.32h6.28v-2.32zM262.43 88.39v2.32h6.33v-2.32zM124.84 93.03v2.32h6.28v-2.32zM131.12 93.03v2.32h6.28v-2.32zM162.52 93.03v2.32h6.28v-2.32zM328.52 104.45v2.35h6.26v-2.35zM172 106.8v2.35h6.28v-2.35zM178.28 106.8v2.35h6.28v-2.35zM190.84 106.8v2.35h6.28v-2.35zM203.4 106.8v2.35h6.28v-2.35zM162.52 109.15v2.35h6.28v-2.35zM322.26 109.15v2.35h6.26v-2.35zM222.24 111.5v2.35h6.28v-2.35zM359.82 111.5v2.35h6.26v-2.35zM43.2 113.85v2.35h6.28v-2.35zM184.56 116.2v2.35h6.28v-2.35zM118.56 118.55v2.35h6.28v-2.35zM172 118.55v2.35h6.28v-2.35zM178.28 118.55v2.35h6.28v-2.35zM184.56 118.55v2.35h6.28v-2.35zM334.78 118.55v2.35h6.26v-2.35zM74.6 123.25v2.35h6.28v-2.35zM300.41 123.25v2.35h6.33v-2.35zM184.56 127.95v2.35h6.28v-2.35zM234.8 127.95v2.35h6.28v-2.35zM99.72 130.3v2.35h6.28v-2.35zM190.84 130.3v2.35h6.28v-2.35zM197.12 130.3v2.35h6.28v-2.35zM137.4 132.65v2.35h6.28v-2.35zM215.96 132.65v2.35h6.28v-2.35zM228.52 132.65v2.35h6.28v-2.35zM241.08 132.65v2.35h6.28v-2.35zM328.52 132.65v2.35h6.26v-2.35zM347.3 132.65v2.35h6.26v-2.35zM353.56 132.65v2.35h6.26v-2.35zM359.82 132.65v2.35h6.26v-2.35zM322.26 137.35v2.35h6.26v-2.35zM215.96 142v2.54h6.28v-2.54zM172 144.54v2.54h6.28v-2.54zM359.82 144.54v2.54h6.26v-2.54zM93.44 147.08v2.54h6.28v-2.54zM262.43 147.08v2.54h6.33v-2.54zM190.84 149.62v2.54h6.28v-2.54zM197.12 149.62v2.54h6.28v-2.54zM203.4 149.62v2.54h6.28v-2.54zM353.56 169.5v2.4h6.26v-2.4zM366.08 169.5v2.4h6.26v-2.4zM106 171.9v2.4h6.28v-2.4zM149.96 171.9v2.4h6.28v-2.4zM178.28 174.3v2.4h6.28v-2.4zM87.16 181.5v2.4h6.28v-2.4zM190.84 181.5v2.4h6.28v-2.4zM353.56 181.5v2.4h6.26v-2.4zM184.56 186.3v2.4h6.28v-2.4zM197.12 191.2v2.18h6.28v-2.18zM322.26 191.2v2.18h6.26v-2.18zM43.2 193.38v2.18h6.28v-2.18zM87.16 193.38v2.18h6.28v-2.18zM99.72 193.38v2.18h6.28v-2.18zM156.24 193.38v2.18h6.28v-2.18zM234.8 193.38v2.18h6.28v-2.18zM203.4 197.74v2.18h6.28v-2.18zM43.2 199.92v2.18h6.28v-2.18zM172 199.92v2.18h6.28v-2.18zM137.4 241.6v2.3h6.28v-2.3zM93.44 243.9v2.3h6.28v-2.3zM112.28 246.2v2.3h6.28v-2.3zM353.56 246.2v2.3h6.26v-2.3zM359.82 248.5v2.3h6.26v-2.3z"/><path fill="#22104c" shape-rendering="crispEdges" d="M347.3 88.39v2.32h6.26v-2.32zM359.82 88.39v2.32h6.26v-2.32zM178.28 93.03v2.32h6.28v-2.32zM106 102.1v2.35h6.28v-2.35zM43.2 104.45v2.35h6.28v-2.35zM49.48 104.45v2.35h6.28v-2.35zM143.68 109.15v2.35h6.28v-2.35zM353.56 113.85v2.35h6.26v-2.35zM55.76 127.95v2.35h6.28v-2.35zM306.74 135v2.35h6.33v-2.35zM306.74 152.16v2.54h6.33v-2.54zM328.52 157v2.45h6.26v-2.45zM172 164.7v2.4h6.28v-2.4zM172 167.1v2.4h6.28v-2.4zM49.48 176.7v2.4h6.28v-2.4zM80.88 176.7v2.4h6.28v-2.4zM62.04 186.3v2.4h6.28v-2.4zM347.3 193.38v2.18h6.26v-2.18zM353.56 193.38v2.18h6.26v-2.18z"/><path fill="#261453" shape-rendering="crispEdges" d="M366.08 88.39v2.32h6.26v-2.32zM197.12 97.68v2.32h6.28v-2.32zM55.76 104.45v2.35h6.28v-2.35zM68.32 111.5v2.35h6.28v-2.35zM281.42 125.6v2.35h6.33v-2.35zM215.96 127.95v2.35h6.28v-2.35zM80.88 132.65v2.35h6.28v-2.35zM256.1 135v2.35h6.33v-2.35zM300.41 135v2.35h6.33v-2.35zM43.2 137.35v2.35h6.28v-2.35zM68.32 137.35v2.35h6.28v-2.35zM294.08 144.54v2.54h6.33v-2.54zM316 147.08v2.54h6.26v-2.54zM294.08 152.16v2.54h6.33v-2.54zM300.41 152.16v2.54h6.33v-2.54zM294.08 157v2.45h6.33v-2.45zM306.74 157v2.45h6.33v-2.45zM162.52 164.7v2.4h6.28v-2.4zM43.2 167.1v2.4h6.28v-2.4zM68.32 167.1v2.4h6.28v-2.4zM156.24 167.1v2.4h6.28v-2.4zM172 169.5v2.4h6.28v-2.4zM209.68 169.5v2.4h6.28v-2.4zM93.44 176.7v2.4h6.28v-2.4zM143.68 179.1v2.4h6.28v-2.4zM62.04 181.5v2.4h6.28v-2.4zM68.32 181.5v2.4h6.28v-2.4zM74.6 186.3v2.4h6.28v-2.4zM124.84 186.3v2.4h6.28v-2.4zM359.82 193.38v2.18h6.26v-2.18zM366.08 193.38v2.18h6.26v-2.18zM372.34 193.38v2.18h6.26v-2.18zM49.48 243.9v2.3h6.28v-2.3zM74.6 243.9v2.3h6.28v-2.3z"/><path fill="#905a34" shape-rendering="crispEdges" d="M143.68 90.71v2.32h6.28v-2.32zM137.4 97.68v2.32h6.28v-2.32zM262.43 104.45v2.35h6.33v-2.35zM228.52 116.2v2.35h6.28v-2.35zM328.52 167.1v2.4h6.26v-2.4zM190.84 248.5v2.3h6.28v-2.3z"/><path fill="#8a5430" shape-rendering="crispEdges" d="M112.28 97.68v2.32h6.28v-2.32zM118.56 97.68v2.32h6.28v-2.32zM124.84 97.68v2.32h6.28v-2.32zM149.96 97.68v2.32h6.28v-2.32zM184.56 102.1v2.35h6.28v-2.35zM190.84 102.1v2.35h6.28v-2.35zM222.24 116.2v2.35h6.28v-2.35zM234.8 116.2v2.35h6.28v-2.35zM247.36 135v2.35h6.28v-2.35zM366.08 179.1v2.4h6.26v-2.4zM372.34 186.3v2.4h6.26v-2.4zM190.84 243.9v2.3h6.28v-2.3zM197.12 243.9v2.3h6.28v-2.3z"/><path fill="#8d5732" shape-rendering="crispEdges" d="M143.68 97.68v2.32h6.28v-2.32zM372.34 179.1v2.4h6.26v-2.4zM287.75 186.3v2.4h6.33v-2.4z"/><path fill="#24124f" shape-rendering="crispEdges" d="M190.84 97.68v2.32h6.28v-2.32zM228.52 97.68v2.32h6.28v-2.32zM247.36 97.68v2.32h6.28v-2.32zM359.82 97.68v2.32h6.26v-2.32zM143.68 113.85v2.35h6.28v-2.35zM74.6 127.95v2.35h6.28v-2.35zM366.08 142v2.54h6.26v-2.54zM372.34 147.08v2.54h6.26v-2.54zM300.41 149.62v2.54h6.33v-2.54zM300.41 159.45v2.45h6.33v-2.45zM143.68 167.1v2.4h6.28v-2.4zM203.4 169.5v2.4h6.28v-2.4zM68.32 176.7v2.4h6.28v-2.4zM106 176.7v2.4h6.28v-2.4zM222.24 176.7v2.4h6.28v-2.4zM228.52 176.7v2.4h6.28v-2.4zM106 181.5v2.4h6.28v-2.4zM106 186.3v2.4h6.28v-2.4zM112.28 186.3v2.4h6.28v-2.4zM156.24 186.3v2.4h6.28v-2.4zM99.72 243.9v2.3h6.28v-2.3z"/><path fill="#200e48" shape-rendering="crispEdges" d="M366.08 97.68v2.32h6.26v-2.32zM43.2 102.1v2.35h6.28v-2.35zM143.68 102.1v2.35h6.28v-2.35zM359.82 113.85v2.35h6.26v-2.35zM215.96 144.54v2.54h6.28v-2.54zM300.41 157v2.45h6.33v-2.45zM316 157v2.45h6.26v-2.45zM334.78 157v2.45h6.26v-2.45zM178.28 164.7v2.4h6.28v-2.4zM178.28 167.1v2.4h6.28v-2.4zM209.68 167.1v2.4h6.28v-2.4zM87.16 176.7v2.4h6.28v-2.4zM137.4 181.5v2.4h6.28v-2.4zM118.56 186.3v2.4h6.28v-2.4z"/><rect x="30" y="255.2" width="10.8" height="6.48" fill="#8b5a2b"/><rect x="30" y="261.63" width="10.8" height="6.48" fill="#f2c6c6"/><rect x="30" y="268.06" width="10.8" height="6.48" fill="#e0359a"/><rect x="30" y="274.49" width="10.8" height="6.48" fill="#f59d22"/><rect x="30" y="280.92" width="10.8" height="6.48" fill="#2a2a80"/><rect x="30" y="287.35" width="10.8" height="6.48" fill="#46c0d2"/><rect x="30" y="293.78" width="10.8" height="6.48" fill="#d9414f"/><rect x="30" y="300.21" width="10.8" height="6.48" fill="#3b7fd0"/><rect x="30" y="306.64" width="10.8" height="6.48" fill="#7fb884"/><rect x="30" y="313.07" width="10.8" height="6.48" fill="#a01c22"/><rect x="30" y="319.5" width="10.8" height="6.48" fill="#874628"/><rect x="30" y="325.93" width="10.8" height="6.48" fill="#a9b9d9"/><rect x="30" y="332.36" width="10.8" height="6.48" fill="#d98fc8"/><rect x="30" y="338.79" width="10.8" height="6.48" fill="#4c2c92"/><rect x="30" y="345.22" width="10.8" height="6.48" fill="#c97a30"/><rect x="30" y="351.65" width="10.8" height="6.48" fill="#4e6b8c"/><rect x="30" y="358.08" width="10.8" height="6.48" fill="#f2a62a"/><rect x="30" y="364.51" width="10.8" height="6.48" fill="#7a1212"/><rect x="30" y="370.94" width="10.8" height="6.48" fill="#2c7a5c"/><rect x="30" y="377.37" width="10.8" height="6.48" fill="#b9a86c"/><rect x="30" y="383.8" width="10.8" height="6.48" fill="#5cc63c"/><rect x="30" y="390.23" width="10.8" height="6.48" fill="#e62222"/><rect x="30" y="396.66" width="10.8" height="6.48" fill="#f8c81c"/><rect x="30" y="403.09" width="10.8" height="6.48" fill="#c9a985"/><rect x="30" y="409.52" width="10.8" height="6.48" fill="#fcd2b4"/><rect x="30" y="415.95" width="10.8" height="6.48" fill="#f47e22"/><rect x="30" y="422.38" width="10.8" height="6.48" fill="#1c5a2c"/><text class="t" x="380.6" y="260.5" font-size="6.6">ACC</text><text class="t" x="380.6" y="266.93" font-size="6.6">BLCA</text><text class="t" x="380.6" y="273.36" font-size="6.6">BRCA</text><text class="t" x="380.6" y="279.79" font-size="6.6">CESC</text><text class="t" x="380.6" y="286.22" font-size="6.6">CHOL</text><text class="t" x="380.6" y="292.65" font-size="6.6">COADREAD</text><text class="t" x="380.6" y="299.08" font-size="6.6">DLBC</text><text class="t" x="380.6" y="305.51" font-size="6.6">GBMLGG</text><text class="t" x="380.6" y="311.94" font-size="6.6">HNSC</text><text class="t" x="380.6" y="318.37" font-size="6.6">KIDNEY</text><text class="t" x="380.6" y="324.8" font-size="6.6">LAML</text><text class="t" x="380.6" y="331.23" font-size="6.6">LIHC</text><text class="t" x="380.6" y="337.66" font-size="6.6">LUNG</text><text class="t" x="380.6" y="344.09" font-size="6.6">MESO</text><text class="t" x="380.6" y="350.52" font-size="6.6">OV</text><text class="t" x="380.6" y="356.95" font-size="6.6">PAAD</text><text class="t" x="380.6" y="363.38" font-size="6.6">PCPG</text><text class="t" x="380.6" y="369.81" font-size="6.6">PRAD</text><text class="t" x="380.6" y="376.24" font-size="6.6">SARC</text><text class="t" x="380.6" y="382.67" font-size="6.6">SKCM</text><text class="t" x="380.6" y="389.1" font-size="6.6">STES</text><text class="t" x="380.6" y="395.53" font-size="6.6">TGCT</text><text class="t" x="380.6" y="401.96" font-size="6.6">THCA</text><text class="t" x="380.6" y="408.39" font-size="6.6">THYM</text><text class="t" x="380.6" y="414.82" font-size="6.6">UCEC</text><text class="t" x="380.6" y="421.25" font-size="6.6">UCS</text><text class="t" x="380.6" y="427.68" font-size="6.6">UVM</text><path fill="#e5f4e2" shape-rendering="crispEdges" d="M43.2 255.2v6.43h6.28v-6.43zM49.48 255.2v6.43h6.28v-6.43zM275.09 261.63v6.43h6.33v-6.43zM300.41 268.06v6.43h6.33v-6.43zM106 274.49v6.43h6.28v-6.43zM143.68 274.49v6.43h6.28v-6.43zM162.52 274.49v6.43h6.28v-6.43zM281.42 274.49v6.43h6.33v-6.43zM294.08 274.49v6.43h6.33v-6.43zM228.52 287.35v6.43h6.28v-6.43zM366.08 287.35v6.43h6.26v-6.43zM143.68 306.64v6.43h6.28v-6.43zM184.56 313.07v6.43h6.28v-6.43zM262.43 319.5v6.43h6.33v-6.43zM178.28 332.36v6.43h6.28v-6.43zM99.72 338.79v6.43h6.28v-6.43zM131.12 345.22v6.43h6.28v-6.43zM222.24 345.22v6.43h6.28v-6.43zM74.6 351.65v6.43h6.28v-6.43zM209.68 364.51v6.43h6.28v-6.43zM353.56 370.94v6.43h6.26v-6.43zM294.08 377.37v6.43h6.33v-6.43zM256.1 390.23v6.43h6.33v-6.43zM294.08 396.66v6.43h6.33v-6.43zM334.78 396.66v6.43h6.26v-6.43zM68.32 403.09v6.43h6.28v-6.43zM162.52 403.09v6.43h6.28v-6.43zM178.28 403.09v6.43h6.28v-6.43zM306.74 403.09v6.43h6.33v-6.43zM353.56 403.09v6.43h6.26v-6.43zM372.34 403.09v6.43h6.26v-6.43zM149.96 415.95v6.43h6.28v-6.43zM366.08 415.95v6.43h6.26v-6.43z"/><path fill="#a2d7a1" shape-rendering="crispEdges" d="M55.76 255.2v6.43h6.28v-6.43zM93.44 255.2v6.43h6.28v-6.43zM347.3 255.2v6.43h6.26v-6.43zM209.68 261.63v6.43h6.28v-6.43zM43.2 268.06v6.43h6.28v-6.43zM49.48 268.06v6.43h6.28v-6.43zM55.76 268.06v6.43h6.28v-6.43zM62.04 268.06v6.43h6.28v-6.43zM74.6 268.06v6.43h6.28v-6.43zM149.96 268.06v6.43h6.28v-6.43zM247.36 268.06v6.43h6.28v-6.43zM256.1 268.06v6.43h6.33v-6.43zM306.74 268.06v6.43h6.33v-6.43zM131.12 280.92v6.43h6.28v-6.43zM209.68 287.35v6.43h6.28v-6.43zM287.75 293.78v6.43h6.33v-6.43zM294.08 293.78v6.43h6.33v-6.43zM300.41 293.78v6.43h6.33v-6.43zM80.88 313.07v6.43h6.28v-6.43zM106 313.07v6.43h6.28v-6.43zM112.28 313.07v6.43h6.28v-6.43zM322.26 313.07v6.43h6.26v-6.43zM347.3 313.07v6.43h6.26v-6.43zM372.34 313.07v6.43h6.26v-6.43zM222.24 332.36v6.43h6.28v-6.43zM162.52 345.22v6.43h6.28v-6.43zM366.08 345.22v6.43h6.26v-6.43zM306.74 364.51v6.43h6.33v-6.43zM341.04 370.94v6.43h6.26v-6.43zM172 377.37v6.43h6.28v-6.43zM184.56 377.37v6.43h6.28v-6.43zM234.8 377.37v6.43h6.28v-6.43zM256.1 383.8v6.43h6.33v-6.43zM262.43 383.8v6.43h6.33v-6.43zM99.72 396.66v6.43h6.28v-6.43zM341.04 396.66v6.43h6.26v-6.43zM68.32 422.38v6.43h6.28v-6.43zM190.84 422.38v6.43h6.28v-6.43z"/><path fill="#b4dfb0" shape-rendering="crispEdges" d="M62.04 255.2v6.43h6.28v-6.43zM143.68 255.2v6.43h6.28v-6.43zM372.34 255.2v6.43h6.26v-6.43zM190.84 261.63v6.43h6.28v-6.43zM247.36 261.63v6.43h6.28v-6.43zM294.08 280.92v6.43h6.33v-6.43zM334.78 280.92v6.43h6.26v-6.43zM347.3 280.92v6.43h6.26v-6.43zM316 287.35v6.43h6.26v-6.43zM112.28 293.78v6.43h6.28v-6.43zM184.56 293.78v6.43h6.28v-6.43zM328.52 293.78v6.43h6.26v-6.43zM366.08 293.78v6.43h6.26v-6.43zM131.12 300.21v6.43h6.28v-6.43zM256.1 300.21v6.43h6.33v-6.43zM287.75 300.21v6.43h6.33v-6.43zM106 306.64v6.43h6.28v-6.43zM131.12 306.64v6.43h6.28v-6.43zM281.42 306.64v6.43h6.33v-6.43zM306.74 306.64v6.43h6.33v-6.43zM322.26 306.64v6.43h6.26v-6.43zM62.04 319.5v6.43h6.28v-6.43zM68.32 319.5v6.43h6.28v-6.43zM87.16 319.5v6.43h6.28v-6.43zM306.74 319.5v6.43h6.33v-6.43zM172 332.36v6.43h6.28v-6.43zM118.56 338.79v6.43h6.28v-6.43zM156.24 338.79v6.43h6.28v-6.43zM49.48 345.22v6.43h6.28v-6.43zM68.32 345.22v6.43h6.28v-6.43zM143.68 345.22v6.43h6.28v-6.43zM353.56 345.22v6.43h6.26v-6.43zM124.84 351.65v6.43h6.28v-6.43zM328.52 351.65v6.43h6.26v-6.43zM366.08 351.65v6.43h6.26v-6.43zM80.88 358.08v6.43h6.28v-6.43zM118.56 358.08v6.43h6.28v-6.43zM184.56 358.08v6.43h6.28v-6.43zM366.08 358.08v6.43h6.26v-6.43zM222.24 364.51v6.43h6.28v-6.43zM281.42 364.51v6.43h6.33v-6.43zM209.68 370.94v6.43h6.28v-6.43zM43.2 377.37v6.43h6.28v-6.43zM55.76 383.8v6.43h6.28v-6.43zM247.36 383.8v6.43h6.28v-6.43zM268.76 383.8v6.43h6.33v-6.43zM55.76 390.23v6.43h6.28v-6.43zM99.72 390.23v6.43h6.28v-6.43zM234.8 390.23v6.43h6.28v-6.43zM294.08 390.23v6.43h6.33v-6.43zM347.3 390.23v6.43h6.26v-6.43zM93.44 396.66v6.43h6.28v-6.43zM112.28 396.66v6.43h6.28v-6.43zM275.09 396.66v6.43h6.33v-6.43zM234.8 403.09v6.43h6.28v-6.43zM347.3 403.09v6.43h6.26v-6.43zM366.08 403.09v6.43h6.26v-6.43zM68.32 409.52v6.43h6.28v-6.43zM80.88 409.52v6.43h6.28v-6.43zM359.82 409.52v6.43h6.26v-6.43zM87.16 422.38v6.43h6.28v-6.43zM93.44 422.38v6.43h6.28v-6.43zM106 422.38v6.43h6.28v-6.43zM118.56 422.38v6.43h6.28v-6.43zM228.52 422.38v6.43h6.28v-6.43zM262.43 422.38v6.43h6.33v-6.43zM322.26 422.38v6.43h6.26v-6.43z"/><path fill="#cde9ca" shape-rendering="crispEdges" d="M68.32 255.2v6.43h6.28v-6.43zM68.32 261.63v6.43h6.28v-6.43zM359.82 261.63v6.43h6.26v-6.43zM131.12 274.49v6.43h6.28v-6.43zM190.84 274.49v6.43h6.28v-6.43zM234.8 274.49v6.43h6.28v-6.43zM118.56 280.92v6.43h6.28v-6.43zM143.68 280.92v6.43h6.28v-6.43zM359.82 280.92v6.43h6.26v-6.43zM62.04 287.35v6.43h6.28v-6.43zM87.16 287.35v6.43h6.28v-6.43zM184.56 287.35v6.43h6.28v-6.43zM268.76 287.35v6.43h6.33v-6.43zM262.43 293.78v6.43h6.33v-6.43zM149.96 300.21v6.43h6.28v-6.43zM172 300.21v6.43h6.28v-6.43zM203.4 300.21v6.43h6.28v-6.43zM222.24 300.21v6.43h6.28v-6.43zM156.24 306.64v6.43h6.28v-6.43zM156.24 313.07v6.43h6.28v-6.43zM268.76 313.07v6.43h6.33v-6.43zM306.74 313.07v6.43h6.33v-6.43zM287.75 319.5v6.43h6.33v-6.43zM118.56 325.93v6.43h6.28v-6.43zM131.12 325.93v6.43h6.28v-6.43zM222.24 325.93v6.43h6.28v-6.43zM247.36 325.93v6.43h6.28v-6.43zM268.76 325.93v6.43h6.33v-6.43zM106 332.36v6.43h6.28v-6.43zM287.75 332.36v6.43h6.33v-6.43zM306.74 332.36v6.43h6.33v-6.43zM328.52 332.36v6.43h6.26v-6.43zM106 338.79v6.43h6.28v-6.43zM143.68 338.79v6.43h6.28v-6.43zM172 338.79v6.43h6.28v-6.43zM222.24 338.79v6.43h6.28v-6.43zM275.09 338.79v6.43h6.33v-6.43zM118.56 345.22v6.43h6.28v-6.43zM178.28 345.22v6.43h6.28v-6.43zM43.2 351.65v6.43h6.28v-6.43zM215.96 351.65v6.43h6.28v-6.43zM234.8 351.65v6.43h6.28v-6.43zM262.43 351.65v6.43h6.33v-6.43zM62.04 358.08v6.43h6.28v-6.43zM99.72 358.08v6.43h6.28v-6.43zM262.43 358.08v6.43h6.33v-6.43zM316 364.51v6.43h6.26v-6.43zM328.52 364.51v6.43h6.26v-6.43zM80.88 370.94v6.43h6.28v-6.43zM178.28 370.94v6.43h6.28v-6.43zM203.4 370.94v6.43h6.28v-6.43zM80.88 377.37v6.43h6.28v-6.43zM178.28 377.37v6.43h6.28v-6.43zM156.24 383.8v6.43h6.28v-6.43zM215.96 383.8v6.43h6.28v-6.43zM287.75 383.8v6.43h6.33v-6.43zM149.96 390.23v6.43h6.28v-6.43zM162.52 390.23v6.43h6.28v-6.43zM328.52 390.23v6.43h6.26v-6.43zM197.12 396.66v6.43h6.28v-6.43zM241.08 396.66v6.43h6.28v-6.43zM268.76 396.66v6.43h6.33v-6.43zM328.52 396.66v6.43h6.26v-6.43zM366.08 396.66v6.43h6.26v-6.43zM172 403.09v6.43h6.28v-6.43zM197.12 403.09v6.43h6.28v-6.43zM112.28 415.95v6.43h6.28v-6.43zM190.84 415.95v6.43h6.28v-6.43zM275.09 415.95v6.43h6.33v-6.43zM334.78 415.95v6.43h6.26v-6.43zM353.56 415.95v6.43h6.26v-6.43zM372.34 415.95v6.43h6.26v-6.43zM137.4 422.38v6.43h6.28v-6.43zM222.24 422.38v6.43h6.28v-6.43z"/><path fill="#f4faf2" shape-rendering="crispEdges" d="M74.6 255.2v6.43h6.28v-6.43zM294.08 255.2v6.43h6.33v-6.43zM99.72 261.63v6.43h6.28v-6.43zM228.52 261.63v6.43h6.28v-6.43zM334.78 261.63v6.43h6.26v-6.43zM234.8 268.06v6.43h6.28v-6.43zM294.08 268.06v6.43h6.33v-6.43zM137.4 274.49v6.43h6.28v-6.43zM184.56 280.92v6.43h6.28v-6.43zM137.4 287.35v6.43h6.28v-6.43zM328.52 287.35v6.43h6.26v-6.43zM55.76 293.78v6.43h6.28v-6.43zM143.68 300.21v6.43h6.28v-6.43zM222.24 306.64v6.43h6.28v-6.43zM118.56 313.07v6.43h6.28v-6.43zM190.84 313.07v6.43h6.28v-6.43zM247.36 313.07v6.43h6.28v-6.43zM162.52 319.5v6.43h6.28v-6.43zM62.04 325.93v6.43h6.28v-6.43zM190.84 325.93v6.43h6.28v-6.43zM353.56 325.93v6.43h6.26v-6.43zM80.88 332.36v6.43h6.28v-6.43zM268.76 332.36v6.43h6.33v-6.43zM366.08 332.36v6.43h6.26v-6.43zM49.48 338.79v6.43h6.28v-6.43zM268.76 345.22v6.43h6.33v-6.43zM49.48 351.65v6.43h6.28v-6.43zM80.88 351.65v6.43h6.28v-6.43zM87.16 351.65v6.43h6.28v-6.43zM197.12 351.65v6.43h6.28v-6.43zM268.76 351.65v6.43h6.33v-6.43zM306.74 358.08v6.43h6.33v-6.43zM316 358.08v6.43h6.26v-6.43zM334.78 358.08v6.43h6.26v-6.43zM353.56 358.08v6.43h6.26v-6.43zM137.4 364.51v6.43h6.28v-6.43zM287.75 364.51v6.43h6.33v-6.43zM112.28 370.94v6.43h6.28v-6.43zM80.88 383.8v6.43h6.28v-6.43zM184.56 390.23v6.43h6.28v-6.43zM287.75 390.23v6.43h6.33v-6.43zM215.96 409.52v6.43h6.28v-6.43zM80.88 415.95v6.43h6.28v-6.43zM197.12 422.38v6.43h6.28v-6.43zM316 422.38v6.43h6.26v-6.43z"/><path fill="#abdba8" shape-rendering="crispEdges" d="M80.88 255.2v6.43h6.28v-6.43zM62.04 261.63v6.43h6.28v-6.43zM143.68 261.63v6.43h6.28v-6.43zM215.96 261.63v6.43h6.28v-6.43zM241.08 261.63v6.43h6.28v-6.43zM359.82 268.06v6.43h6.26v-6.43zM156.24 274.49v6.43h6.28v-6.43zM209.68 274.49v6.43h6.28v-6.43zM106 280.92v6.43h6.28v-6.43zM124.84 280.92v6.43h6.28v-6.43zM287.75 280.92v6.43h6.33v-6.43zM99.72 287.35v6.43h6.28v-6.43zM106 287.35v6.43h6.28v-6.43zM68.32 293.78v6.43h6.28v-6.43zM190.84 293.78v6.43h6.28v-6.43zM306.74 293.78v6.43h6.33v-6.43zM334.78 293.78v6.43h6.26v-6.43zM62.04 313.07v6.43h6.28v-6.43zM49.48 319.5v6.43h6.28v-6.43zM178.28 319.5v6.43h6.28v-6.43zM80.88 325.93v6.43h6.28v-6.43zM87.16 325.93v6.43h6.28v-6.43zM93.44 325.93v6.43h6.28v-6.43zM347.3 325.93v6.43h6.26v-6.43zM68.32 332.36v6.43h6.28v-6.43zM74.6 332.36v6.43h6.28v-6.43zM87.16 338.79v6.43h6.28v-6.43zM106 345.22v6.43h6.28v-6.43zM247.36 345.22v6.43h6.28v-6.43zM359.82 345.22v6.43h6.26v-6.43zM372.34 345.22v6.43h6.26v-6.43zM172 351.65v6.43h6.28v-6.43zM190.84 351.65v6.43h6.28v-6.43zM341.04 351.65v6.43h6.26v-6.43zM228.52 358.08v6.43h6.28v-6.43zM294.08 358.08v6.43h6.33v-6.43zM300.41 358.08v6.43h6.33v-6.43zM341.04 358.08v6.43h6.26v-6.43zM228.52 364.51v6.43h6.28v-6.43zM55.76 370.94v6.43h6.28v-6.43zM99.72 370.94v6.43h6.28v-6.43zM118.56 383.8v6.43h6.28v-6.43zM234.8 383.8v6.43h6.28v-6.43zM341.04 383.8v6.43h6.26v-6.43zM275.09 390.23v6.43h6.33v-6.43zM334.78 390.23v6.43h6.26v-6.43zM106 396.66v6.43h6.28v-6.43zM106 409.52v6.43h6.28v-6.43zM353.56 409.52v6.43h6.26v-6.43zM234.8 415.95v6.43h6.28v-6.43zM62.04 422.38v6.43h6.28v-6.43z"/><path fill="#c5e6c1" shape-rendering="crispEdges" d="M87.16 255.2v6.43h6.28v-6.43zM124.84 255.2v6.43h6.28v-6.43zM184.56 255.2v6.43h6.28v-6.43zM222.24 255.2v6.43h6.28v-6.43zM328.52 255.2v6.43h6.26v-6.43zM80.88 261.63v6.43h6.28v-6.43zM112.28 261.63v6.43h6.28v-6.43zM203.4 268.06v6.43h6.28v-6.43zM215.96 268.06v6.43h6.28v-6.43zM316 268.06v6.43h6.26v-6.43zM366.08 268.06v6.43h6.26v-6.43zM359.82 274.49v6.43h6.26v-6.43zM372.34 274.49v6.43h6.26v-6.43zM74.6 280.92v6.43h6.28v-6.43zM93.44 280.92v6.43h6.28v-6.43zM149.96 280.92v6.43h6.28v-6.43zM172 287.35v6.43h6.28v-6.43zM294.08 287.35v6.43h6.33v-6.43zM322.26 287.35v6.43h6.26v-6.43zM359.82 287.35v6.43h6.26v-6.43zM162.52 293.78v6.43h6.28v-6.43zM197.12 293.78v6.43h6.28v-6.43zM209.68 293.78v6.43h6.28v-6.43zM49.48 300.21v6.43h6.28v-6.43zM334.78 300.21v6.43h6.26v-6.43zM43.2 306.64v6.43h6.28v-6.43zM172 306.64v6.43h6.28v-6.43zM178.28 306.64v6.43h6.28v-6.43zM328.52 306.64v6.43h6.26v-6.43zM99.72 313.07v6.43h6.28v-6.43zM149.96 313.07v6.43h6.28v-6.43zM241.08 313.07v6.43h6.28v-6.43zM281.42 313.07v6.43h6.33v-6.43zM334.78 313.07v6.43h6.26v-6.43zM124.84 319.5v6.43h6.28v-6.43zM137.4 319.5v6.43h6.28v-6.43zM112.28 325.93v6.43h6.28v-6.43zM143.68 325.93v6.43h6.28v-6.43zM228.52 325.93v6.43h6.28v-6.43zM87.16 332.36v6.43h6.28v-6.43zM215.96 332.36v6.43h6.28v-6.43zM334.78 332.36v6.43h6.26v-6.43zM359.82 332.36v6.43h6.26v-6.43zM341.04 338.79v6.43h6.26v-6.43zM300.41 345.22v6.43h6.33v-6.43zM256.1 351.65v6.43h6.33v-6.43zM353.56 351.65v6.43h6.26v-6.43zM62.04 364.51v6.43h6.28v-6.43zM124.84 364.51v6.43h6.28v-6.43zM156.24 364.51v6.43h6.28v-6.43zM74.6 370.94v6.43h6.28v-6.43zM87.16 370.94v6.43h6.28v-6.43zM281.42 370.94v6.43h6.33v-6.43zM68.32 377.37v6.43h6.28v-6.43zM74.6 377.37v6.43h6.28v-6.43zM118.56 377.37v6.43h6.28v-6.43zM203.4 377.37v6.43h6.28v-6.43zM222.24 383.8v6.43h6.28v-6.43zM322.26 383.8v6.43h6.26v-6.43zM74.6 390.23v6.43h6.28v-6.43zM262.43 390.23v6.43h6.33v-6.43zM353.56 396.66v6.43h6.26v-6.43zM55.76 403.09v6.43h6.28v-6.43zM106 403.09v6.43h6.28v-6.43zM149.96 403.09v6.43h6.28v-6.43zM262.43 403.09v6.43h6.33v-6.43zM190.84 409.52v6.43h6.28v-6.43zM294.08 409.52v6.43h6.33v-6.43zM49.48 415.95v6.43h6.28v-6.43zM300.41 415.95v6.43h6.33v-6.43zM49.48 422.38v6.43h6.28v-6.43zM306.74 422.38v6.43h6.33v-6.43z"/><path fill="#d9eed5" shape-rendering="crispEdges" d="M99.72 255.2v6.43h6.28v-6.43zM178.28 255.2v6.43h6.28v-6.43zM190.84 255.2v6.43h6.28v-6.43zM247.36 255.2v6.43h6.28v-6.43zM306.74 255.2v6.43h6.33v-6.43zM184.56 261.63v6.43h6.28v-6.43zM366.08 261.63v6.43h6.26v-6.43zM222.24 274.49v6.43h6.28v-6.43zM241.08 274.49v6.43h6.28v-6.43zM262.43 274.49v6.43h6.33v-6.43zM268.76 280.92v6.43h6.33v-6.43zM372.34 280.92v6.43h6.26v-6.43zM241.08 287.35v6.43h6.28v-6.43zM87.16 293.78v6.43h6.28v-6.43zM93.44 293.78v6.43h6.28v-6.43zM281.42 293.78v6.43h6.33v-6.43zM316 293.78v6.43h6.26v-6.43zM341.04 293.78v6.43h6.26v-6.43zM197.12 300.21v6.43h6.28v-6.43zM228.52 300.21v6.43h6.28v-6.43zM275.09 300.21v6.43h6.33v-6.43zM49.48 306.64v6.43h6.28v-6.43zM87.16 306.64v6.43h6.28v-6.43zM366.08 306.64v6.43h6.26v-6.43zM87.16 313.07v6.43h6.28v-6.43zM131.12 313.07v6.43h6.28v-6.43zM112.28 319.5v6.43h6.28v-6.43zM190.84 319.5v6.43h6.28v-6.43zM197.12 325.93v6.43h6.28v-6.43zM262.43 325.93v6.43h6.33v-6.43zM322.26 325.93v6.43h6.26v-6.43zM93.44 332.36v6.43h6.28v-6.43zM55.76 338.79v6.43h6.28v-6.43zM93.44 338.79v6.43h6.28v-6.43zM203.4 338.79v6.43h6.28v-6.43zM203.4 345.22v6.43h6.28v-6.43zM275.09 351.65v6.43h6.33v-6.43zM262.43 364.51v6.43h6.33v-6.43zM334.78 364.51v6.43h6.26v-6.43zM131.12 370.94v6.43h6.28v-6.43zM228.52 370.94v6.43h6.28v-6.43zM156.24 377.37v6.43h6.28v-6.43zM49.48 383.8v6.43h6.28v-6.43zM131.12 383.8v6.43h6.28v-6.43zM190.84 383.8v6.43h6.28v-6.43zM372.34 383.8v6.43h6.26v-6.43zM137.4 390.23v6.43h6.28v-6.43zM197.12 390.23v6.43h6.28v-6.43zM306.74 390.23v6.43h6.33v-6.43zM366.08 390.23v6.43h6.26v-6.43zM359.82 396.66v6.43h6.26v-6.43zM118.56 403.09v6.43h6.28v-6.43zM137.4 403.09v6.43h6.28v-6.43zM118.56 409.52v6.43h6.28v-6.43zM149.96 409.52v6.43h6.28v-6.43zM287.75 409.52v6.43h6.33v-6.43zM184.56 415.95v6.43h6.28v-6.43zM222.24 415.95v6.43h6.28v-6.43zM43.2 422.38v6.43h6.28v-6.43z"/><path fill="#bce2b9" shape-rendering="crispEdges" d="M106 255.2v6.43h6.28v-6.43zM322.26 255.2v6.43h6.26v-6.43zM43.2 261.63v6.43h6.28v-6.43zM256.1 261.63v6.43h6.33v-6.43zM316 261.63v6.43h6.26v-6.43zM372.34 261.63v6.43h6.26v-6.43zM287.75 268.06v6.43h6.33v-6.43zM99.72 274.49v6.43h6.28v-6.43zM322.26 274.49v6.43h6.26v-6.43zM366.08 274.49v6.43h6.26v-6.43zM197.12 280.92v6.43h6.28v-6.43zM228.52 280.92v6.43h6.28v-6.43zM74.6 287.35v6.43h6.28v-6.43zM143.68 293.78v6.43h6.28v-6.43zM124.84 300.21v6.43h6.28v-6.43zM262.43 300.21v6.43h6.33v-6.43zM359.82 300.21v6.43h6.26v-6.43zM268.76 306.64v6.43h6.33v-6.43zM287.75 306.64v6.43h6.33v-6.43zM316 306.64v6.43h6.26v-6.43zM347.3 306.64v6.43h6.26v-6.43zM43.2 319.5v6.43h6.28v-6.43zM74.6 319.5v6.43h6.28v-6.43zM106 319.5v6.43h6.28v-6.43zM256.1 319.5v6.43h6.33v-6.43zM334.78 319.5v6.43h6.26v-6.43zM215.96 325.93v6.43h6.28v-6.43zM334.78 325.93v6.43h6.26v-6.43zM43.2 332.36v6.43h6.28v-6.43zM99.72 332.36v6.43h6.28v-6.43zM234.8 332.36v6.43h6.28v-6.43zM124.84 338.79v6.43h6.28v-6.43zM294.08 338.79v6.43h6.33v-6.43zM366.08 338.79v6.43h6.26v-6.43zM99.72 345.22v6.43h6.28v-6.43zM184.56 345.22v6.43h6.28v-6.43zM256.1 345.22v6.43h6.33v-6.43zM328.52 345.22v6.43h6.26v-6.43zM341.04 345.22v6.43h6.26v-6.43zM55.76 351.65v6.43h6.28v-6.43zM149.96 351.65v6.43h6.28v-6.43zM241.08 351.65v6.43h6.28v-6.43zM87.16 358.08v6.43h6.28v-6.43zM156.24 358.08v6.43h6.28v-6.43zM178.28 358.08v6.43h6.28v-6.43zM190.84 358.08v6.43h6.28v-6.43zM241.08 358.08v6.43h6.28v-6.43zM80.88 364.51v6.43h6.28v-6.43zM99.72 364.51v6.43h6.28v-6.43zM184.56 364.51v6.43h6.28v-6.43zM247.36 364.51v6.43h6.28v-6.43zM62.04 370.94v6.43h6.28v-6.43zM190.84 370.94v6.43h6.28v-6.43zM275.09 370.94v6.43h6.33v-6.43zM347.3 370.94v6.43h6.26v-6.43zM55.76 377.37v6.43h6.28v-6.43zM106 377.37v6.43h6.28v-6.43zM93.44 383.8v6.43h6.28v-6.43zM143.68 383.8v6.43h6.28v-6.43zM209.68 383.8v6.43h6.28v-6.43zM306.74 383.8v6.43h6.33v-6.43zM247.36 390.23v6.43h6.28v-6.43zM353.56 390.23v6.43h6.26v-6.43zM359.82 390.23v6.43h6.26v-6.43zM55.76 396.66v6.43h6.28v-6.43zM62.04 396.66v6.43h6.28v-6.43zM137.4 396.66v6.43h6.28v-6.43zM228.52 396.66v6.43h6.28v-6.43zM234.8 396.66v6.43h6.28v-6.43zM43.2 403.09v6.43h6.28v-6.43zM80.88 403.09v6.43h6.28v-6.43zM87.16 403.09v6.43h6.28v-6.43zM228.52 403.09v6.43h6.28v-6.43zM328.52 403.09v6.43h6.26v-6.43zM203.4 409.52v6.43h6.28v-6.43zM328.52 409.52v6.43h6.26v-6.43zM372.34 409.52v6.43h6.26v-6.43zM93.44 415.95v6.43h6.28v-6.43zM137.4 415.95v6.43h6.28v-6.43zM203.4 415.95v6.43h6.28v-6.43zM241.08 415.95v6.43h6.28v-6.43zM99.72 422.38v6.43h6.28v-6.43zM124.84 422.38v6.43h6.28v-6.43zM131.12 422.38v6.43h6.28v-6.43zM234.8 422.38v6.43h6.28v-6.43zM281.42 422.38v6.43h6.33v-6.43zM353.56 422.38v6.43h6.26v-6.43z"/><path fill="#d2ebce" shape-rendering="crispEdges" d="M112.28 255.2v6.43h6.28v-6.43zM241.08 255.2v6.43h6.28v-6.43zM74.6 261.63v6.43h6.28v-6.43zM203.4 261.63v6.43h6.28v-6.43zM294.08 261.63v6.43h6.33v-6.43zM300.41 261.63v6.43h6.33v-6.43zM106 268.06v6.43h6.28v-6.43zM353.56 268.06v6.43h6.26v-6.43zM341.04 274.49v6.43h6.26v-6.43zM347.3 274.49v6.43h6.26v-6.43zM43.2 280.92v6.43h6.28v-6.43zM156.24 280.92v6.43h6.28v-6.43zM162.52 280.92v6.43h6.28v-6.43zM178.28 280.92v6.43h6.28v-6.43zM93.44 287.35v6.43h6.28v-6.43zM149.96 293.78v6.43h6.28v-6.43zM268.76 293.78v6.43h6.33v-6.43zM353.56 293.78v6.43h6.26v-6.43zM359.82 293.78v6.43h6.26v-6.43zM234.8 300.21v6.43h6.28v-6.43zM372.34 300.21v6.43h6.26v-6.43zM234.8 313.07v6.43h6.28v-6.43zM328.52 313.07v6.43h6.26v-6.43zM156.24 319.5v6.43h6.28v-6.43zM294.08 319.5v6.43h6.33v-6.43zM316 319.5v6.43h6.26v-6.43zM68.32 325.93v6.43h6.28v-6.43zM275.09 325.93v6.43h6.33v-6.43zM372.34 325.93v6.43h6.26v-6.43zM162.52 332.36v6.43h6.28v-6.43zM268.76 338.79v6.43h6.33v-6.43zM353.56 338.79v6.43h6.26v-6.43zM43.2 345.22v6.43h6.28v-6.43zM156.24 345.22v6.43h6.28v-6.43zM162.52 351.65v6.43h6.28v-6.43zM316 351.65v6.43h6.26v-6.43zM143.68 358.08v6.43h6.28v-6.43zM209.68 358.08v6.43h6.28v-6.43zM268.76 358.08v6.43h6.33v-6.43zM68.32 364.51v6.43h6.28v-6.43zM149.96 364.51v6.43h6.28v-6.43zM241.08 364.51v6.43h6.28v-6.43zM93.44 370.94v6.43h6.28v-6.43zM156.24 370.94v6.43h6.28v-6.43zM316 370.94v6.43h6.26v-6.43zM124.84 377.37v6.43h6.28v-6.43zM137.4 377.37v6.43h6.28v-6.43zM143.68 377.37v6.43h6.28v-6.43zM328.52 377.37v6.43h6.26v-6.43zM353.56 377.37v6.43h6.26v-6.43zM328.52 383.8v6.43h6.26v-6.43zM87.16 390.23v6.43h6.28v-6.43zM215.96 390.23v6.43h6.28v-6.43zM281.42 396.66v6.43h6.33v-6.43zM62.04 403.09v6.43h6.28v-6.43zM74.6 403.09v6.43h6.28v-6.43zM99.72 403.09v6.43h6.28v-6.43zM316 403.09v6.43h6.26v-6.43zM156.24 409.52v6.43h6.28v-6.43zM184.56 409.52v6.43h6.28v-6.43zM268.76 415.95v6.43h6.33v-6.43zM316 415.95v6.43h6.26v-6.43zM359.82 415.95v6.43h6.26v-6.43zM55.76 422.38v6.43h6.28v-6.43zM328.52 422.38v6.43h6.26v-6.43zM372.34 422.38v6.43h6.26v-6.43z"/><path fill="#dcf0d8" shape-rendering="crispEdges" d="M118.56 255.2v6.43h6.28v-6.43zM43.2 274.49v6.43h6.28v-6.43zM55.76 274.49v6.43h6.28v-6.43zM353.56 274.49v6.43h6.26v-6.43zM241.08 280.92v6.43h6.28v-6.43zM256.1 280.92v6.43h6.33v-6.43zM262.43 280.92v6.43h6.33v-6.43zM328.52 280.92v6.43h6.26v-6.43zM43.2 287.35v6.43h6.28v-6.43zM68.32 287.35v6.43h6.28v-6.43zM178.28 287.35v6.43h6.28v-6.43zM215.96 287.35v6.43h6.28v-6.43zM62.04 300.21v6.43h6.28v-6.43zM99.72 300.21v6.43h6.28v-6.43zM55.76 306.64v6.43h6.28v-6.43zM62.04 306.64v6.43h6.28v-6.43zM80.88 306.64v6.43h6.28v-6.43zM149.96 306.64v6.43h6.28v-6.43zM203.4 306.64v6.43h6.28v-6.43zM234.8 306.64v6.43h6.28v-6.43zM241.08 306.64v6.43h6.28v-6.43zM275.09 306.64v6.43h6.33v-6.43zM197.12 313.07v6.43h6.28v-6.43zM294.08 313.07v6.43h6.33v-6.43zM99.72 319.5v6.43h6.28v-6.43zM328.52 319.5v6.43h6.26v-6.43zM294.08 325.93v6.43h6.33v-6.43zM209.68 338.79v6.43h6.28v-6.43zM322.26 338.79v6.43h6.26v-6.43zM87.16 345.22v6.43h6.28v-6.43zM131.12 351.65v6.43h6.28v-6.43zM43.2 364.51v6.43h6.28v-6.43zM268.76 364.51v6.43h6.33v-6.43zM275.09 364.51v6.43h6.33v-6.43zM49.48 377.37v6.43h6.28v-6.43zM268.76 377.37v6.43h6.33v-6.43zM306.74 377.37v6.43h6.33v-6.43zM124.84 383.8v6.43h6.28v-6.43zM294.08 383.8v6.43h6.33v-6.43zM49.48 390.23v6.43h6.28v-6.43zM80.88 390.23v6.43h6.28v-6.43zM172 390.23v6.43h6.28v-6.43zM156.24 396.66v6.43h6.28v-6.43zM172 396.66v6.43h6.28v-6.43zM156.24 403.09v6.43h6.28v-6.43zM162.52 409.52v6.43h6.28v-6.43zM209.68 409.52v6.43h6.28v-6.43zM222.24 409.52v6.43h6.28v-6.43zM316 409.52v6.43h6.26v-6.43zM87.16 415.95v6.43h6.28v-6.43zM99.72 415.95v6.43h6.28v-6.43zM178.28 415.95v6.43h6.28v-6.43zM215.96 415.95v6.43h6.28v-6.43zM184.56 422.38v6.43h6.28v-6.43zM247.36 422.38v6.43h6.28v-6.43zM287.75 422.38v6.43h6.33v-6.43zM294.08 422.38v6.43h6.33v-6.43z"/><path fill="#e8f5e5" shape-rendering="crispEdges" d="M131.12 255.2v6.43h6.28v-6.43zM328.52 261.63v6.43h6.26v-6.43zM256.1 274.49v6.43h6.33v-6.43zM275.09 274.49v6.43h6.33v-6.43zM316 274.49v6.43h6.26v-6.43zM190.84 280.92v6.43h6.28v-6.43zM215.96 280.92v6.43h6.28v-6.43zM306.74 287.35v6.43h6.33v-6.43zM49.48 293.78v6.43h6.28v-6.43zM156.24 293.78v6.43h6.28v-6.43zM156.24 300.21v6.43h6.28v-6.43zM112.28 306.64v6.43h6.28v-6.43zM131.12 319.5v6.43h6.28v-6.43zM372.34 319.5v6.43h6.26v-6.43zM149.96 325.93v6.43h6.28v-6.43zM275.09 332.36v6.43h6.33v-6.43zM281.42 332.36v6.43h6.33v-6.43zM300.41 332.36v6.43h6.33v-6.43zM300.41 338.79v6.43h6.33v-6.43zM197.12 345.22v6.43h6.28v-6.43zM306.74 351.65v6.43h6.33v-6.43zM222.24 358.08v6.43h6.28v-6.43zM234.8 358.08v6.43h6.28v-6.43zM112.28 364.51v6.43h6.28v-6.43zM294.08 364.51v6.43h6.33v-6.43zM106 370.94v6.43h6.28v-6.43zM247.36 370.94v6.43h6.28v-6.43zM87.16 377.37v6.43h6.28v-6.43zM149.96 377.37v6.43h6.28v-6.43zM366.08 377.37v6.43h6.26v-6.43zM87.16 396.66v6.43h6.28v-6.43zM268.76 409.52v6.43h6.33v-6.43z"/><path fill="#d6edd2" shape-rendering="crispEdges" d="M137.4 255.2v6.43h6.28v-6.43zM156.24 255.2v6.43h6.28v-6.43zM197.12 255.2v6.43h6.28v-6.43zM203.4 255.2v6.43h6.28v-6.43zM268.76 255.2v6.43h6.33v-6.43zM316 255.2v6.43h6.26v-6.43zM341.04 255.2v6.43h6.26v-6.43zM366.08 255.2v6.43h6.26v-6.43zM55.76 261.63v6.43h6.28v-6.43zM222.24 268.06v6.43h6.28v-6.43zM178.28 274.49v6.43h6.28v-6.43zM215.96 274.49v6.43h6.28v-6.43zM222.24 280.92v6.43h6.28v-6.43zM300.41 280.92v6.43h6.33v-6.43zM306.74 280.92v6.43h6.33v-6.43zM49.48 287.35v6.43h6.28v-6.43zM156.24 287.35v6.43h6.28v-6.43zM275.09 287.35v6.43h6.33v-6.43zM43.2 293.78v6.43h6.28v-6.43zM118.56 293.78v6.43h6.28v-6.43zM131.12 293.78v6.43h6.28v-6.43zM203.4 293.78v6.43h6.28v-6.43zM74.6 300.21v6.43h6.28v-6.43zM112.28 300.21v6.43h6.28v-6.43zM162.52 300.21v6.43h6.28v-6.43zM281.42 300.21v6.43h6.33v-6.43zM347.3 300.21v6.43h6.26v-6.43zM93.44 306.64v6.43h6.28v-6.43zM247.36 306.64v6.43h6.28v-6.43zM294.08 306.64v6.43h6.33v-6.43zM68.32 313.07v6.43h6.28v-6.43zM172 319.5v6.43h6.28v-6.43zM203.4 325.93v6.43h6.28v-6.43zM256.1 325.93v6.43h6.33v-6.43zM366.08 325.93v6.43h6.26v-6.43zM124.84 332.36v6.43h6.28v-6.43zM143.68 332.36v6.43h6.28v-6.43zM184.56 332.36v6.43h6.28v-6.43zM241.08 332.36v6.43h6.28v-6.43zM74.6 338.79v6.43h6.28v-6.43zM162.52 338.79v6.43h6.28v-6.43zM178.28 338.79v6.43h6.28v-6.43zM256.1 338.79v6.43h6.33v-6.43zM287.75 338.79v6.43h6.33v-6.43zM328.52 338.79v6.43h6.26v-6.43zM372.34 338.79v6.43h6.26v-6.43zM149.96 345.22v6.43h6.28v-6.43zM203.4 358.08v6.43h6.28v-6.43zM74.6 364.51v6.43h6.28v-6.43zM143.68 364.51v6.43h6.28v-6.43zM62.04 377.37v6.43h6.28v-6.43zM131.12 377.37v6.43h6.28v-6.43zM162.52 377.37v6.43h6.28v-6.43zM256.1 377.37v6.43h6.33v-6.43zM43.2 383.8v6.43h6.28v-6.43zM118.56 390.23v6.43h6.28v-6.43zM143.68 390.23v6.43h6.28v-6.43zM241.08 390.23v6.43h6.28v-6.43zM281.42 390.23v6.43h6.33v-6.43zM316 390.23v6.43h6.26v-6.43zM215.96 396.66v6.43h6.28v-6.43zM316 396.66v6.43h6.26v-6.43zM131.12 403.09v6.43h6.28v-6.43zM256.1 403.09v6.43h6.33v-6.43zM281.42 403.09v6.43h6.33v-6.43zM131.12 409.52v6.43h6.28v-6.43zM300.41 409.52v6.43h6.33v-6.43zM366.08 409.52v6.43h6.26v-6.43zM262.43 415.95v6.43h6.33v-6.43zM322.26 415.95v6.43h6.26v-6.43zM328.52 415.95v6.43h6.26v-6.43zM112.28 422.38v6.43h6.28v-6.43zM143.68 422.38v6.43h6.28v-6.43zM156.24 422.38v6.43h6.28v-6.43zM300.41 422.38v6.43h6.33v-6.43z"/><path fill="#c9e8c5" shape-rendering="crispEdges" d="M149.96 255.2v6.43h6.28v-6.43zM172 255.2v6.43h6.28v-6.43zM215.96 255.2v6.43h6.28v-6.43zM359.82 255.2v6.43h6.26v-6.43zM87.16 261.63v6.43h6.28v-6.43zM93.44 261.63v6.43h6.28v-6.43zM137.4 261.63v6.43h6.28v-6.43zM178.28 268.06v6.43h6.28v-6.43zM268.76 268.06v6.43h6.33v-6.43zM74.6 274.49v6.43h6.28v-6.43zM80.88 274.49v6.43h6.28v-6.43zM306.74 274.49v6.43h6.33v-6.43zM55.76 280.92v6.43h6.28v-6.43zM112.28 280.92v6.43h6.28v-6.43zM275.09 280.92v6.43h6.33v-6.43zM281.42 280.92v6.43h6.33v-6.43zM149.96 287.35v6.43h6.28v-6.43zM234.8 287.35v6.43h6.28v-6.43zM300.41 287.35v6.43h6.33v-6.43zM178.28 293.78v6.43h6.28v-6.43zM184.56 300.21v6.43h6.28v-6.43zM209.68 300.21v6.43h6.28v-6.43zM353.56 300.21v6.43h6.26v-6.43zM68.32 306.64v6.43h6.28v-6.43zM184.56 306.64v6.43h6.28v-6.43zM209.68 306.64v6.43h6.28v-6.43zM215.96 306.64v6.43h6.28v-6.43zM256.1 306.64v6.43h6.33v-6.43zM300.41 306.64v6.43h6.33v-6.43zM316 313.07v6.43h6.26v-6.43zM247.36 319.5v6.43h6.28v-6.43zM275.09 319.5v6.43h6.33v-6.43zM366.08 319.5v6.43h6.26v-6.43zM162.52 325.93v6.43h6.28v-6.43zM131.12 332.36v6.43h6.28v-6.43zM294.08 332.36v6.43h6.33v-6.43zM184.56 338.79v6.43h6.28v-6.43zM281.42 338.79v6.43h6.33v-6.43zM80.88 345.22v6.43h6.28v-6.43zM190.84 345.22v6.43h6.28v-6.43zM203.4 351.65v6.43h6.28v-6.43zM222.24 351.65v6.43h6.28v-6.43zM294.08 351.65v6.43h6.33v-6.43zM93.44 358.08v6.43h6.28v-6.43zM106 358.08v6.43h6.28v-6.43zM124.84 358.08v6.43h6.28v-6.43zM149.96 358.08v6.43h6.28v-6.43zM215.96 358.08v6.43h6.28v-6.43zM328.52 358.08v6.43h6.26v-6.43zM372.34 358.08v6.43h6.26v-6.43zM118.56 364.51v6.43h6.28v-6.43zM300.41 364.51v6.43h6.33v-6.43zM359.82 364.51v6.43h6.26v-6.43zM328.52 370.94v6.43h6.26v-6.43zM366.08 370.94v6.43h6.26v-6.43zM99.72 377.37v6.43h6.28v-6.43zM262.43 377.37v6.43h6.33v-6.43zM275.09 377.37v6.43h6.33v-6.43zM281.42 377.37v6.43h6.33v-6.43zM287.75 377.37v6.43h6.33v-6.43zM68.32 390.23v6.43h6.28v-6.43zM124.84 390.23v6.43h6.28v-6.43zM131.12 390.23v6.43h6.28v-6.43zM118.56 396.66v6.43h6.28v-6.43zM262.43 396.66v6.43h6.33v-6.43zM372.34 396.66v6.43h6.26v-6.43zM143.68 403.09v6.43h6.28v-6.43zM268.76 403.09v6.43h6.33v-6.43zM275.09 403.09v6.43h6.33v-6.43zM322.26 403.09v6.43h6.26v-6.43zM62.04 409.52v6.43h6.28v-6.43zM112.28 409.52v6.43h6.28v-6.43zM43.2 415.95v6.43h6.28v-6.43zM68.32 415.95v6.43h6.28v-6.43zM74.6 415.95v6.43h6.28v-6.43zM118.56 415.95v6.43h6.28v-6.43zM124.84 415.95v6.43h6.28v-6.43zM143.68 415.95v6.43h6.28v-6.43zM80.88 422.38v6.43h6.28v-6.43zM366.08 422.38v6.43h6.26v-6.43z"/><path fill="#85c98b" shape-rendering="crispEdges" d="M162.52 255.2v6.43h6.28v-6.43zM256.1 255.2v6.43h6.33v-6.43zM281.42 255.2v6.43h6.33v-6.43zM149.96 261.63v6.43h6.28v-6.43zM234.8 261.63v6.43h6.28v-6.43zM49.48 274.49v6.43h6.28v-6.43zM172 274.49v6.43h6.28v-6.43zM247.36 280.92v6.43h6.28v-6.43zM162.52 287.35v6.43h6.28v-6.43zM247.36 293.78v6.43h6.28v-6.43zM341.04 306.64v6.43h6.26v-6.43zM55.76 332.36v6.43h6.28v-6.43zM68.32 351.65v6.43h6.28v-6.43zM162.52 358.08v6.43h6.28v-6.43zM322.26 358.08v6.43h6.26v-6.43zM162.52 364.51v6.43h6.28v-6.43zM334.78 377.37v6.43h6.26v-6.43zM87.16 383.8v6.43h6.28v-6.43zM106 390.23v6.43h6.28v-6.43zM43.2 396.66v6.43h6.28v-6.43z"/><path fill="#8acc8f" shape-rendering="crispEdges" d="M209.68 255.2v6.43h6.28v-6.43zM234.8 255.2v6.43h6.28v-6.43zM172 261.63v6.43h6.28v-6.43zM68.32 268.06v6.43h6.28v-6.43zM241.08 268.06v6.43h6.28v-6.43zM99.72 280.92v6.43h6.28v-6.43zM366.08 280.92v6.43h6.26v-6.43zM322.26 293.78v6.43h6.26v-6.43zM197.12 338.79v6.43h6.28v-6.43zM49.48 396.66v6.43h6.28v-6.43zM43.2 409.52v6.43h6.28v-6.43zM143.68 409.52v6.43h6.28v-6.43z"/><path fill="#b8e0b5" shape-rendering="crispEdges" d="M228.52 255.2v6.43h6.28v-6.43zM275.09 255.2v6.43h6.33v-6.43zM300.41 255.2v6.43h6.33v-6.43zM156.24 261.63v6.43h6.28v-6.43zM222.24 261.63v6.43h6.28v-6.43zM306.74 261.63v6.43h6.33v-6.43zM300.41 274.49v6.43h6.33v-6.43zM49.48 280.92v6.43h6.28v-6.43zM209.68 280.92v6.43h6.28v-6.43zM190.84 287.35v6.43h6.28v-6.43zM334.78 287.35v6.43h6.26v-6.43zM372.34 287.35v6.43h6.26v-6.43zM74.6 293.78v6.43h6.28v-6.43zM372.34 293.78v6.43h6.26v-6.43zM137.4 313.07v6.43h6.28v-6.43zM178.28 313.07v6.43h6.28v-6.43zM228.52 313.07v6.43h6.28v-6.43zM197.12 319.5v6.43h6.28v-6.43zM203.4 319.5v6.43h6.28v-6.43zM268.76 319.5v6.43h6.33v-6.43zM49.48 325.93v6.43h6.28v-6.43zM106 325.93v6.43h6.28v-6.43zM172 325.93v6.43h6.28v-6.43zM178.28 325.93v6.43h6.28v-6.43zM300.41 325.93v6.43h6.33v-6.43zM306.74 325.93v6.43h6.33v-6.43zM149.96 332.36v6.43h6.28v-6.43zM197.12 332.36v6.43h6.28v-6.43zM209.68 332.36v6.43h6.28v-6.43zM341.04 332.36v6.43h6.26v-6.43zM247.36 338.79v6.43h6.28v-6.43zM137.4 345.22v6.43h6.28v-6.43zM172 345.22v6.43h6.28v-6.43zM215.96 345.22v6.43h6.28v-6.43zM316 345.22v6.43h6.26v-6.43zM106 351.65v6.43h6.28v-6.43zM281.42 351.65v6.43h6.33v-6.43zM49.48 358.08v6.43h6.28v-6.43zM372.34 364.51v6.43h6.26v-6.43zM162.52 370.94v6.43h6.28v-6.43zM234.8 370.94v6.43h6.28v-6.43zM190.84 377.37v6.43h6.28v-6.43zM241.08 377.37v6.43h6.28v-6.43zM322.26 377.37v6.43h6.26v-6.43zM372.34 377.37v6.43h6.26v-6.43zM99.72 383.8v6.43h6.28v-6.43zM184.56 383.8v6.43h6.28v-6.43zM359.82 383.8v6.43h6.26v-6.43zM62.04 390.23v6.43h6.28v-6.43zM74.6 396.66v6.43h6.28v-6.43zM55.76 409.52v6.43h6.28v-6.43zM87.16 409.52v6.43h6.28v-6.43zM93.44 409.52v6.43h6.28v-6.43zM178.28 409.52v6.43h6.28v-6.43zM306.74 409.52v6.43h6.33v-6.43zM55.76 415.95v6.43h6.28v-6.43zM74.6 422.38v6.43h6.28v-6.43zM149.96 422.38v6.43h6.28v-6.43zM203.4 422.38v6.43h6.28v-6.43zM209.68 422.38v6.43h6.28v-6.43z"/><path fill="#ebf6e8" shape-rendering="crispEdges" d="M262.43 255.2v6.43h6.33v-6.43zM268.76 261.63v6.43h6.33v-6.43zM334.78 268.06v6.43h6.26v-6.43zM112.28 274.49v6.43h6.28v-6.43zM228.52 274.49v6.43h6.28v-6.43zM316 280.92v6.43h6.26v-6.43zM228.52 293.78v6.43h6.28v-6.43zM55.76 300.21v6.43h6.28v-6.43zM241.08 300.21v6.43h6.28v-6.43zM372.34 306.64v6.43h6.26v-6.43zM55.76 325.93v6.43h6.28v-6.43zM62.04 338.79v6.43h6.28v-6.43zM131.12 338.79v6.43h6.28v-6.43zM190.84 338.79v6.43h6.28v-6.43zM228.52 338.79v6.43h6.28v-6.43zM62.04 345.22v6.43h6.28v-6.43zM241.08 345.22v6.43h6.28v-6.43zM287.75 345.22v6.43h6.33v-6.43zM62.04 351.65v6.43h6.28v-6.43zM137.4 351.65v6.43h6.28v-6.43zM209.68 377.37v6.43h6.28v-6.43zM80.88 396.66v6.43h6.28v-6.43zM256.1 396.66v6.43h6.33v-6.43zM209.68 403.09v6.43h6.28v-6.43zM222.24 403.09v6.43h6.28v-6.43zM275.09 422.38v6.43h6.33v-6.43z"/><path fill="#e2f2df" shape-rendering="crispEdges" d="M287.75 255.2v6.43h6.33v-6.43zM49.48 261.63v6.43h6.28v-6.43zM178.28 261.63v6.43h6.28v-6.43zM341.04 268.06v6.43h6.26v-6.43zM62.04 274.49v6.43h6.28v-6.43zM287.75 274.49v6.43h6.33v-6.43zM68.32 280.92v6.43h6.28v-6.43zM80.88 280.92v6.43h6.28v-6.43zM203.4 280.92v6.43h6.28v-6.43zM234.8 280.92v6.43h6.28v-6.43zM124.84 293.78v6.43h6.28v-6.43zM93.44 300.21v6.43h6.28v-6.43zM124.84 306.64v6.43h6.28v-6.43zM137.4 306.64v6.43h6.28v-6.43zM162.52 306.64v6.43h6.28v-6.43zM55.76 319.5v6.43h6.28v-6.43zM143.68 319.5v6.43h6.28v-6.43zM241.08 325.93v6.43h6.28v-6.43zM281.42 325.93v6.43h6.33v-6.43zM328.52 325.93v6.43h6.26v-6.43zM49.48 332.36v6.43h6.28v-6.43zM203.4 332.36v6.43h6.28v-6.43zM359.82 338.79v6.43h6.26v-6.43zM124.84 345.22v6.43h6.28v-6.43zM322.26 345.22v6.43h6.26v-6.43zM156.24 351.65v6.43h6.28v-6.43zM184.56 351.65v6.43h6.28v-6.43zM247.36 351.65v6.43h6.28v-6.43zM334.78 351.65v6.43h6.26v-6.43zM112.28 358.08v6.43h6.28v-6.43zM131.12 358.08v6.43h6.28v-6.43zM366.08 364.51v6.43h6.26v-6.43zM197.12 370.94v6.43h6.28v-6.43zM112.28 377.37v6.43h6.28v-6.43zM228.52 377.37v6.43h6.28v-6.43zM197.12 383.8v6.43h6.28v-6.43zM203.4 383.8v6.43h6.28v-6.43zM275.09 383.8v6.43h6.33v-6.43zM334.78 383.8v6.43h6.26v-6.43zM112.28 390.23v6.43h6.28v-6.43zM222.24 390.23v6.43h6.28v-6.43zM300.41 390.23v6.43h6.33v-6.43zM247.36 396.66v6.43h6.28v-6.43zM203.4 403.09v6.43h6.28v-6.43zM215.96 403.09v6.43h6.28v-6.43zM287.75 403.09v6.43h6.33v-6.43zM359.82 403.09v6.43h6.26v-6.43zM256.1 409.52v6.43h6.33v-6.43zM281.42 409.52v6.43h6.33v-6.43zM162.52 415.95v6.43h6.28v-6.43zM197.12 415.95v6.43h6.28v-6.43zM281.42 415.95v6.43h6.33v-6.43zM162.52 422.38v6.43h6.28v-6.43zM241.08 422.38v6.43h6.28v-6.43zM268.76 422.38v6.43h6.33v-6.43z"/><path fill="#c0e4bd" shape-rendering="crispEdges" d="M334.78 255.2v6.43h6.26v-6.43zM131.12 261.63v6.43h6.28v-6.43zM322.26 261.63v6.43h6.26v-6.43zM347.3 261.63v6.43h6.26v-6.43zM93.44 268.06v6.43h6.28v-6.43zM247.36 274.49v6.43h6.28v-6.43zM328.52 274.49v6.43h6.26v-6.43zM62.04 280.92v6.43h6.28v-6.43zM124.84 287.35v6.43h6.28v-6.43zM131.12 287.35v6.43h6.28v-6.43zM80.88 293.78v6.43h6.28v-6.43zM222.24 293.78v6.43h6.28v-6.43zM241.08 293.78v6.43h6.28v-6.43zM275.09 293.78v6.43h6.33v-6.43zM347.3 293.78v6.43h6.26v-6.43zM43.2 300.21v6.43h6.28v-6.43zM68.32 300.21v6.43h6.28v-6.43zM87.16 300.21v6.43h6.28v-6.43zM268.76 300.21v6.43h6.33v-6.43zM99.72 306.64v6.43h6.28v-6.43zM118.56 306.64v6.43h6.28v-6.43zM190.84 306.64v6.43h6.28v-6.43zM228.52 306.64v6.43h6.28v-6.43zM262.43 306.64v6.43h6.33v-6.43zM172 313.07v6.43h6.28v-6.43zM300.41 313.07v6.43h6.33v-6.43zM184.56 319.5v6.43h6.28v-6.43zM222.24 319.5v6.43h6.28v-6.43zM234.8 319.5v6.43h6.28v-6.43zM241.08 319.5v6.43h6.28v-6.43zM281.42 319.5v6.43h6.33v-6.43zM300.41 319.5v6.43h6.33v-6.43zM322.26 319.5v6.43h6.26v-6.43zM347.3 319.5v6.43h6.26v-6.43zM99.72 325.93v6.43h6.28v-6.43zM137.4 325.93v6.43h6.28v-6.43zM156.24 325.93v6.43h6.28v-6.43zM341.04 325.93v6.43h6.26v-6.43zM190.84 332.36v6.43h6.28v-6.43zM247.36 332.36v6.43h6.28v-6.43zM316 332.36v6.43h6.26v-6.43zM112.28 338.79v6.43h6.28v-6.43zM234.8 338.79v6.43h6.28v-6.43zM334.78 338.79v6.43h6.26v-6.43zM209.68 345.22v6.43h6.28v-6.43zM334.78 345.22v6.43h6.26v-6.43zM93.44 351.65v6.43h6.28v-6.43zM99.72 351.65v6.43h6.28v-6.43zM112.28 351.65v6.43h6.28v-6.43zM209.68 351.65v6.43h6.28v-6.43zM372.34 351.65v6.43h6.26v-6.43zM137.4 358.08v6.43h6.28v-6.43zM281.42 358.08v6.43h6.33v-6.43zM49.48 364.51v6.43h6.28v-6.43zM93.44 377.37v6.43h6.28v-6.43zM197.12 377.37v6.43h6.28v-6.43zM215.96 377.37v6.43h6.28v-6.43zM247.36 377.37v6.43h6.28v-6.43zM316 377.37v6.43h6.26v-6.43zM359.82 377.37v6.43h6.26v-6.43zM316 383.8v6.43h6.26v-6.43zM347.3 383.8v6.43h6.26v-6.43zM178.28 390.23v6.43h6.28v-6.43zM203.4 390.23v6.43h6.28v-6.43zM268.76 390.23v6.43h6.33v-6.43zM209.68 396.66v6.43h6.28v-6.43zM190.84 403.09v6.43h6.28v-6.43zM241.08 403.09v6.43h6.28v-6.43zM247.36 403.09v6.43h6.28v-6.43zM294.08 403.09v6.43h6.33v-6.43zM300.41 403.09v6.43h6.33v-6.43zM49.48 409.52v6.43h6.28v-6.43zM74.6 409.52v6.43h6.28v-6.43zM99.72 409.52v6.43h6.28v-6.43zM137.4 409.52v6.43h6.28v-6.43zM247.36 409.52v6.43h6.28v-6.43zM106 415.95v6.43h6.28v-6.43zM156.24 415.95v6.43h6.28v-6.43zM209.68 415.95v6.43h6.28v-6.43zM247.36 415.95v6.43h6.28v-6.43zM341.04 415.95v6.43h6.26v-6.43zM215.96 422.38v6.43h6.28v-6.43z"/><path fill="#9dd49d" shape-rendering="crispEdges" d="M353.56 255.2v6.43h6.26v-6.43zM87.16 274.49v6.43h6.28v-6.43zM149.96 274.49v6.43h6.28v-6.43zM334.78 274.49v6.43h6.26v-6.43zM118.56 300.21v6.43h6.28v-6.43zM341.04 300.21v6.43h6.26v-6.43zM74.6 313.07v6.43h6.28v-6.43zM124.84 313.07v6.43h6.28v-6.43zM209.68 319.5v6.43h6.28v-6.43zM341.04 319.5v6.43h6.26v-6.43zM184.56 325.93v6.43h6.28v-6.43zM306.74 345.22v6.43h6.33v-6.43zM359.82 351.65v6.43h6.26v-6.43zM74.6 358.08v6.43h6.28v-6.43zM197.12 358.08v6.43h6.28v-6.43zM347.3 358.08v6.43h6.26v-6.43zM234.8 364.51v6.43h6.28v-6.43zM341.04 390.23v6.43h6.26v-6.43zM131.12 396.66v6.43h6.28v-6.43zM347.3 396.66v6.43h6.26v-6.43zM341.04 403.09v6.43h6.26v-6.43zM124.84 409.52v6.43h6.28v-6.43zM234.8 409.52v6.43h6.28v-6.43zM341.04 409.52v6.43h6.26v-6.43zM256.1 415.95v6.43h6.33v-6.43z"/><path fill="#94d096" shape-rendering="crispEdges" d="M106 261.63v6.43h6.28v-6.43zM353.56 287.35v6.43h6.26v-6.43zM99.72 293.78v6.43h6.28v-6.43zM106 293.78v6.43h6.28v-6.43zM215.96 293.78v6.43h6.28v-6.43zM359.82 306.64v6.43h6.26v-6.43zM281.42 345.22v6.43h6.33v-6.43zM322.26 370.94v6.43h6.26v-6.43zM228.52 415.95v6.43h6.28v-6.43zM294.08 415.95v6.43h6.33v-6.43z"/><path fill="#dff1dc" shape-rendering="crispEdges" d="M118.56 261.63v6.43h6.28v-6.43zM287.75 261.63v6.43h6.33v-6.43zM209.68 268.06v6.43h6.28v-6.43zM328.52 268.06v6.43h6.26v-6.43zM118.56 274.49v6.43h6.28v-6.43zM268.76 274.49v6.43h6.33v-6.43zM87.16 280.92v6.43h6.28v-6.43zM172 280.92v6.43h6.28v-6.43zM118.56 287.35v6.43h6.28v-6.43zM222.24 287.35v6.43h6.28v-6.43zM256.1 287.35v6.43h6.33v-6.43zM262.43 287.35v6.43h6.33v-6.43zM287.75 287.35v6.43h6.33v-6.43zM347.3 287.35v6.43h6.26v-6.43zM172 293.78v6.43h6.28v-6.43zM80.88 300.21v6.43h6.28v-6.43zM294.08 300.21v6.43h6.33v-6.43zM300.41 300.21v6.43h6.33v-6.43zM143.68 313.07v6.43h6.28v-6.43zM203.4 313.07v6.43h6.28v-6.43zM256.1 313.07v6.43h6.33v-6.43zM262.43 313.07v6.43h6.33v-6.43zM228.52 319.5v6.43h6.28v-6.43zM359.82 319.5v6.43h6.26v-6.43zM209.68 325.93v6.43h6.28v-6.43zM118.56 332.36v6.43h6.28v-6.43zM262.43 332.36v6.43h6.33v-6.43zM80.88 338.79v6.43h6.28v-6.43zM137.4 338.79v6.43h6.28v-6.43zM149.96 338.79v6.43h6.28v-6.43zM228.52 345.22v6.43h6.28v-6.43zM275.09 345.22v6.43h6.33v-6.43zM118.56 351.65v6.43h6.28v-6.43zM256.1 358.08v6.43h6.33v-6.43zM55.76 364.51v6.43h6.28v-6.43zM118.56 370.94v6.43h6.28v-6.43zM149.96 370.94v6.43h6.28v-6.43zM137.4 383.8v6.43h6.28v-6.43zM228.52 383.8v6.43h6.28v-6.43zM190.84 390.23v6.43h6.28v-6.43zM178.28 396.66v6.43h6.28v-6.43zM222.24 396.66v6.43h6.28v-6.43zM322.26 396.66v6.43h6.26v-6.43zM124.84 403.09v6.43h6.28v-6.43zM184.56 403.09v6.43h6.28v-6.43zM172 409.52v6.43h6.28v-6.43zM262.43 409.52v6.43h6.33v-6.43zM287.75 415.95v6.43h6.33v-6.43zM306.74 415.95v6.43h6.33v-6.43z"/><path fill="#afddac" shape-rendering="crispEdges" d="M124.84 261.63v6.43h6.28v-6.43zM197.12 274.49v6.43h6.28v-6.43zM353.56 280.92v6.43h6.26v-6.43zM112.28 287.35v6.43h6.28v-6.43zM341.04 287.35v6.43h6.26v-6.43zM106 300.21v6.43h6.28v-6.43zM215.96 300.21v6.43h6.28v-6.43zM74.6 306.64v6.43h6.28v-6.43zM197.12 306.64v6.43h6.28v-6.43zM287.75 313.07v6.43h6.33v-6.43zM80.88 319.5v6.43h6.28v-6.43zM149.96 319.5v6.43h6.28v-6.43zM215.96 319.5v6.43h6.28v-6.43zM316 325.93v6.43h6.26v-6.43zM62.04 332.36v6.43h6.28v-6.43zM228.52 332.36v6.43h6.28v-6.43zM322.26 332.36v6.43h6.26v-6.43zM43.2 338.79v6.43h6.28v-6.43zM347.3 338.79v6.43h6.26v-6.43zM143.68 351.65v6.43h6.28v-6.43zM178.28 351.65v6.43h6.28v-6.43zM322.26 351.65v6.43h6.26v-6.43zM43.2 358.08v6.43h6.28v-6.43zM87.16 364.51v6.43h6.28v-6.43zM190.84 364.51v6.43h6.28v-6.43zM124.84 370.94v6.43h6.28v-6.43zM359.82 370.94v6.43h6.26v-6.43zM300.41 377.37v6.43h6.33v-6.43zM341.04 377.37v6.43h6.26v-6.43zM62.04 383.8v6.43h6.28v-6.43zM178.28 383.8v6.43h6.28v-6.43zM241.08 383.8v6.43h6.28v-6.43zM281.42 383.8v6.43h6.33v-6.43zM43.2 390.23v6.43h6.28v-6.43zM93.44 390.23v6.43h6.28v-6.43zM228.52 390.23v6.43h6.28v-6.43zM68.32 396.66v6.43h6.28v-6.43zM124.84 396.66v6.43h6.28v-6.43zM203.4 396.66v6.43h6.28v-6.43zM287.75 396.66v6.43h6.33v-6.43zM306.74 396.66v6.43h6.33v-6.43zM62.04 415.95v6.43h6.28v-6.43zM256.1 422.38v6.43h6.33v-6.43zM334.78 422.38v6.43h6.26v-6.43zM347.3 422.38v6.43h6.26v-6.43zM359.82 422.38v6.43h6.26v-6.43z"/><path fill="#98d29a" shape-rendering="crispEdges" d="M162.52 261.63v6.43h6.28v-6.43zM341.04 261.63v6.43h6.26v-6.43zM112.28 268.06v6.43h6.28v-6.43zM143.68 268.06v6.43h6.28v-6.43zM162.52 268.06v6.43h6.28v-6.43zM262.43 268.06v6.43h6.33v-6.43zM203.4 274.49v6.43h6.28v-6.43zM341.04 280.92v6.43h6.26v-6.43zM197.12 287.35v6.43h6.28v-6.43zM203.4 287.35v6.43h6.28v-6.43zM137.4 293.78v6.43h6.28v-6.43zM234.8 293.78v6.43h6.28v-6.43zM256.1 293.78v6.43h6.33v-6.43zM190.84 300.21v6.43h6.28v-6.43zM306.74 300.21v6.43h6.33v-6.43zM209.68 313.07v6.43h6.28v-6.43zM215.96 313.07v6.43h6.28v-6.43zM275.09 313.07v6.43h6.33v-6.43zM341.04 313.07v6.43h6.26v-6.43zM353.56 313.07v6.43h6.26v-6.43zM359.82 313.07v6.43h6.26v-6.43zM366.08 313.07v6.43h6.26v-6.43zM124.84 325.93v6.43h6.28v-6.43zM287.75 325.93v6.43h6.33v-6.43zM137.4 332.36v6.43h6.28v-6.43zM372.34 332.36v6.43h6.26v-6.43zM300.41 351.65v6.43h6.33v-6.43zM172 358.08v6.43h6.28v-6.43zM275.09 358.08v6.43h6.33v-6.43zM106 364.51v6.43h6.28v-6.43zM172 364.51v6.43h6.28v-6.43zM256.1 364.51v6.43h6.33v-6.43zM347.3 364.51v6.43h6.26v-6.43zM353.56 364.51v6.43h6.26v-6.43zM43.2 370.94v6.43h6.28v-6.43zM49.48 370.94v6.43h6.28v-6.43zM172 370.94v6.43h6.28v-6.43zM347.3 377.37v6.43h6.26v-6.43zM112.28 383.8v6.43h6.28v-6.43zM300.41 383.8v6.43h6.33v-6.43zM366.08 383.8v6.43h6.26v-6.43zM322.26 390.23v6.43h6.26v-6.43zM184.56 396.66v6.43h6.28v-6.43zM347.3 409.52v6.43h6.26v-6.43zM172 422.38v6.43h6.28v-6.43z"/><path fill="#f1f9ef" shape-rendering="crispEdges" d="M197.12 261.63v6.43h6.28v-6.43zM262.43 261.63v6.43h6.33v-6.43zM93.44 274.49v6.43h6.28v-6.43zM43.2 325.93v6.43h6.28v-6.43zM68.32 338.79v6.43h6.28v-6.43zM215.96 338.79v6.43h6.28v-6.43zM306.74 338.79v6.43h6.33v-6.43zM112.28 345.22v6.43h6.28v-6.43zM294.08 345.22v6.43h6.33v-6.43zM68.32 358.08v6.43h6.28v-6.43zM287.75 358.08v6.43h6.33v-6.43zM222.24 370.94v6.43h6.28v-6.43zM300.41 396.66v6.43h6.33v-6.43zM49.48 403.09v6.43h6.28v-6.43z"/><path fill="#8fce92" shape-rendering="crispEdges" d="M281.42 261.63v6.43h6.33v-6.43zM172 268.06v6.43h6.28v-6.43zM156.24 332.36v6.43h6.28v-6.43zM137.4 370.94v6.43h6.28v-6.43zM256.1 370.94v6.43h6.33v-6.43zM93.44 403.09v6.43h6.28v-6.43zM112.28 403.09v6.43h6.28v-6.43z"/><path fill="#a6d9a4" shape-rendering="crispEdges" d="M353.56 261.63v6.43h6.26v-6.43zM347.3 268.06v6.43h6.26v-6.43zM68.32 274.49v6.43h6.28v-6.43zM124.84 274.49v6.43h6.28v-6.43zM137.4 280.92v6.43h6.28v-6.43zM55.76 287.35v6.43h6.28v-6.43zM80.88 287.35v6.43h6.28v-6.43zM143.68 287.35v6.43h6.28v-6.43zM281.42 287.35v6.43h6.33v-6.43zM137.4 300.21v6.43h6.28v-6.43zM178.28 300.21v6.43h6.28v-6.43zM247.36 300.21v6.43h6.28v-6.43zM334.78 306.64v6.43h6.26v-6.43zM93.44 319.5v6.43h6.28v-6.43zM118.56 319.5v6.43h6.28v-6.43zM353.56 319.5v6.43h6.26v-6.43zM347.3 332.36v6.43h6.26v-6.43zM241.08 338.79v6.43h6.28v-6.43zM262.43 338.79v6.43h6.33v-6.43zM316 338.79v6.43h6.26v-6.43zM74.6 345.22v6.43h6.28v-6.43zM93.44 345.22v6.43h6.28v-6.43zM262.43 345.22v6.43h6.33v-6.43zM347.3 351.65v6.43h6.26v-6.43zM55.76 358.08v6.43h6.28v-6.43zM247.36 358.08v6.43h6.28v-6.43zM359.82 358.08v6.43h6.26v-6.43zM131.12 364.51v6.43h6.28v-6.43zM215.96 364.51v6.43h6.28v-6.43zM322.26 364.51v6.43h6.26v-6.43zM222.24 377.37v6.43h6.28v-6.43zM156.24 390.23v6.43h6.28v-6.43zM143.68 396.66v6.43h6.28v-6.43zM149.96 396.66v6.43h6.28v-6.43zM162.52 396.66v6.43h6.28v-6.43zM275.09 409.52v6.43h6.33v-6.43zM334.78 409.52v6.43h6.26v-6.43zM131.12 415.95v6.43h6.28v-6.43zM172 415.95v6.43h6.28v-6.43zM347.3 415.95v6.43h6.26v-6.43zM178.28 422.38v6.43h6.28v-6.43zM341.04 422.38v6.43h6.26v-6.43z"/><path fill="#0a3318" shape-rendering="crispEdges" d="M80.88 268.06v6.43h6.28v-6.43zM87.16 268.06v6.43h6.28v-6.43zM99.72 268.06v6.43h6.28v-6.43zM118.56 268.06v6.43h6.28v-6.43zM124.84 268.06v6.43h6.28v-6.43zM131.12 268.06v6.43h6.28v-6.43zM137.4 268.06v6.43h6.28v-6.43zM156.24 268.06v6.43h6.28v-6.43zM184.56 268.06v6.43h6.28v-6.43zM190.84 268.06v6.43h6.28v-6.43zM228.52 268.06v6.43h6.28v-6.43zM275.09 268.06v6.43h6.33v-6.43zM281.42 268.06v6.43h6.33v-6.43zM184.56 274.49v6.43h6.28v-6.43zM247.36 287.35v6.43h6.28v-6.43zM62.04 293.78v6.43h6.28v-6.43zM316 300.21v6.43h6.26v-6.43zM322.26 300.21v6.43h6.26v-6.43zM328.52 300.21v6.43h6.26v-6.43zM366.08 300.21v6.43h6.26v-6.43zM43.2 313.07v6.43h6.28v-6.43zM49.48 313.07v6.43h6.28v-6.43zM55.76 313.07v6.43h6.28v-6.43zM93.44 313.07v6.43h6.28v-6.43zM222.24 313.07v6.43h6.28v-6.43zM359.82 325.93v6.43h6.26v-6.43zM112.28 332.36v6.43h6.28v-6.43zM256.1 332.36v6.43h6.33v-6.43zM234.8 345.22v6.43h6.28v-6.43zM347.3 345.22v6.43h6.26v-6.43zM93.44 364.51v6.43h6.28v-6.43zM178.28 364.51v6.43h6.28v-6.43zM197.12 364.51v6.43h6.28v-6.43zM203.4 364.51v6.43h6.28v-6.43zM341.04 364.51v6.43h6.26v-6.43zM68.32 370.94v6.43h6.28v-6.43zM143.68 370.94v6.43h6.28v-6.43zM215.96 370.94v6.43h6.28v-6.43zM241.08 370.94v6.43h6.28v-6.43zM262.43 370.94v6.43h6.33v-6.43zM268.76 370.94v6.43h6.33v-6.43zM287.75 370.94v6.43h6.33v-6.43zM294.08 370.94v6.43h6.33v-6.43zM300.41 370.94v6.43h6.33v-6.43zM306.74 370.94v6.43h6.33v-6.43zM334.78 370.94v6.43h6.26v-6.43zM372.34 370.94v6.43h6.26v-6.43zM68.32 383.8v6.43h6.28v-6.43zM74.6 383.8v6.43h6.28v-6.43zM106 383.8v6.43h6.28v-6.43zM149.96 383.8v6.43h6.28v-6.43zM162.52 383.8v6.43h6.28v-6.43zM172 383.8v6.43h6.28v-6.43zM353.56 383.8v6.43h6.26v-6.43zM209.68 390.23v6.43h6.28v-6.43z"/><path fill="#eef7ec" shape-rendering="crispEdges" d="M197.12 268.06v6.43h6.28v-6.43zM322.26 268.06v6.43h6.26v-6.43zM372.34 268.06v6.43h6.26v-6.43zM322.26 280.92v6.43h6.26v-6.43zM353.56 306.64v6.43h6.26v-6.43zM162.52 313.07v6.43h6.28v-6.43zM74.6 325.93v6.43h6.28v-6.43zM234.8 325.93v6.43h6.28v-6.43zM353.56 332.36v6.43h6.26v-6.43zM55.76 345.22v6.43h6.28v-6.43zM228.52 351.65v6.43h6.28v-6.43zM287.75 351.65v6.43h6.33v-6.43zM184.56 370.94v6.43h6.28v-6.43zM372.34 390.23v6.43h6.26v-6.43zM190.84 396.66v6.43h6.28v-6.43zM334.78 403.09v6.43h6.26v-6.43zM197.12 409.52v6.43h6.28v-6.43zM228.52 409.52v6.43h6.28v-6.43zM241.08 409.52v6.43h6.28v-6.43zM322.26 409.52v6.43h6.26v-6.43z"/><polyline points="8,443.6 347.4,429.6 347.4,46.5 353.9,46.5 353.9,429.6 509.5,441.7" fill="none" stroke="#231f20" stroke-width="1" stroke-linejoin="round"/><text class="t" x="10.3" y="221.6" font-size="7.95" font-weight="bold" transform="rotate(-90 10.3 221.6)">Developmental deconvolution</text><text class="t" x="21.1" y="250.8" font-size="7.95" transform="rotate(-90 21.1 250.8)">Main trajectory</text><line x1="24.2" y1="250.8" x2="27.4" y2="250.8" stroke="#231f20" stroke-width="0.8"/><text class="t" x="10.9" y="391.2" font-size="8.05" font-weight="bold" transform="rotate(-90 10.9 391.2)">MLP classifier predictions</text><text class="t" x="21.3" y="427.3" font-size="7.6" transform="rotate(-90 21.3 427.3)">Tumor type</text><line x1="24.2" y1="427.3" x2="27.4" y2="427.3" stroke="#231f20" stroke-width="0.8"/><defs><linearGradient id="dcg" x1="0" x2="1" y1="0" y2="0"><stop offset="0" stop-color="#1a0a3a"/><stop offset="0.45" stop-color="#3a2272"/><stop offset="0.5" stop-color="#5a44a0"/><stop offset="0.56" stop-color="#c8c0e0"/><stop offset="0.6" stop-color="#f4eeee"/><stop offset="0.66" stop-color="#e2c090"/><stop offset="0.8" stop-color="#b47032"/><stop offset="1" stop-color="#8a4818"/></linearGradient><linearGradient id="grg" x1="0" x2="1" y1="0" y2="0"><stop offset="0" stop-color="#f6fbf4"/><stop offset="0.5" stop-color="#b0dcaa"/><stop offset="0.97" stop-color="#5cb46a"/><stop offset="0.975" stop-color="#163c22"/><stop offset="1" stop-color="#163c22"/></linearGradient></defs><text class="t" x="426.2" y="228.8" font-size="6.65">Scaled DC score</text><rect x="425.8" y="233.1" width="30.1" height="5.2" fill="url(#dcg)"/><text class="t" x="425.4" y="245.6" font-size="6.6">–2</text><text class="t" x="441.3" y="245.6" font-size="6.6" text-anchor="middle">0</text><text class="t" x="452.3" y="245.6" font-size="6.6" text-anchor="middle">2</text><text class="t" x="426.2" y="265.3" font-size="6.65">Normalized prediction likelihood</text><rect x="426" y="270.1" width="77.8" height="5.1" fill="url(#grg)"/><text class="t" x="428.3" y="283.2" font-size="6.6" text-anchor="middle">0</text><text class="t" x="443.1" y="283.2" font-size="6.6" text-anchor="middle">0.2</text><text class="t" x="458" y="283.2" font-size="6.6" text-anchor="middle">0.4</text><text class="t" x="473.1" y="283.2" font-size="6.6" text-anchor="middle">0.6</text><text class="t" x="488.1" y="283.2" font-size="6.6" text-anchor="middle">0.8</text><text class="t" x="502.6" y="283.2" font-size="6.6" text-anchor="middle">1</text><text class="t" x="426.1" y="306.3" font-size="6.65">Main trajectory</text><rect x="426.1" y="309.2" width="8.1" height="7.75" fill="#9e2a2b"/><text class="t" x="435.9" y="315.2" font-size="6.65">Endothelial</text><rect x="426.1" y="316.9" width="8.1" height="7.75" fill="#d7a97a"/><text class="t" x="435.9" y="322.9" font-size="6.65">Epithelial</text><rect x="426.1" y="324.6" width="8.1" height="7.75" fill="#ef5236"/><text class="t" x="435.9" y="330.6" font-size="6.65">Hematopoiesis</text><rect x="426.1" y="332.3" width="8.1" height="7.75" fill="#45682c"/><text class="t" x="435.9" y="338.3" font-size="6.65">Mesenchymal</text><rect x="426.1" y="340" width="8.1" height="7.75" fill="#f5906c"/><text class="t" x="435.9" y="346" font-size="6.65">Hepatic</text><rect x="426.1" y="347.7" width="8.1" height="7.75" fill="#22b2ea"/><text class="t" x="435.9" y="353.7" font-size="6.65">Neural crest (PNS glia) 2</text><rect x="426.1" y="355.4" width="8.1" height="7.75" fill="#3553b5"/><text class="t" x="435.9" y="361.4" font-size="6.65">Neural crest (PNS neuron) 3</text><rect x="426.1" y="363.1" width="8.1" height="7.75" fill="#2b2e78"/><text class="t" x="435.9" y="369.1" font-size="6.65">Neural tube and notochord</text><clipPath id="c1"><circle cx="123" cy="490.6" r="28.4"/></clipPath><g clip-path="url(#c1)"><circle cx="123" cy="490.6" r="28.4" fill="#f1e6f0"/><circle cx="123" cy="490.6" r="29" fill="#f5eef3"/><circle cx="132.03" cy="491.3" r="3.48" fill="#e4c8e4" opacity="0.8"/><circle cx="118.94" cy="481.4" r="2.78" fill="#e4c8e4" opacity="0.8"/><circle cx="125.68" cy="513.95" r="2.87" fill="#e4c8e4" opacity="0.8"/><circle cx="121.71" cy="468.67" r="2.84" fill="#e4c8e4" opacity="0.8"/><circle cx="105.38" cy="486.59" r="3.53" fill="#e4c8e4" opacity="0.8"/><circle cx="131.24" cy="490.41" r="2.55" fill="#e4c8e4" opacity="0.8"/><circle cx="138.93" cy="484.27" r="3" fill="#e4c8e4" opacity="0.8"/><circle cx="115.12" cy="504.88" r="4.89" fill="#e4c8e4" opacity="0.8"/><circle cx="126.1" cy="502.79" r="3.96" fill="#e4c8e4" opacity="0.8"/><circle cx="97.79" cy="482.87" r="4.6" fill="#e4c8e4" opacity="0.8"/><circle cx="115.5" cy="500.21" r="4.59" fill="#e4c8e4" opacity="0.8"/><circle cx="127.69" cy="490.27" r="4.34" fill="#e4c8e4" opacity="0.8"/><circle cx="137.75" cy="474.56" r="3.05" fill="#e4c8e4" opacity="0.8"/><circle cx="129.65" cy="468.51" r="2.98" fill="#e4c8e4" opacity="0.8"/><circle cx="115" cy="480.82" r="2.6" fill="#e4c8e4" opacity="0.8"/><circle cx="114.97" cy="503.99" r="3.49" fill="#e4c8e4" opacity="0.8"/><circle cx="108.08" cy="470.93" r="4.9" fill="#e4c8e4" opacity="0.8"/><circle cx="149.62" cy="486.62" r="4.47" fill="#e4c8e4" opacity="0.8"/><circle cx="135.86" cy="512.33" r="3.27" fill="#c4a4d8" stroke="#a886c4" stroke-width="0.72"/><circle cx="108.99" cy="492.45" r="3.59" fill="#c4a4d8" stroke="#a886c4" stroke-width="0.79"/><circle cx="130.74" cy="470.26" r="3.01" fill="#9a72c2" stroke="#7a52a8" stroke-width="0.66"/><circle cx="123.15" cy="492.31" r="2.74" fill="#8a5ab6" stroke="#66389c" stroke-width="0.6"/><circle cx="116.12" cy="486.51" r="3.59" fill="#b08ccc" stroke="#9470b8" stroke-width="0.79"/><circle cx="124.63" cy="505.17" r="2.08" fill="#b08ccc" stroke="#9470b8" stroke-width="0.6"/><circle cx="149.12" cy="490.2" r="3.75" fill="#b08ccc" stroke="#9470b8" stroke-width="0.83"/><circle cx="114.9" cy="499.4" r="3.64" fill="#9a72c2" stroke="#7a52a8" stroke-width="0.8"/><circle cx="143.72" cy="511.29" r="2.91" fill="#c4a4d8" stroke="#a886c4" stroke-width="0.64"/><circle cx="106.14" cy="484.89" r="2.97" fill="#b08ccc" stroke="#9470b8" stroke-width="0.65"/><circle cx="125.55" cy="517.33" r="2.42" fill="#c4a4d8" stroke="#a886c4" stroke-width="0.6"/><circle cx="138.07" cy="505.2" r="3.65" fill="#7a4cac" stroke="#5a2e8c" stroke-width="0.8"/><circle cx="107.51" cy="500.48" r="2.9" fill="#8a5ab6" stroke="#66389c" stroke-width="0.64"/><circle cx="100.16" cy="510.54" r="2.77" fill="#9a72c2" stroke="#7a52a8" stroke-width="0.61"/><circle cx="132.15" cy="492.16" r="3.44" fill="#8a5ab6" stroke="#66389c" stroke-width="0.76"/><circle cx="98.01" cy="482.41" r="2.44" fill="#9a72c2" stroke="#7a52a8" stroke-width="0.6"/><circle cx="105.43" cy="476.27" r="3.25" fill="#b08ccc" stroke="#9470b8" stroke-width="0.71"/><circle cx="139.05" cy="482.68" r="3.19" fill="#8a5ab6" stroke="#66389c" stroke-width="0.7"/><circle cx="112.84" cy="467.77" r="3.8" fill="#7a4cac" stroke="#5a2e8c" stroke-width="0.84"/><circle cx="131.72" cy="482" r="2.14" fill="#c4a4d8" stroke="#a886c4" stroke-width="0.6"/><circle cx="126.61" cy="484.67" r="2.52" fill="#8a5ab6" stroke="#66389c" stroke-width="0.6"/><circle cx="118.12" cy="509.68" r="2.34" fill="#7a4cac" stroke="#5a2e8c" stroke-width="0.6"/><circle cx="118.67" cy="516.89" r="2.02" fill="#c4a4d8" stroke="#a886c4" stroke-width="0.6"/><circle cx="150.96" cy="483.18" r="2.27" fill="#9a72c2" stroke="#7a52a8" stroke-width="0.6"/><circle cx="129.56" cy="501.87" r="2.76" fill="#c4a4d8" stroke="#a886c4" stroke-width="0.61"/><circle cx="147.48" cy="500.92" r="2.35" fill="#b08ccc" stroke="#9470b8" stroke-width="0.6"/><circle cx="119.34" cy="475.76" r="3.39" fill="#b08ccc" stroke="#9470b8" stroke-width="0.75"/><circle cx="112.48" cy="517.47" r="2.59" fill="#7a4cac" stroke="#5a2e8c" stroke-width="0.6"/><circle cx="100.47" cy="490.16" r="3.9" fill="#8a5ab6" stroke="#66389c" stroke-width="0.86"/><circle cx="120.11" cy="460.84" r="2.62" fill="#b08ccc" stroke="#9470b8" stroke-width="0.6"/><circle cx="102.83" cy="468.62" r="2.17" fill="#8a5ab6" stroke="#66389c" stroke-width="0.6"/><circle cx="143.73" cy="473.55" r="3.25" fill="#9a72c2" stroke="#7a52a8" stroke-width="0.72"/></g><clipPath id="c2"><circle cx="180.6" cy="490.4" r="28.3"/></clipPath><g clip-path="url(#c2)"><circle cx="180.6" cy="490.4" r="28.3" fill="#f2f2e8"/><circle cx="202.5" cy="486" r="4.8" fill="#8a96d0" stroke="#6e7cc0" stroke-width="0.8"/><circle cx="191.56" cy="487.45" r="2.23" fill="#c8ccdf" stroke="#b0b6d4" stroke-width="0.6"/><circle cx="170.26" cy="475.9" r="3.45" fill="#c8ccdf" stroke="#b0b6d4" stroke-width="0.76"/><circle cx="184" cy="519.88" r="2.65" fill="#bec4dc" stroke="#a8b0d2" stroke-width="0.6"/><circle cx="157.06" cy="473.04" r="3.16" fill="#a4aed4" stroke="#8c96c6" stroke-width="0.7"/><circle cx="203.23" cy="478.66" r="2.27" fill="#bec4dc" stroke="#a8b0d2" stroke-width="0.6"/><circle cx="197.7" cy="474.62" r="2.63" fill="#b2bad8" stroke="#98a2cc" stroke-width="0.6"/><circle cx="190.86" cy="516.38" r="3.02" fill="#b2bad8" stroke="#98a2cc" stroke-width="0.66"/><circle cx="157.44" cy="480.15" r="3.06" fill="#b2bad8" stroke="#98a2cc" stroke-width="0.67"/><circle cx="186.35" cy="461.36" r="3.11" fill="#a4aed4" stroke="#8c96c6" stroke-width="0.68"/><circle cx="197.85" cy="511.85" r="3.13" fill="#c8ccdf" stroke="#b0b6d4" stroke-width="0.69"/><circle cx="183.27" cy="496.56" r="2.94" fill="#b2bad8" stroke="#98a2cc" stroke-width="0.65"/><circle cx="209.15" cy="496.27" r="2.91" fill="#a4aed4" stroke="#8c96c6" stroke-width="0.64"/><circle cx="161.33" cy="488.3" r="3.13" fill="#c8ccdf" stroke="#b0b6d4" stroke-width="0.69"/><circle cx="195.14" cy="481.98" r="2.72" fill="#bec4dc" stroke="#a8b0d2" stroke-width="0.6"/><circle cx="166.25" cy="482.21" r="3.03" fill="#a4aed4" stroke="#8c96c6" stroke-width="0.67"/><circle cx="171.75" cy="488.81" r="3.6" fill="#b2bad8" stroke="#98a2cc" stroke-width="0.79"/><circle cx="168.33" cy="506.08" r="2.76" fill="#a4aed4" stroke="#8c96c6" stroke-width="0.61"/><circle cx="191.22" cy="510.12" r="2.69" fill="#bec4dc" stroke="#a8b0d2" stroke-width="0.6"/><circle cx="202.18" cy="495.5" r="3.31" fill="#a4aed4" stroke="#8c96c6" stroke-width="0.73"/><circle cx="206.69" cy="488.97" r="2.86" fill="#a4aed4" stroke="#8c96c6" stroke-width="0.63"/><circle cx="177.14" cy="466.35" r="2.7" fill="#bec4dc" stroke="#a8b0d2" stroke-width="0.6"/><circle cx="184.42" cy="488.96" r="2.9" fill="#c8ccdf" stroke="#b0b6d4" stroke-width="0.64"/><circle cx="190.99" cy="499.92" r="2.56" fill="#c8ccdf" stroke="#b0b6d4" stroke-width="0.6"/><circle cx="189.19" cy="480.8" r="2.59" fill="#a4aed4" stroke="#8c96c6" stroke-width="0.6"/><circle cx="197.61" cy="502.33" r="2.49" fill="#c8ccdf" stroke="#b0b6d4" stroke-width="0.6"/><circle cx="182.49" cy="505.92" r="2.29" fill="#c8ccdf" stroke="#b0b6d4" stroke-width="0.6"/><circle cx="182.92" cy="512.43" r="2.4" fill="#c8ccdf" stroke="#b0b6d4" stroke-width="0.6"/><circle cx="165.17" cy="513.96" r="3.34" fill="#bec4dc" stroke="#a8b0d2" stroke-width="0.74"/><circle cx="181.98" cy="471.61" r="3.12" fill="#a4aed4" stroke="#8c96c6" stroke-width="0.69"/><circle cx="170.02" cy="465.33" r="3.36" fill="#a4aed4" stroke="#8c96c6" stroke-width="0.74"/><circle cx="151.26" cy="489.52" r="3.47" fill="#a4aed4" stroke="#8c96c6" stroke-width="0.76"/><circle cx="160.26" cy="502.96" r="3.24" fill="#bec4dc" stroke="#a8b0d2" stroke-width="0.71"/><circle cx="159.39" cy="510.15" r="3.02" fill="#bec4dc" stroke="#a8b0d2" stroke-width="0.66"/><circle cx="157.33" cy="496.53" r="2.27" fill="#b2bad8" stroke="#98a2cc" stroke-width="0.6"/></g><clipPath id="c3"><circle cx="240.4" cy="490.6" r="28.6"/></clipPath><g clip-path="url(#c3)"><circle cx="240.4" cy="490.6" r="28.6" fill="#f3f2e8"/><circle cx="266.94" cy="477.05" r="3.06" fill="#ccd0e0" stroke="#a8b0d2" stroke-width="0.67"/><circle cx="260.77" cy="502.4" r="2.45" fill="#b0b8d8" stroke="#8090c6" stroke-width="0.6"/><circle cx="229.55" cy="488.52" r="2.15" fill="#b0b8d8" stroke="#8090c6" stroke-width="0.6"/><circle cx="226.88" cy="495.51" r="2.49" fill="#ccd0e0" stroke="#a8b0d2" stroke-width="0.6"/><circle cx="249.25" cy="491.99" r="2.82" fill="#ccd0e0" stroke="#a8b0d2" stroke-width="0.62"/><circle cx="221.12" cy="501" r="2.85" fill="#bec4dc" stroke="#96a0cc" stroke-width="0.63"/><circle cx="235.76" cy="496.29" r="2.92" fill="#a0aad2" stroke="#6e7ec0" stroke-width="0.64"/><circle cx="219.37" cy="477.42" r="2.71" fill="#b0b8d8" stroke="#8090c6" stroke-width="0.6"/><circle cx="258.52" cy="487.23" r="2.89" fill="#b0b8d8" stroke="#8090c6" stroke-width="0.64"/><circle cx="224.7" cy="507.6" r="2.76" fill="#bec4dc" stroke="#96a0cc" stroke-width="0.61"/><circle cx="235.69" cy="467.56" r="2.48" fill="#bec4dc" stroke="#96a0cc" stroke-width="0.6"/><circle cx="232.23" cy="480.42" r="2.13" fill="#a0aad2" stroke="#6e7ec0" stroke-width="0.6"/><circle cx="228.1" cy="515.35" r="2.15" fill="#a0aad2" stroke="#6e7ec0" stroke-width="0.6"/><circle cx="247.64" cy="496.92" r="1.95" fill="#a0aad2" stroke="#6e7ec0" stroke-width="0.6"/><circle cx="236.7" cy="513.46" r="2.97" fill="#a0aad2" stroke="#6e7ec0" stroke-width="0.65"/><circle cx="231.35" cy="506.86" r="2.28" fill="#ccd0e0" stroke="#a8b0d2" stroke-width="0.6"/><circle cx="212.26" cy="482.33" r="2.67" fill="#ccd0e0" stroke="#a8b0d2" stroke-width="0.6"/><circle cx="258.94" cy="497.39" r="1.93" fill="#a0aad2" stroke="#6e7ec0" stroke-width="0.6"/><circle cx="249.67" cy="466.99" r="3.17" fill="#a0aad2" stroke="#6e7ec0" stroke-width="0.7"/><circle cx="266.81" cy="488.64" r="2.35" fill="#b0b8d8" stroke="#8090c6" stroke-width="0.6"/><circle cx="214.8" cy="504.31" r="2.48" fill="#bec4dc" stroke="#96a0cc" stroke-width="0.6"/><circle cx="260.47" cy="475.07" r="2.44" fill="#bec4dc" stroke="#96a0cc" stroke-width="0.6"/><circle cx="230.63" cy="464.49" r="2.73" fill="#b0b8d8" stroke="#8090c6" stroke-width="0.6"/><circle cx="241.61" cy="507.18" r="2.43" fill="#bec4dc" stroke="#96a0cc" stroke-width="0.6"/><circle cx="243.5" cy="467.97" r="2.61" fill="#b0b8d8" stroke="#8090c6" stroke-width="0.6"/><circle cx="245.06" cy="481.67" r="2.72" fill="#a0aad2" stroke="#6e7ec0" stroke-width="0.6"/><circle cx="240.71" cy="520.45" r="2" fill="#a0aad2" stroke="#6e7ec0" stroke-width="0.6"/><circle cx="240.02" cy="488.72" r="2.39" fill="#b0b8d8" stroke="#8090c6" stroke-width="0.6"/><circle cx="247.66" cy="514.79" r="2.13" fill="#b0b8d8" stroke="#8090c6" stroke-width="0.6"/><circle cx="218.27" cy="485.05" r="2.58" fill="#b0b8d8" stroke="#8090c6" stroke-width="0.6"/><circle cx="231.82" cy="518.31" r="2.01" fill="#b0b8d8" stroke="#8090c6" stroke-width="0.6"/><circle cx="217.85" cy="493.77" r="2.23" fill="#ccd0e0" stroke="#a8b0d2" stroke-width="0.6"/><circle cx="246.05" cy="475.56" r="2.37" fill="#b0b8d8" stroke="#8090c6" stroke-width="0.6"/><circle cx="257.34" cy="512.9" r="2.02" fill="#a0aad2" stroke="#6e7ec0" stroke-width="0.6"/><circle cx="251.52" cy="483.72" r="1.92" fill="#a0aad2" stroke="#6e7ec0" stroke-width="0.6"/><circle cx="225.71" cy="481.1" r="2.07" fill="#ccd0e0" stroke="#a8b0d2" stroke-width="0.6"/><circle cx="230.65" cy="472.66" r="2.13" fill="#b0b8d8" stroke="#8090c6" stroke-width="0.6"/><circle cx="234.23" cy="485.97" r="2.66" fill="#bec4dc" stroke="#96a0cc" stroke-width="0.6"/></g><clipPath id="c4"><circle cx="298.4" cy="490.8" r="28.6"/></clipPath><g clip-path="url(#c4)"><circle cx="298.4" cy="490.8" r="28.6" fill="#f2e4b0"/><circle cx="298.4" cy="490.8" r="29" fill="#f0e0b4"/><ellipse cx="284" cy="488" rx="10" ry="14" fill="#f8f0da"/><ellipse cx="300" cy="498" rx="8" ry="5" fill="#f6ecd0"/><circle cx="298.4" cy="490.8" r="29" fill="none" stroke="#b07a30" stroke-width="3" stroke-dasharray="6,5"/><ellipse cx="288" cy="470" rx="6" ry="4" fill="#e0b450"/><ellipse cx="308" cy="470" rx="5" ry="4" fill="#d8a848"/><ellipse cx="280" cy="490" rx="4" ry="6" fill="#e8c468"/><ellipse cx="320" cy="500" rx="6" ry="6" fill="#dcac48"/><ellipse cx="300" cy="505" rx="6" ry="4" fill="#e2b858"/><ellipse cx="312" cy="516" rx="5" ry="3" fill="#d8a040"/><ellipse cx="290" cy="518" rx="5" ry="3" fill="#e0b050"/><ellipse cx="276" cy="506" rx="3" ry="4" fill="#d8a848"/><ellipse cx="318" cy="474" rx="4" ry="3" fill="#c89038"/><ellipse cx="308" cy="483" rx="17" ry="14" fill="#84441a"/><ellipse cx="291" cy="464" rx="9" ry="3.5" fill="#7a3a10"/><ellipse cx="318" cy="470" rx="6" ry="5" fill="#b07028"/><ellipse cx="272" cy="478" rx="3" ry="6" fill="#8a4a14"/><ellipse cx="324" cy="505" rx="4" ry="6" fill="#b47a30"/><circle cx="298.4" cy="479" r="9.2" fill="#6e3014" stroke="#3a1204" stroke-width="2.3"/><circle cx="295.5" cy="476.5" r="3" fill="#9a5a3a"/><circle cx="301.5" cy="482" r="3" fill="#8e4e30"/><circle cx="296" cy="483" r="2.5" fill="#a06040"/><circle cx="315" cy="488.6" r="9.6" fill="#7a3a14" stroke="#3a1204" stroke-width="2"/><circle cx="316" cy="489" r="6" fill="#c2b08e"/><circle cx="307.5" cy="488" r="4" fill="#b07040" stroke="#6a3010" stroke-width="1.7"/><circle cx="301.4" cy="492" r="3" fill="#c89050" stroke="#6e3410" stroke-width="1"/><circle cx="294.8" cy="503.5" r="4.5" fill="#b07440" stroke="#3a1204" stroke-width="2.3"/><circle cx="277" cy="501.7" r="3.6" fill="#9a5a28" stroke="#3a1204" stroke-width="2.1"/><circle cx="285.3" cy="504" r="3.6" fill="#8e4e22" stroke="#3a1204" stroke-width="2.0"/><circle cx="303.8" cy="512.4" r="3.6" fill="#a06030" stroke="#3a1204" stroke-width="2.1"/><circle cx="295.4" cy="513.6" r="3" fill="#b07a40" stroke="#3a1204" stroke-width="1.8"/><circle cx="288.3" cy="513" r="2.5" fill="#965a28" stroke="#3a1204" stroke-width="1.7"/><circle cx="283.5" cy="485.6" r="2.5" fill="#c88a38" stroke="#8a4a12" stroke-width="0.8"/><circle cx="273.4" cy="494.6" r="3" fill="#6a3010" stroke="#3a1204" stroke-width="1.7"/><circle cx="277.5" cy="496" r="2.4" fill="#b07030"/><ellipse cx="285.9" cy="466" rx="4.5" ry="2.2" fill="#6a2e0a"/><ellipse cx="300.8" cy="463.6" rx="4" ry="2" fill="#6a2e0a"/><ellipse cx="278.7" cy="472" rx="3.5" ry="2" fill="#7a3a10"/><circle cx="314.5" cy="505.3" r="4" fill="#d0a040" stroke="#a06a20" stroke-width="0.8"/><circle cx="321.6" cy="498" r="3.5" fill="#c89038" stroke="#8a5218" stroke-width="0.8"/><circle cx="310.3" cy="512.4" r="3" fill="#d4a444" stroke="#9a6220" stroke-width="0.7"/><circle cx="280" cy="479" r="2.2" fill="#c48a38"/><circle cx="310" cy="466" r="2.5" fill="#8a4a18"/><circle cx="322" cy="480" r="2.4" fill="#9a5a20"/><circle cx="271.5" cy="485" r="2.5" fill="#6a3008"/><ellipse cx="280" cy="467" rx="5" ry="2.5" fill="#6a2e0a" transform="rotate(-35 280 467)"/><ellipse cx="272" cy="506" rx="2.5" ry="4" fill="#7a3a10"/><ellipse cx="300" cy="519" rx="9" ry="2.5" fill="#8a4a18"/><ellipse cx="318" cy="514" rx="4" ry="3" fill="#7a3a10"/><ellipse cx="326" cy="490" rx="2" ry="6" fill="#8a4a18"/></g><clipPath id="c5"><circle cx="153.8" cy="548.8" r="28.5"/></clipPath><g clip-path="url(#c5)"><circle cx="153.8" cy="548.8" r="28.5" fill="#f3f1e6"/><circle cx="132.78" cy="569.3" r="3.1" fill="#9aa4d0" stroke="#5e6eb6" stroke-width="0.68"/><circle cx="160.18" cy="576.55" r="2.83" fill="#cdd0e0" stroke="#a0a8cc" stroke-width="0.62"/><circle cx="182.52" cy="556.64" r="2.33" fill="#9aa4d0" stroke="#5e6eb6" stroke-width="0.6"/><circle cx="146.97" cy="567.45" r="2.77" fill="#cdd0e0" stroke="#a0a8cc" stroke-width="0.61"/><circle cx="171.74" cy="566.6" r="3.08" fill="#a4aed6" stroke="#6a7abe" stroke-width="0.68"/><circle cx="126.7" cy="546.7" r="2.81" fill="#cdd0e0" stroke="#a0a8cc" stroke-width="0.62"/><circle cx="159.68" cy="537.23" r="2.47" fill="#cdd0e0" stroke="#a0a8cc" stroke-width="0.6"/><circle cx="144.15" cy="550.68" r="3.27" fill="#a4aed6" stroke="#6a7abe" stroke-width="0.72"/><circle cx="147.53" cy="541.59" r="2.76" fill="#cdd0e0" stroke="#a0a8cc" stroke-width="0.61"/><circle cx="166.04" cy="551.99" r="3.06" fill="#cdd0e0" stroke="#a0a8cc" stroke-width="0.67"/><circle cx="157.42" cy="568.33" r="2.73" fill="#b2bad8" stroke="#7484c2" stroke-width="0.6"/><circle cx="134.09" cy="557.25" r="2.66" fill="#c0c6de" stroke="#8a96c8" stroke-width="0.6"/><circle cx="152.43" cy="555.32" r="2.53" fill="#b2bad8" stroke="#7484c2" stroke-width="0.6"/><circle cx="163.33" cy="526.57" r="2.59" fill="#9aa4d0" stroke="#5e6eb6" stroke-width="0.6"/><circle cx="154.29" cy="534.52" r="2.19" fill="#9aa4d0" stroke="#5e6eb6" stroke-width="0.6"/><circle cx="171.56" cy="543.1" r="2.22" fill="#b2bad8" stroke="#7484c2" stroke-width="0.6"/><circle cx="132.19" cy="538.39" r="2.7" fill="#cdd0e0" stroke="#a0a8cc" stroke-width="0.6"/><circle cx="147.84" cy="526.64" r="2.79" fill="#c0c6de" stroke="#8a96c8" stroke-width="0.61"/><circle cx="168.46" cy="573.09" r="2.35" fill="#a4aed6" stroke="#6a7abe" stroke-width="0.6"/><circle cx="175.99" cy="539.99" r="2.1" fill="#b2bad8" stroke="#7484c2" stroke-width="0.6"/><circle cx="164.21" cy="564.09" r="2.36" fill="#9aa4d0" stroke="#5e6eb6" stroke-width="0.6"/><circle cx="163.64" cy="540.9" r="2.1" fill="#c0c6de" stroke="#8a96c8" stroke-width="0.6"/><circle cx="147.81" cy="533.42" r="2.6" fill="#c0c6de" stroke="#8a96c8" stroke-width="0.6"/><circle cx="147.09" cy="575.35" r="2.37" fill="#b2bad8" stroke="#7484c2" stroke-width="0.6"/><circle cx="135.56" cy="550.17" r="2.65" fill="#b2bad8" stroke="#7484c2" stroke-width="0.6"/><circle cx="171.81" cy="531.5" r="2.92" fill="#c0c6de" stroke="#8a96c8" stroke-width="0.64"/><circle cx="182.55" cy="544.46" r="2.06" fill="#cdd0e0" stroke="#a0a8cc" stroke-width="0.6"/><circle cx="171.71" cy="524.41" r="2.14" fill="#cdd0e0" stroke="#a0a8cc" stroke-width="0.6"/><circle cx="179.38" cy="563.86" r="2.63" fill="#9aa4d0" stroke="#5e6eb6" stroke-width="0.6"/><circle cx="139.84" cy="560.89" r="2.15" fill="#cdd0e0" stroke="#a0a8cc" stroke-width="0.6"/><circle cx="131.59" cy="529.61" r="2.29" fill="#c0c6de" stroke="#8a96c8" stroke-width="0.6"/><circle cx="174.44" cy="553.96" r="2.91" fill="#c0c6de" stroke="#8a96c8" stroke-width="0.64"/><circle cx="139.17" cy="542.93" r="3.15" fill="#9aa4d0" stroke="#5e6eb6" stroke-width="0.69"/><circle cx="130.42" cy="551.06" r="2.12" fill="#cdd0e0" stroke="#a0a8cc" stroke-width="0.6"/><circle cx="138.55" cy="530.05" r="3.21" fill="#cdd0e0" stroke="#a0a8cc" stroke-width="0.71"/><circle cx="181.62" cy="537.13" r="2.68" fill="#b2bad8" stroke="#7484c2" stroke-width="0.6"/></g><clipPath id="c6"><circle cx="213" cy="548.8" r="28.3"/></clipPath><g clip-path="url(#c6)"><circle cx="213" cy="548.8" r="28.3" fill="#f3f0e2"/><circle cx="212.77" cy="535.16" r="2.49" fill="#c8ccd8" stroke="#a8aec4" stroke-width="0.6"/><circle cx="207.18" cy="544.53" r="3.29" fill="#c8ccd8" stroke="#a8aec4" stroke-width="0.72"/><circle cx="188.85" cy="548.38" r="3.54" fill="#c49448" stroke="#946420" stroke-width="0.78"/><circle cx="232.31" cy="547.19" r="3.38" fill="#c49448" stroke="#946420" stroke-width="0.74"/><circle cx="219.75" cy="519.7" r="2.24" fill="#b88438" stroke="#8a5a1a" stroke-width="0.6"/><circle cx="226.21" cy="543.37" r="2.38" fill="#a87430" stroke="#7a4c14" stroke-width="0.6"/><circle cx="190.29" cy="532.85" r="3.54" fill="#b88438" stroke="#8a5a1a" stroke-width="0.78"/><circle cx="194.86" cy="569.56" r="2.24" fill="#d4d6de" stroke="#b4b8c8" stroke-width="0.6"/><circle cx="217.5" cy="553.27" r="2.21" fill="#c49448" stroke="#946420" stroke-width="0.6"/><circle cx="224.7" cy="532.93" r="3.39" fill="#d4d6de" stroke="#b4b8c8" stroke-width="0.74"/><circle cx="221.66" cy="575.89" r="2.55" fill="#bcc2d6" stroke="#97a0c2" stroke-width="0.6"/><circle cx="188.41" cy="541.67" r="2.26" fill="#dadbe0" stroke="#c0c2cc" stroke-width="0.6"/><circle cx="197.64" cy="558.99" r="3.29" fill="#bcc2d6" stroke="#97a0c2" stroke-width="0.72"/><circle cx="222.1" cy="548.25" r="2.96" fill="#dadbe0" stroke="#c0c2cc" stroke-width="0.65"/><circle cx="234.28" cy="565.13" r="3.52" fill="#c49448" stroke="#946420" stroke-width="0.77"/><circle cx="206.76" cy="526.55" r="2.26" fill="#dadbe0" stroke="#c0c2cc" stroke-width="0.6"/><circle cx="225.2" cy="557.23" r="2.31" fill="#b88438" stroke="#8a5a1a" stroke-width="0.6"/><circle cx="235.03" cy="534.2" r="3.29" fill="#b88438" stroke="#8a5a1a" stroke-width="0.72"/><circle cx="194.42" cy="552.38" r="2.25" fill="#a87430" stroke="#7a4c14" stroke-width="0.6"/><circle cx="234.96" cy="555.04" r="2.93" fill="#dadbe0" stroke="#c0c2cc" stroke-width="0.65"/><circle cx="207.8" cy="567.93" r="2.29" fill="#bcc2d6" stroke="#97a0c2" stroke-width="0.6"/><circle cx="194.77" cy="543.26" r="2.34" fill="#bcc2d6" stroke="#97a0c2" stroke-width="0.6"/><circle cx="190.79" cy="564.54" r="3.18" fill="#c49448" stroke="#946420" stroke-width="0.7"/><circle cx="213.38" cy="556.65" r="2.59" fill="#d4d6de" stroke="#b4b8c8" stroke-width="0.6"/><circle cx="241.94" cy="550.03" r="3.2" fill="#c8ccd8" stroke="#a8aec4" stroke-width="0.7"/><circle cx="229.2" cy="569.09" r="2.25" fill="#dadbe0" stroke="#c0c2cc" stroke-width="0.6"/><circle cx="220.4" cy="569.44" r="3.35" fill="#b88438" stroke="#8a5a1a" stroke-width="0.74"/><circle cx="215.87" cy="563.74" r="3.2" fill="#c49448" stroke="#946420" stroke-width="0.7"/><circle cx="214.63" cy="528.14" r="2.33" fill="#dadbe0" stroke="#c0c2cc" stroke-width="0.6"/><circle cx="215.95" cy="541.21" r="2.73" fill="#a87430" stroke="#7a4c14" stroke-width="0.6"/><circle cx="197.11" cy="529.32" r="3.27" fill="#d4d6de" stroke="#b4b8c8" stroke-width="0.72"/><circle cx="235.95" cy="540.75" r="2.47" fill="#c8ccd8" stroke="#a8aec4" stroke-width="0.6"/><circle cx="206.97" cy="533.31" r="2.97" fill="#c8ccd8" stroke="#a8aec4" stroke-width="0.65"/><circle cx="205.44" cy="573.02" r="2.82" fill="#c8ccd8" stroke="#a8aec4" stroke-width="0.62"/></g><clipPath id="c7"><circle cx="271.5" cy="548.8" r="28.5"/></clipPath><g clip-path="url(#c7)"><circle cx="271.5" cy="548.8" r="28.5" fill="#f3f2e8"/><circle cx="256.29" cy="528.28" r="3.34" fill="#b0b8d8" stroke="#7080c2" stroke-width="0.73"/><circle cx="274.08" cy="556.16" r="3.15" fill="#cbcfe0" stroke="#a2aacc" stroke-width="0.69"/><circle cx="262.22" cy="564.93" r="3.14" fill="#b0b8d8" stroke="#7080c2" stroke-width="0.69"/><circle cx="283.33" cy="575.38" r="2.69" fill="#c0c6de" stroke="#8894c8" stroke-width="0.6"/><circle cx="297.83" cy="561.46" r="2.8" fill="#c0c6de" stroke="#8894c8" stroke-width="0.62"/><circle cx="269.97" cy="524.12" r="3.39" fill="#b0b8d8" stroke="#7080c2" stroke-width="0.75"/><circle cx="301.52" cy="551.09" r="2.9" fill="#b0b8d8" stroke="#7080c2" stroke-width="0.64"/><circle cx="271.06" cy="572.66" r="2.47" fill="#a0aad4" stroke="#6474bc" stroke-width="0.6"/><circle cx="287.04" cy="559.9" r="2.42" fill="#cbcfe0" stroke="#a2aacc" stroke-width="0.6"/><circle cx="259.15" cy="546.4" r="2.99" fill="#a0aad4" stroke="#6474bc" stroke-width="0.66"/><circle cx="268.62" cy="579.12" r="2.24" fill="#a0aad4" stroke="#6474bc" stroke-width="0.6"/><circle cx="275.17" cy="548.06" r="3.09" fill="#b0b8d8" stroke="#7080c2" stroke-width="0.68"/><circle cx="279.5" cy="565.18" r="2.72" fill="#cbcfe0" stroke="#a2aacc" stroke-width="0.6"/><circle cx="246.58" cy="533.88" r="2.3" fill="#c0c6de" stroke="#8894c8" stroke-width="0.6"/><circle cx="276.34" cy="532.92" r="2.86" fill="#929ed0" stroke="#5a6ab6" stroke-width="0.63"/><circle cx="286.13" cy="526.97" r="2.87" fill="#b0b8d8" stroke="#7080c2" stroke-width="0.63"/><circle cx="254.44" cy="573.95" r="2.26" fill="#c0c6de" stroke="#8894c8" stroke-width="0.6"/><circle cx="281.36" cy="535.51" r="2.19" fill="#cbcfe0" stroke="#a2aacc" stroke-width="0.6"/><circle cx="244.58" cy="555.29" r="2.14" fill="#b0b8d8" stroke="#7080c2" stroke-width="0.6"/><circle cx="264.94" cy="519.08" r="2.97" fill="#929ed0" stroke="#5a6ab6" stroke-width="0.65"/><circle cx="280.27" cy="542.53" r="2.85" fill="#a0aad4" stroke="#6474bc" stroke-width="0.63"/><circle cx="264.82" cy="543.41" r="2.61" fill="#c0c6de" stroke="#8894c8" stroke-width="0.6"/><circle cx="267.75" cy="558.97" r="2.56" fill="#929ed0" stroke="#5a6ab6" stroke-width="0.6"/><circle cx="246.86" cy="541.51" r="2.03" fill="#c0c6de" stroke="#8894c8" stroke-width="0.6"/><circle cx="298.78" cy="538.26" r="2.81" fill="#c0c6de" stroke="#8894c8" stroke-width="0.62"/><circle cx="276.67" cy="577.76" r="2.28" fill="#a0aad4" stroke="#6474bc" stroke-width="0.6"/><circle cx="255.35" cy="566.96" r="2.29" fill="#cbcfe0" stroke="#a2aacc" stroke-width="0.6"/><circle cx="267.41" cy="537.23" r="2.49" fill="#c0c6de" stroke="#8894c8" stroke-width="0.6"/><circle cx="291.86" cy="543.97" r="2.09" fill="#c0c6de" stroke="#8894c8" stroke-width="0.6"/><circle cx="252.25" cy="535.73" r="3.03" fill="#a0aad4" stroke="#6474bc" stroke-width="0.67"/><circle cx="248.69" cy="528.93" r="2.31" fill="#929ed0" stroke="#5a6ab6" stroke-width="0.6"/><circle cx="265.49" cy="550.28" r="2.08" fill="#cbcfe0" stroke="#a2aacc" stroke-width="0.6"/><circle cx="292.13" cy="566.04" r="2.42" fill="#929ed0" stroke="#5a6ab6" stroke-width="0.6"/><circle cx="277.13" cy="526.55" r="2.61" fill="#cbcfe0" stroke="#a2aacc" stroke-width="0.6"/><circle cx="260.16" cy="538.21" r="2.75" fill="#a0aad4" stroke="#6474bc" stroke-width="0.6"/><circle cx="245.43" cy="549.83" r="2.6" fill="#b0b8d8" stroke="#7080c2" stroke-width="0.6"/></g><g fill="#231f20"><text class="t" x="122" y="459.4" font-size="8" text-anchor="middle">H&amp;E</text><text class="t" x="181.2" y="459.4" font-size="8" text-anchor="middle">SOX10<tspan font-size="4.6" dy="-3.2">–</tspan></text><text class="t" x="241.4" y="459.4" font-size="8" text-anchor="middle">TTF1<tspan font-size="4.6" dy="-3.2">–</tspan></text><text class="t" x="299.4" y="459.4" font-size="8" text-anchor="middle">KRT7<tspan font-size="4.6" dy="-3.2">+</tspan></text><text class="t" x="155.2" y="588.6" font-size="8" text-anchor="middle">SCGB2A2<tspan font-size="4.6" dy="-3.2">–</tspan></text><text class="t" x="209" y="588.6" font-size="8" text-anchor="middle">PAX8<tspan font-size="4.6" dy="-3.2">+/–</tspan></text><text class="t" x="272.2" y="588.6" font-size="8" text-anchor="middle">ESR1/2<tspan font-size="4.6" dy="-3.2">–</tspan></text></g><text class="t" x="56.6" y="476.4" font-size="8" text-anchor="middle">66-yo F</text><text class="t" x="56.6" y="486.05" font-size="8" text-anchor="middle">h/o breast</text><text class="t" x="56.6" y="495.7" font-size="8" text-anchor="middle">cancer</text><g fill="none" stroke="#cdcdcd" stroke-width="0.8" stroke-linejoin="round"><path fill="#f6f6f6" d="M41.5,500 C41,510 42.5,520 42.2,527 C41.5,533 42,540 43.5,545 L44.5,551 L58.5,551 C58,546 57,541 57.5,536 C59,534 61,533 62,532 C68,530 72,525 71.5,519 C71,513 67,510 64.5,509.5 C66.5,507 67,503 64.5,501.5 C62,500 58,500 56,500.5 Z"/><path d="M53,500.5 C54,510 55,522 55.5,533"/><path d="M45,504 C47,515 49,525 52,536 C54,541 57,545 58,548"/><path d="M43,531 C45,536 47,541 48,549"/><path d="M56,509.5 C60,509 63,509.5 64.5,509.5"/></g><line x1="70.2" y1="526.5" x2="81" y2="534.3" stroke="#7a8a86" stroke-width="0.6"/><line x1="80.6" y1="534" x2="88.6" y2="539.8" stroke="#6f9c8d" stroke-width="2.2"/><circle cx="82.9" cy="539.2" r="1.2" fill="none" stroke="#8fb8aa" stroke-width="0.7"/><circle cx="86.3" cy="534.6" r="1.2" fill="none" stroke="#8fb8aa" stroke-width="0.7"/><polyline points="91.5,544.4 96.8,549.2 106,544.8" fill="none" stroke="#111" stroke-width="1.3"/><polygon points="103.6,541 114.6,541.2 108.6,549.8" fill="#111"/><g stroke="#5a5a5a" stroke-width="0.38" fill="none"><line x1="340.2" y1="512.3" x2="361.2" y2="506.5"/><line x1="340.2" y1="512.3" x2="361.2" y2="513.5"/><line x1="340.2" y1="512.3" x2="361.2" y2="522.5"/><line x1="340.2" y1="512.3" x2="361.2" y2="532"/><line x1="340.2" y1="512.3" x2="361.2" y2="541.5"/><line x1="340.2" y1="512.3" x2="361.2" y2="548"/><line x1="340.2" y1="523.6" x2="361.2" y2="506.5"/><line x1="340.2" y1="523.6" x2="361.2" y2="513.5"/><line x1="340.2" y1="523.6" x2="361.2" y2="522.5"/><line x1="340.2" y1="523.6" x2="361.2" y2="532"/><line x1="340.2" y1="523.6" x2="361.2" y2="541.5"/><line x1="340.2" y1="523.6" x2="361.2" y2="548"/><line x1="340.2" y1="535.6" x2="361.2" y2="506.5"/><line x1="340.2" y1="535.6" x2="361.2" y2="513.5"/><line x1="340.2" y1="535.6" x2="361.2" y2="522.5"/><line x1="340.2" y1="535.6" x2="361.2" y2="532"/><line x1="340.2" y1="535.6" x2="361.2" y2="541.5"/><line x1="340.2" y1="535.6" x2="361.2" y2="548"/><line x1="340.2" y1="545.3" x2="361.2" y2="506.5"/><line x1="340.2" y1="545.3" x2="361.2" y2="513.5"/><line x1="340.2" y1="545.3" x2="361.2" y2="522.5"/><line x1="340.2" y1="545.3" x2="361.2" y2="532"/><line x1="340.2" y1="545.3" x2="361.2" y2="541.5"/><line x1="340.2" y1="545.3" x2="361.2" y2="548"/><line x1="361.2" y1="506.5" x2="375.4" y2="506.5"/><line x1="361.2" y1="506.5" x2="375.4" y2="513.5"/><line x1="361.2" y1="506.5" x2="375.4" y2="522.5"/><line x1="361.2" y1="506.5" x2="375.4" y2="532"/><line x1="361.2" y1="506.5" x2="375.4" y2="541.5"/><line x1="361.2" y1="506.5" x2="375.4" y2="548"/><line x1="361.2" y1="513.5" x2="375.4" y2="506.5"/><line x1="361.2" y1="513.5" x2="375.4" y2="513.5"/><line x1="361.2" y1="513.5" x2="375.4" y2="522.5"/><line x1="361.2" y1="513.5" x2="375.4" y2="532"/><line x1="361.2" y1="513.5" x2="375.4" y2="541.5"/><line x1="361.2" y1="513.5" x2="375.4" y2="548"/><line x1="361.2" y1="522.5" x2="375.4" y2="506.5"/><line x1="361.2" y1="522.5" x2="375.4" y2="513.5"/><line x1="361.2" y1="522.5" x2="375.4" y2="522.5"/><line x1="361.2" y1="522.5" x2="375.4" y2="532"/><line x1="361.2" y1="522.5" x2="375.4" y2="541.5"/><line x1="361.2" y1="522.5" x2="375.4" y2="548"/><line x1="361.2" y1="532" x2="375.4" y2="506.5"/><line x1="361.2" y1="532" x2="375.4" y2="513.5"/><line x1="361.2" y1="532" x2="375.4" y2="522.5"/><line x1="361.2" y1="532" x2="375.4" y2="532"/><line x1="361.2" y1="532" x2="375.4" y2="541.5"/><line x1="361.2" y1="532" x2="375.4" y2="548"/><line x1="361.2" y1="541.5" x2="375.4" y2="506.5"/><line x1="361.2" y1="541.5" x2="375.4" y2="513.5"/><line x1="361.2" y1="541.5" x2="375.4" y2="522.5"/><line x1="361.2" y1="541.5" x2="375.4" y2="532"/><line x1="361.2" y1="541.5" x2="375.4" y2="541.5"/><line x1="361.2" y1="541.5" x2="375.4" y2="548"/><line x1="361.2" y1="548" x2="375.4" y2="506.5"/><line x1="361.2" y1="548" x2="375.4" y2="513.5"/><line x1="361.2" y1="548" x2="375.4" y2="522.5"/><line x1="361.2" y1="548" x2="375.4" y2="532"/><line x1="361.2" y1="548" x2="375.4" y2="541.5"/><line x1="361.2" y1="548" x2="375.4" y2="548"/><line x1="375.4" y1="506.5" x2="389.7" y2="506.5"/><line x1="375.4" y1="506.5" x2="389.7" y2="513.5"/><line x1="375.4" y1="506.5" x2="389.7" y2="522.5"/><line x1="375.4" y1="506.5" x2="389.7" y2="532"/><line x1="375.4" y1="506.5" x2="389.7" y2="541.5"/><line x1="375.4" y1="506.5" x2="389.7" y2="548"/><line x1="375.4" y1="513.5" x2="389.7" y2="506.5"/><line x1="375.4" y1="513.5" x2="389.7" y2="513.5"/><line x1="375.4" y1="513.5" x2="389.7" y2="522.5"/><line x1="375.4" y1="513.5" x2="389.7" y2="532"/><line x1="375.4" y1="513.5" x2="389.7" y2="541.5"/><line x1="375.4" y1="513.5" x2="389.7" y2="548"/><line x1="375.4" y1="522.5" x2="389.7" y2="506.5"/><line x1="375.4" y1="522.5" x2="389.7" y2="513.5"/><line x1="375.4" y1="522.5" x2="389.7" y2="522.5"/><line x1="375.4" y1="522.5" x2="389.7" y2="532"/><line x1="375.4" y1="522.5" x2="389.7" y2="541.5"/><line x1="375.4" y1="522.5" x2="389.7" y2="548"/><line x1="375.4" y1="532" x2="389.7" y2="506.5"/><line x1="375.4" y1="532" x2="389.7" y2="513.5"/><line x1="375.4" y1="532" x2="389.7" y2="522.5"/><line x1="375.4" y1="532" x2="389.7" y2="532"/><line x1="375.4" y1="532" x2="389.7" y2="541.5"/><line x1="375.4" y1="532" x2="389.7" y2="548"/><line x1="375.4" y1="541.5" x2="389.7" y2="506.5"/><line x1="375.4" y1="541.5" x2="389.7" y2="513.5"/><line x1="375.4" y1="541.5" x2="389.7" y2="522.5"/><line x1="375.4" y1="541.5" x2="389.7" y2="532"/><line x1="375.4" y1="541.5" x2="389.7" y2="541.5"/><line x1="375.4" y1="541.5" x2="389.7" y2="548"/><line x1="375.4" y1="548" x2="389.7" y2="506.5"/><line x1="375.4" y1="548" x2="389.7" y2="513.5"/><line x1="375.4" y1="548" x2="389.7" y2="522.5"/><line x1="375.4" y1="548" x2="389.7" y2="532"/><line x1="375.4" y1="548" x2="389.7" y2="541.5"/><line x1="375.4" y1="548" x2="389.7" y2="548"/><line x1="389.7" y1="506.5" x2="408.7" y2="508.2"/><line x1="389.7" y1="506.5" x2="408.7" y2="526"/><line x1="389.7" y1="506.5" x2="408.7" y2="541.8"/><line x1="389.7" y1="513.5" x2="408.7" y2="508.2"/><line x1="389.7" y1="513.5" x2="408.7" y2="526"/><line x1="389.7" y1="513.5" x2="408.7" y2="541.8"/><line x1="389.7" y1="522.5" x2="408.7" y2="508.2"/><line x1="389.7" y1="522.5" x2="408.7" y2="526"/><line x1="389.7" y1="522.5" x2="408.7" y2="541.8"/><line x1="389.7" y1="532" x2="408.7" y2="508.2"/><line x1="389.7" y1="532" x2="408.7" y2="526"/><line x1="389.7" y1="532" x2="408.7" y2="541.8"/><line x1="389.7" y1="541.5" x2="408.7" y2="508.2"/><line x1="389.7" y1="541.5" x2="408.7" y2="526"/><line x1="389.7" y1="541.5" x2="408.7" y2="541.8"/><line x1="389.7" y1="548" x2="408.7" y2="508.2"/><line x1="389.7" y1="548" x2="408.7" y2="526"/><line x1="389.7" y1="548" x2="408.7" y2="541.8"/></g><ellipse cx="361.2" cy="527.2" rx="4.3" ry="21" fill="#fdfdfd" stroke="#3a3a3a" stroke-width="0.8"/><circle cx="361.2" cy="514.5" r="3.5" fill="none" stroke="#8a8a8a" stroke-width="0.6"/><circle cx="361.2" cy="523.5" r="3.5" fill="none" stroke="#8a8a8a" stroke-width="0.6"/><circle cx="361.2" cy="532.5" r="3.5" fill="none" stroke="#8a8a8a" stroke-width="0.6"/><circle cx="361.2" cy="541" r="3.5" fill="none" stroke="#8a8a8a" stroke-width="0.6"/><ellipse cx="375.4" cy="527.2" rx="4.3" ry="21" fill="#fdfdfd" stroke="#3a3a3a" stroke-width="0.8"/><circle cx="375.4" cy="514.5" r="3.5" fill="none" stroke="#8a8a8a" stroke-width="0.6"/><circle cx="375.4" cy="523.5" r="3.5" fill="none" stroke="#8a8a8a" stroke-width="0.6"/><circle cx="375.4" cy="532.5" r="3.5" fill="none" stroke="#8a8a8a" stroke-width="0.6"/><circle cx="375.4" cy="541" r="3.5" fill="none" stroke="#8a8a8a" stroke-width="0.6"/><ellipse cx="389.7" cy="527.2" rx="4.3" ry="21" fill="#fdfdfd" stroke="#3a3a3a" stroke-width="0.8"/><circle cx="389.7" cy="514.5" r="3.5" fill="none" stroke="#8a8a8a" stroke-width="0.6"/><circle cx="389.7" cy="523.5" r="3.5" fill="none" stroke="#8a8a8a" stroke-width="0.6"/><circle cx="389.7" cy="532.5" r="3.5" fill="none" stroke="#8a8a8a" stroke-width="0.6"/><circle cx="389.7" cy="541" r="3.5" fill="none" stroke="#8a8a8a" stroke-width="0.6"/><g fill="#444"><circle cx="340.2" cy="512.3" r="1.1"/><circle cx="340.2" cy="523.6" r="1.1"/><circle cx="340.2" cy="535.6" r="1.1"/><circle cx="340.2" cy="545.3" r="1.1"/><circle cx="408.7" cy="508.2" r="1.1"/><circle cx="408.7" cy="526" r="1.1"/><circle cx="408.7" cy="541.8" r="1.1"/></g><text class="t" x="373" y="474" font-size="8" text-anchor="middle">MLP classifier</text><text class="t" x="373" y="483.6" font-size="8" text-anchor="middle">prediction</text><text class="t" x="456.6" y="474" font-size="8" text-anchor="middle">6 months later</text><text class="t" x="456.6" y="483.6" font-size="8" text-anchor="middle">primary identified</text><path d="M445,499.5 C444.5,508 442,516 440,524 C438.3,531 438,540 438.8,551 L456.3,551 L458,541 L459.7,551 L480.8,551 C481.5,540 481,531 479.2,524 C477.2,516 474.6,508 474.2,499.5 Z" fill="#f2f2f2" stroke="#d2d2d2" stroke-width="0.8"/><g fill="none" stroke="#d9a3c0" stroke-width="0.9"><path d="M452,525 C454,522 456,523 458,524.5 M466,524.5 C468,523 470,522 472,525"/><path d="M449.5,527 C449,524 451,522.5 452.5,524.5 M472,524.5 C473.5,522.5 475,524 474.5,527"/></g><path d="M455.5,523.5 L462.5,523.5 C462.5,529 461,532 460,534 L459.5,541 L458.5,541 L458,534 C457,532 455.5,529 455.5,523.5 Z" fill="#e9b3cd" stroke="#d694b6" stroke-width="0.5"/><circle cx="466.2" cy="530.4" r="2.9" fill="#8e1a28"/><circle cx="466.2" cy="530.4" r="3.8" fill="none" stroke="#d88aa0" stroke-width="0.7" opacity="0.7"/><g stroke="#231f20" stroke-width="1.05" stroke-dasharray="2.9,1.7"><line x1="56.6" y1="557.5" x2="56.6" y2="608.5"/><line x1="210.8" y1="594.8" x2="210.8" y2="609.4"/><line x1="363.3" y1="555.8" x2="363.3" y2="609.4"/><line x1="457.6" y1="556.5" x2="457.6" y2="608.2"/></g><rect x="42.9" y="614.6" width="24.8" height="83.9" fill="#fff" stroke="#3a3a3a" stroke-width="0.6"/><rect x="42.9" y="614.6" width="24.8" height="3.11" fill="#8b5a2b"/><rect x="42.9" y="617.71" width="24.8" height="3.11" fill="#f2c6c6"/><rect x="42.9" y="620.81" width="24.8" height="3.11" fill="#e0359a"/><rect x="42.9" y="623.92" width="24.8" height="3.11" fill="#f59d22"/><rect x="42.9" y="627.03" width="24.8" height="3.11" fill="#2a2a80"/><rect x="42.9" y="630.14" width="24.8" height="3.11" fill="#46c0d2"/><rect x="42.9" y="633.24" width="24.8" height="3.11" fill="#d9414f"/><rect x="42.9" y="636.35" width="24.8" height="3.11" fill="#3b7fd0"/><rect x="42.9" y="639.46" width="24.8" height="3.11" fill="#7fb884"/><rect x="42.9" y="642.57" width="24.8" height="3.11" fill="#a01c22"/><rect x="42.9" y="645.67" width="24.8" height="3.11" fill="#874628"/><rect x="42.9" y="648.78" width="24.8" height="3.11" fill="#a9b9d9"/><rect x="42.9" y="651.89" width="24.8" height="3.11" fill="#d98fc8"/><rect x="42.9" y="655" width="24.8" height="3.11" fill="#4c2c92"/><rect x="42.9" y="658.1" width="24.8" height="3.11" fill="#c97a30"/><rect x="42.9" y="661.21" width="24.8" height="3.11" fill="#4e6b8c"/><rect x="42.9" y="664.32" width="24.8" height="3.11" fill="#f2a62a"/><rect x="42.9" y="667.43" width="24.8" height="3.11" fill="#7a1212"/><rect x="42.9" y="670.53" width="24.8" height="3.11" fill="#2c7a5c"/><rect x="42.9" y="673.64" width="24.8" height="3.11" fill="#b9a86c"/><rect x="42.9" y="676.75" width="24.8" height="3.11" fill="#5cc63c"/><rect x="42.9" y="679.86" width="24.8" height="3.11" fill="#e62222"/><rect x="42.9" y="682.96" width="24.8" height="3.11" fill="#f8c81c"/><rect x="42.9" y="686.07" width="24.8" height="3.11" fill="#c9a985"/><rect x="42.9" y="689.18" width="24.8" height="3.11" fill="#fcd2b4"/><rect x="42.9" y="692.29" width="24.8" height="3.11" fill="#f47e22"/><rect x="42.9" y="695.39" width="24.8" height="3.11" fill="#1c5a2c"/><line x1="42.9" y1="617.71" x2="67.7" y2="617.71" stroke="#4a4a4a" stroke-width="0.6"/><line x1="42.9" y1="620.81" x2="67.7" y2="620.81" stroke="#4a4a4a" stroke-width="0.6"/><line x1="42.9" y1="623.92" x2="67.7" y2="623.92" stroke="#4a4a4a" stroke-width="0.6"/><line x1="42.9" y1="627.03" x2="67.7" y2="627.03" stroke="#4a4a4a" stroke-width="0.6"/><line x1="42.9" y1="630.14" x2="67.7" y2="630.14" stroke="#4a4a4a" stroke-width="0.6"/><line x1="42.9" y1="633.24" x2="67.7" y2="633.24" stroke="#4a4a4a" stroke-width="0.6"/><line x1="42.9" y1="636.35" x2="67.7" y2="636.35" stroke="#4a4a4a" stroke-width="0.6"/><line x1="42.9" y1="639.46" x2="67.7" y2="639.46" stroke="#4a4a4a" stroke-width="0.6"/><line x1="42.9" y1="642.57" x2="67.7" y2="642.57" stroke="#4a4a4a" stroke-width="0.6"/><line x1="42.9" y1="645.67" x2="67.7" y2="645.67" stroke="#4a4a4a" stroke-width="0.6"/><line x1="42.9" y1="648.78" x2="67.7" y2="648.78" stroke="#4a4a4a" stroke-width="0.6"/><line x1="42.9" y1="651.89" x2="67.7" y2="651.89" stroke="#4a4a4a" stroke-width="0.6"/><line x1="42.9" y1="655" x2="67.7" y2="655" stroke="#4a4a4a" stroke-width="0.6"/><line x1="42.9" y1="658.1" x2="67.7" y2="658.1" stroke="#4a4a4a" stroke-width="0.6"/><line x1="42.9" y1="661.21" x2="67.7" y2="661.21" stroke="#4a4a4a" stroke-width="0.6"/><line x1="42.9" y1="664.32" x2="67.7" y2="664.32" stroke="#4a4a4a" stroke-width="0.6"/><line x1="42.9" y1="667.43" x2="67.7" y2="667.43" stroke="#4a4a4a" stroke-width="0.6"/><line x1="42.9" y1="670.53" x2="67.7" y2="670.53" stroke="#4a4a4a" stroke-width="0.6"/><line x1="42.9" y1="673.64" x2="67.7" y2="673.64" stroke="#4a4a4a" stroke-width="0.6"/><line x1="42.9" y1="676.75" x2="67.7" y2="676.75" stroke="#4a4a4a" stroke-width="0.6"/><line x1="42.9" y1="679.86" x2="67.7" y2="679.86" stroke="#4a4a4a" stroke-width="0.6"/><line x1="42.9" y1="682.96" x2="67.7" y2="682.96" stroke="#4a4a4a" stroke-width="0.6"/><line x1="42.9" y1="686.07" x2="67.7" y2="686.07" stroke="#4a4a4a" stroke-width="0.6"/><line x1="42.9" y1="689.18" x2="67.7" y2="689.18" stroke="#4a4a4a" stroke-width="0.6"/><line x1="42.9" y1="692.29" x2="67.7" y2="692.29" stroke="#4a4a4a" stroke-width="0.6"/><line x1="42.9" y1="695.39" x2="67.7" y2="695.39" stroke="#4a4a4a" stroke-width="0.6"/><rect x="42.9" y="614.6" width="24.8" height="83.9" fill="none" stroke="#3a3a3a" stroke-width="0.6"/><rect x="197.3" y="614.3" width="24.4" height="84.3" fill="#fff" stroke="#3a3a3a" stroke-width="0.6"/><rect x="197.3" y="617.42" width="24.4" height="3.12" fill="#f2c6c6"/><rect x="197.3" y="623.67" width="24.4" height="3.12" fill="#f59d22"/><rect x="197.3" y="629.91" width="24.4" height="3.12" fill="#46c0d2"/><rect x="197.3" y="642.4" width="24.4" height="3.12" fill="#a01c22"/><rect x="197.3" y="648.64" width="24.4" height="3.12" fill="#a9b9d9"/><rect x="197.3" y="651.77" width="24.4" height="3.12" fill="#d98fc8"/><rect x="197.3" y="658.01" width="24.4" height="3.12" fill="#c97a30"/><rect x="197.3" y="667.38" width="24.4" height="3.12" fill="#7a1212"/><rect x="197.3" y="676.74" width="24.4" height="3.12" fill="#5cc63c"/><rect x="197.3" y="689.23" width="24.4" height="3.12" fill="#fcd2b4"/><rect x="197.3" y="692.36" width="24.4" height="3.12" fill="#f47e22"/><line x1="197.3" y1="617.42" x2="221.7" y2="617.42" stroke="#4a4a4a" stroke-width="0.6"/><line x1="197.3" y1="620.54" x2="221.7" y2="620.54" stroke="#4a4a4a" stroke-width="0.6"/><line x1="197.3" y1="623.67" x2="221.7" y2="623.67" stroke="#4a4a4a" stroke-width="0.6"/><line x1="197.3" y1="626.79" x2="221.7" y2="626.79" stroke="#4a4a4a" stroke-width="0.6"/><line x1="197.3" y1="629.91" x2="221.7" y2="629.91" stroke="#4a4a4a" stroke-width="0.6"/><line x1="197.3" y1="633.03" x2="221.7" y2="633.03" stroke="#4a4a4a" stroke-width="0.6"/><line x1="197.3" y1="636.16" x2="221.7" y2="636.16" stroke="#4a4a4a" stroke-width="0.6"/><line x1="197.3" y1="639.28" x2="221.7" y2="639.28" stroke="#4a4a4a" stroke-width="0.6"/><line x1="197.3" y1="642.4" x2="221.7" y2="642.4" stroke="#4a4a4a" stroke-width="0.6"/><line x1="197.3" y1="645.52" x2="221.7" y2="645.52" stroke="#4a4a4a" stroke-width="0.6"/><line x1="197.3" y1="648.64" x2="221.7" y2="648.64" stroke="#4a4a4a" stroke-width="0.6"/><line x1="197.3" y1="651.77" x2="221.7" y2="651.77" stroke="#4a4a4a" stroke-width="0.6"/><line x1="197.3" y1="654.89" x2="221.7" y2="654.89" stroke="#4a4a4a" stroke-width="0.6"/><line x1="197.3" y1="658.01" x2="221.7" y2="658.01" stroke="#4a4a4a" stroke-width="0.6"/><line x1="197.3" y1="661.13" x2="221.7" y2="661.13" stroke="#4a4a4a" stroke-width="0.6"/><line x1="197.3" y1="664.26" x2="221.7" y2="664.26" stroke="#4a4a4a" stroke-width="0.6"/><line x1="197.3" y1="667.38" x2="221.7" y2="667.38" stroke="#4a4a4a" stroke-width="0.6"/><line x1="197.3" y1="670.5" x2="221.7" y2="670.5" stroke="#4a4a4a" stroke-width="0.6"/><line x1="197.3" y1="673.62" x2="221.7" y2="673.62" stroke="#4a4a4a" stroke-width="0.6"/><line x1="197.3" y1="676.74" x2="221.7" y2="676.74" stroke="#4a4a4a" stroke-width="0.6"/><line x1="197.3" y1="679.87" x2="221.7" y2="679.87" stroke="#4a4a4a" stroke-width="0.6"/><line x1="197.3" y1="682.99" x2="221.7" y2="682.99" stroke="#4a4a4a" stroke-width="0.6"/><line x1="197.3" y1="686.11" x2="221.7" y2="686.11" stroke="#4a4a4a" stroke-width="0.6"/><line x1="197.3" y1="689.23" x2="221.7" y2="689.23" stroke="#4a4a4a" stroke-width="0.6"/><line x1="197.3" y1="692.36" x2="221.7" y2="692.36" stroke="#4a4a4a" stroke-width="0.6"/><line x1="197.3" y1="695.48" x2="221.7" y2="695.48" stroke="#4a4a4a" stroke-width="0.6"/><rect x="197.3" y="614.3" width="24.4" height="84.3" fill="none" stroke="#3a3a3a" stroke-width="0.6"/><rect x="350.8" y="614" width="25" height="84.7" fill="#fff" stroke="#3a3a3a" stroke-width="0.6"/><rect x="350.8" y="657.92" width="25" height="3.14" fill="#c97a30"/><line x1="350.8" y1="617.14" x2="375.8" y2="617.14" stroke="#4a4a4a" stroke-width="0.6"/><line x1="350.8" y1="620.27" x2="375.8" y2="620.27" stroke="#4a4a4a" stroke-width="0.6"/><line x1="350.8" y1="623.41" x2="375.8" y2="623.41" stroke="#4a4a4a" stroke-width="0.6"/><line x1="350.8" y1="626.55" x2="375.8" y2="626.55" stroke="#4a4a4a" stroke-width="0.6"/><line x1="350.8" y1="629.69" x2="375.8" y2="629.69" stroke="#4a4a4a" stroke-width="0.6"/><line x1="350.8" y1="632.82" x2="375.8" y2="632.82" stroke="#4a4a4a" stroke-width="0.6"/><line x1="350.8" y1="635.96" x2="375.8" y2="635.96" stroke="#4a4a4a" stroke-width="0.6"/><line x1="350.8" y1="639.1" x2="375.8" y2="639.1" stroke="#4a4a4a" stroke-width="0.6"/><line x1="350.8" y1="642.23" x2="375.8" y2="642.23" stroke="#4a4a4a" stroke-width="0.6"/><line x1="350.8" y1="645.37" x2="375.8" y2="645.37" stroke="#4a4a4a" stroke-width="0.6"/><line x1="350.8" y1="648.51" x2="375.8" y2="648.51" stroke="#4a4a4a" stroke-width="0.6"/><line x1="350.8" y1="651.64" x2="375.8" y2="651.64" stroke="#4a4a4a" stroke-width="0.6"/><line x1="350.8" y1="654.78" x2="375.8" y2="654.78" stroke="#4a4a4a" stroke-width="0.6"/><line x1="350.8" y1="657.92" x2="375.8" y2="657.92" stroke="#4a4a4a" stroke-width="0.6"/><line x1="350.8" y1="661.06" x2="375.8" y2="661.06" stroke="#4a4a4a" stroke-width="0.6"/><line x1="350.8" y1="664.19" x2="375.8" y2="664.19" stroke="#4a4a4a" stroke-width="0.6"/><line x1="350.8" y1="667.33" x2="375.8" y2="667.33" stroke="#4a4a4a" stroke-width="0.6"/><line x1="350.8" y1="670.47" x2="375.8" y2="670.47" stroke="#4a4a4a" stroke-width="0.6"/><line x1="350.8" y1="673.6" x2="375.8" y2="673.6" stroke="#4a4a4a" stroke-width="0.6"/><line x1="350.8" y1="676.74" x2="375.8" y2="676.74" stroke="#4a4a4a" stroke-width="0.6"/><line x1="350.8" y1="679.88" x2="375.8" y2="679.88" stroke="#4a4a4a" stroke-width="0.6"/><line x1="350.8" y1="683.01" x2="375.8" y2="683.01" stroke="#4a4a4a" stroke-width="0.6"/><line x1="350.8" y1="686.15" x2="375.8" y2="686.15" stroke="#4a4a4a" stroke-width="0.6"/><line x1="350.8" y1="689.29" x2="375.8" y2="689.29" stroke="#4a4a4a" stroke-width="0.6"/><line x1="350.8" y1="692.43" x2="375.8" y2="692.43" stroke="#4a4a4a" stroke-width="0.6"/><line x1="350.8" y1="695.56" x2="375.8" y2="695.56" stroke="#4a4a4a" stroke-width="0.6"/><rect x="350.8" y="614" width="25" height="84.7" fill="none" stroke="#3a3a3a" stroke-width="0.6"/><text class="t" x="35.3" y="702.2" font-size="7.85" font-weight="bold" transform="rotate(-90 35.3 702.2)">Diagnostic possibilities:</text><text class="t" x="54.9" y="706.9" font-size="8" text-anchor="middle">All</text><text class="t" x="74" y="624.8" font-size="8">Presentation with</text><text class="t" x="74" y="634.8" font-size="8">ascites fluid</text><text class="t" x="227.7" y="625.9" font-size="8">Histopathology and</text><text class="t" x="227.7" y="635.6" font-size="8">mutation profiling</text><text class="t" x="209.3" y="706.6" font-size="8" text-anchor="middle">All GU - GYN - GI</text><text class="t" x="363.3" y="708.3" font-size="8" text-anchor="middle">MLP classifier</text><text class="t" x="363.3" y="716.5" font-size="8" text-anchor="middle">predicts ovarian</text><text class="t" x="363.3" y="724.7" font-size="8" text-anchor="middle">cancer</text><text class="t" x="454.5" y="707.9" font-size="8" text-anchor="middle">Proven</text><text class="t" x="454.5" y="716.5" font-size="8" text-anchor="middle">ovarian serous</text><text class="t" x="454.5" y="725.1" font-size="8" text-anchor="middle">carcinoma</text><rect x="417.2" y="614.6" width="75.3" height="85.3" fill="#0a0706"/><defs><linearGradient id="tum" x1="0" x2="0" y1="0" y2="1"><stop offset="0" stop-color="#c08a6c"/><stop offset="0.42" stop-color="#ac7460"/><stop offset="0.6" stop-color="#76505a"/><stop offset="1" stop-color="#54343e"/></linearGradient><clipPath id="tcl"><path id="tshape" d="M437.7,617.9 C445,615.5 455,615.5 461.3,617.1 C467,620 471,624 474,629 C477,633 478.5,636 479.5,638.4 C481.5,643 482.8,646 483.4,649.4 C485,653 486,656 485.8,659 C485.5,663 484.5,666 483.4,668.4 C480,670.5 477,671.2 474,671.5 C465,671.8 455,671 445.5,670.7 C438,670.3 432,669.8 428.2,669 C425.5,665 424.3,661 424.3,657.3 C424.2,653 424.5,649 425,646.3 C426,641 427.5,637 429,633.7 C430.5,630 431.5,627 433,624.2 C434.5,621 436,619 437.7,617.9 Z"/></clipPath></defs><path d="M437.7,617.9 C445,615.5 455,615.5 461.3,617.1 C467,620 471,624 474,629 C477,633 478.5,636 479.5,638.4 C481.5,643 482.8,646 483.4,649.4 C485,653 486,656 485.8,659 C485.5,663 484.5,666 483.4,668.4 C480,670.5 477,671.2 474,671.5 C465,671.8 455,671 445.5,670.7 C438,670.3 432,669.8 428.2,669 C425.5,665 424.3,661 424.3,657.3 C424.2,653 424.5,649 425,646.3 C426,641 427.5,637 429,633.7 C430.5,630 431.5,627 433,624.2 C434.5,621 436,619 437.7,617.9 Z" fill="url(#tum)"/><g clip-path="url(#tcl)"><ellipse cx="447.39" cy="628.92" rx="2.42" ry="1.14" fill="#9a6452" opacity="0.55"/><ellipse cx="480.37" cy="631.87" rx="1.49" ry="1.62" fill="#b07a66" opacity="0.55"/><ellipse cx="459.89" cy="659.75" rx="2.6" ry="0.63" fill="#8a6670" opacity="0.55"/><ellipse cx="483.72" cy="671.25" rx="1.37" ry="0.96" fill="#8a6670" opacity="0.55"/><ellipse cx="467.24" cy="648.69" rx="2.21" ry="0.65" fill="#4a2a34" opacity="0.55"/><ellipse cx="478.48" cy="663.1" rx="0.93" ry="1.1" fill="#7a5058" opacity="0.55"/><ellipse cx="453.41" cy="647.09" rx="1.02" ry="1.88" fill="#c8927a" opacity="0.55"/><ellipse cx="467.09" cy="670.88" rx="1.28" ry="0.92" fill="#4a2a34" opacity="0.55"/><ellipse cx="424.67" cy="648.36" rx="2.4" ry="1.79" fill="#3e2430" opacity="0.55"/><ellipse cx="442.29" cy="624.17" rx="0.97" ry="0.63" fill="#8a5a50" opacity="0.55"/><ellipse cx="465.02" cy="664.13" rx="0.84" ry="0.79" fill="#7a5058" opacity="0.55"/><ellipse cx="452.34" cy="656.78" rx="1.76" ry="0.99" fill="#3e2430" opacity="0.55"/><ellipse cx="424.8" cy="616.8" rx="1.38" ry="0.79" fill="#d0a090" opacity="0.55"/><ellipse cx="427.21" cy="618.22" rx="2.37" ry="1.65" fill="#8a5a50" opacity="0.55"/><ellipse cx="430" cy="652.99" rx="2.41" ry="1.18" fill="#7a5058" opacity="0.55"/><ellipse cx="468.43" cy="620.78" rx="1.55" ry="1.79" fill="#a87060" opacity="0.55"/><ellipse cx="484.55" cy="629.54" rx="1.45" ry="1.24" fill="#d0a090" opacity="0.55"/><ellipse cx="469.21" cy="660.18" rx="2.54" ry="0.99" fill="#4a2a34" opacity="0.55"/><ellipse cx="436.54" cy="654.42" rx="1.48" ry="1.59" fill="#a07a84" opacity="0.55"/><ellipse cx="474.71" cy="650.87" rx="2.15" ry="1.62" fill="#a07a84" opacity="0.55"/><ellipse cx="436.72" cy="625.2" rx="1.21" ry="1.26" fill="#c8927a" opacity="0.55"/><ellipse cx="438.41" cy="671.32" rx="1.82" ry="0.82" fill="#5e3c46" opacity="0.55"/><ellipse cx="444.06" cy="628.79" rx="2.1" ry="1.75" fill="#8a5a50" opacity="0.55"/><ellipse cx="451.62" cy="657.43" rx="1.79" ry="1.3" fill="#7a5058" opacity="0.55"/><ellipse cx="485.12" cy="666.05" rx="0.85" ry="1.43" fill="#a07a84" opacity="0.55"/><ellipse cx="483.27" cy="651.75" rx="1.73" ry="1.89" fill="#5e3c46" opacity="0.55"/><ellipse cx="449.32" cy="670.47" rx="0.88" ry="1.53" fill="#4a2a34" opacity="0.55"/><ellipse cx="467.4" cy="627.99" rx="2.46" ry="1.87" fill="#d0a090" opacity="0.55"/><ellipse cx="442.7" cy="624.5" rx="1.9" ry="1.76" fill="#d0a090" opacity="0.55"/><ellipse cx="478.61" cy="631.65" rx="1.55" ry="1.16" fill="#a87060" opacity="0.55"/><ellipse cx="454.46" cy="663.65" rx="1.7" ry="1.43" fill="#4a2a34" opacity="0.55"/><ellipse cx="437.91" cy="626.22" rx="1.32" ry="0.95" fill="#d0a090" opacity="0.55"/><ellipse cx="453.18" cy="647.88" rx="0.9" ry="1.76" fill="#d0a090" opacity="0.55"/><ellipse cx="468.85" cy="655.66" rx="2.16" ry="1.48" fill="#4a2a34" opacity="0.55"/><ellipse cx="449.4" cy="643.92" rx="1.84" ry="1.2" fill="#b07a66" opacity="0.55"/><ellipse cx="424.05" cy="625.28" rx="1.72" ry="0.81" fill="#a87060" opacity="0.55"/><ellipse cx="464.93" cy="645.73" rx="1.22" ry="1.79" fill="#c8927a" opacity="0.55"/><ellipse cx="462.81" cy="647.19" rx="2.11" ry="1.14" fill="#a87060" opacity="0.55"/><ellipse cx="434.92" cy="645.51" rx="1.72" ry="0.86" fill="#a87060" opacity="0.55"/><ellipse cx="427.09" cy="646.13" rx="1.14" ry="0.85" fill="#c8927a" opacity="0.55"/><ellipse cx="454.01" cy="658.23" rx="0.83" ry="1.03" fill="#3e2430" opacity="0.55"/><ellipse cx="442.48" cy="661.13" rx="2.3" ry="2" fill="#5e3c46" opacity="0.55"/><ellipse cx="465.86" cy="658.14" rx="1.72" ry="0.85" fill="#a07a84" opacity="0.55"/><ellipse cx="427.6" cy="637.79" rx="2.36" ry="0.84" fill="#9a6452" opacity="0.55"/><ellipse cx="433.18" cy="621.01" rx="1.37" ry="1.86" fill="#c8927a" opacity="0.55"/><ellipse cx="443.03" cy="662.86" rx="0.89" ry="1.19" fill="#7a5058" opacity="0.55"/><ellipse cx="475.74" cy="662.46" rx="2.41" ry="1.88" fill="#4a2a34" opacity="0.55"/><ellipse cx="484.68" cy="631.42" rx="1.42" ry="0.84" fill="#b07a66" opacity="0.55"/><ellipse cx="480.58" cy="642.45" rx="2.19" ry="1.17" fill="#a87060" opacity="0.55"/><ellipse cx="465.15" cy="653.48" rx="1.76" ry="0.98" fill="#5e3c46" opacity="0.55"/><ellipse cx="467.29" cy="666.63" rx="2.25" ry="0.64" fill="#7a5058" opacity="0.55"/><ellipse cx="440.66" cy="618.97" rx="1.38" ry="1" fill="#8a5a50" opacity="0.55"/><ellipse cx="482.28" cy="632.37" rx="0.97" ry="1.78" fill="#b07a66" opacity="0.55"/><ellipse cx="486.67" cy="633.1" rx="2.38" ry="1.37" fill="#d0a090" opacity="0.55"/><ellipse cx="469.01" cy="636.93" rx="1.47" ry="1.7" fill="#9a6452" opacity="0.55"/><ellipse cx="461.4" cy="653.21" rx="1.98" ry="0.65" fill="#3e2430" opacity="0.55"/><ellipse cx="435.97" cy="632.59" rx="0.84" ry="1.29" fill="#b07a66" opacity="0.55"/><ellipse cx="467.16" cy="644.56" rx="2.53" ry="1.8" fill="#a87060" opacity="0.55"/><ellipse cx="462.8" cy="670.98" rx="1.02" ry="1.17" fill="#8a6670" opacity="0.55"/><ellipse cx="465.05" cy="646.81" rx="2.41" ry="1.73" fill="#8a5a50" opacity="0.55"/><ellipse cx="467.09" cy="661.51" rx="2.55" ry="1.68" fill="#8a6670" opacity="0.55"/><ellipse cx="424.04" cy="669.05" rx="1.29" ry="1.96" fill="#5e3c46" opacity="0.55"/><ellipse cx="447.83" cy="666.14" rx="1.91" ry="1.46" fill="#7a5058" opacity="0.55"/><ellipse cx="428.53" cy="667.68" rx="1.53" ry="1.1" fill="#5e3c46" opacity="0.55"/><ellipse cx="435.78" cy="657.32" rx="2.45" ry="1.86" fill="#5e3c46" opacity="0.55"/><ellipse cx="456.27" cy="644.62" rx="2.05" ry="0.89" fill="#8a5a50" opacity="0.55"/><ellipse cx="483.38" cy="651.61" rx="1.67" ry="1.63" fill="#a07a84" opacity="0.55"/><ellipse cx="438.66" cy="628.52" rx="2.29" ry="0.71" fill="#c8927a" opacity="0.55"/><ellipse cx="474.33" cy="631.05" rx="2.24" ry="1.94" fill="#b07a66" opacity="0.55"/><ellipse cx="434.17" cy="671.14" rx="1.11" ry="1.42" fill="#7a5058" opacity="0.55"/><ellipse cx="473.09" cy="620.54" rx="1.8" ry="1.91" fill="#c8927a" opacity="0.55"/><ellipse cx="473.03" cy="652.27" rx="1.16" ry="0.99" fill="#4a2a34" opacity="0.55"/><ellipse cx="438.55" cy="620.24" rx="0.95" ry="0.83" fill="#b07a66" opacity="0.55"/><ellipse cx="427.36" cy="656.16" rx="1.78" ry="0.95" fill="#7a5058" opacity="0.55"/><ellipse cx="436.99" cy="620.7" rx="2.32" ry="1.3" fill="#a87060" opacity="0.55"/><ellipse cx="451.52" cy="666.99" rx="1.92" ry="1.03" fill="#3e2430" opacity="0.55"/><ellipse cx="483.17" cy="617.28" rx="1.32" ry="1.27" fill="#9a6452" opacity="0.55"/><ellipse cx="478.02" cy="668.99" rx="1.22" ry="1.08" fill="#a07a84" opacity="0.55"/><ellipse cx="430.15" cy="632.22" rx="2.34" ry="1.97" fill="#b07a66" opacity="0.55"/><ellipse cx="436.67" cy="616.33" rx="2.42" ry="1.34" fill="#8a5a50" opacity="0.55"/><ellipse cx="470.93" cy="653.52" rx="1.57" ry="0.7" fill="#5e3c46" opacity="0.55"/><ellipse cx="467.78" cy="642.08" rx="0.98" ry="1.2" fill="#8a5a50" opacity="0.55"/><ellipse cx="449" cy="623.31" rx="0.83" ry="1.22" fill="#c8927a" opacity="0.55"/><ellipse cx="438.79" cy="638.87" rx="2.53" ry="1.16" fill="#b07a66" opacity="0.55"/><ellipse cx="468.57" cy="665.98" rx="1.3" ry="0.65" fill="#a07a84" opacity="0.55"/><ellipse cx="471.19" cy="657.13" rx="2.41" ry="0.86" fill="#7a5058" opacity="0.55"/><ellipse cx="466.58" cy="651.33" rx="2.21" ry="1.41" fill="#4a2a34" opacity="0.55"/><ellipse cx="484.02" cy="655.33" rx="0.89" ry="1.44" fill="#3e2430" opacity="0.55"/><ellipse cx="473.93" cy="631.63" rx="2.01" ry="1.22" fill="#9a6452" opacity="0.55"/><ellipse cx="451.6" cy="659.1" rx="2.25" ry="1.31" fill="#7a5058" opacity="0.55"/><ellipse cx="424.35" cy="626.82" rx="0.89" ry="1.54" fill="#b07a66" opacity="0.55"/><ellipse cx="474.2" cy="653.06" rx="1.74" ry="1.43" fill="#5e3c46" opacity="0.55"/><ellipse cx="486.63" cy="669.75" rx="1.38" ry="1.79" fill="#a07a84" opacity="0.55"/><ellipse cx="483.6" cy="668.14" rx="0.84" ry="1.21" fill="#7a5058" opacity="0.55"/><ellipse cx="448.7" cy="661.38" rx="2.52" ry="0.78" fill="#8a6670" opacity="0.55"/><ellipse cx="457.08" cy="650.02" rx="1.72" ry="0.82" fill="#8a6670" opacity="0.55"/><ellipse cx="465.3" cy="618.78" rx="0.99" ry="1.48" fill="#8a5a50" opacity="0.55"/><ellipse cx="431.45" cy="653.5" rx="1.18" ry="1.77" fill="#5e3c46" opacity="0.55"/><ellipse cx="429.82" cy="658.88" rx="2.18" ry="0.82" fill="#3e2430" opacity="0.55"/><ellipse cx="472.55" cy="625.93" rx="1.77" ry="0.77" fill="#c8927a" opacity="0.55"/><ellipse cx="444.29" cy="646.92" rx="2.47" ry="0.96" fill="#b07a66" opacity="0.55"/><ellipse cx="478.66" cy="635.6" rx="1.02" ry="1.92" fill="#d0a090" opacity="0.55"/><ellipse cx="451.51" cy="629.21" rx="2.59" ry="0.69" fill="#d0a090" opacity="0.55"/><ellipse cx="450.97" cy="652.49" rx="1.74" ry="1.07" fill="#5e3c46" opacity="0.55"/><ellipse cx="439.73" cy="617.18" rx="1.78" ry="0.61" fill="#8a5a50" opacity="0.55"/><ellipse cx="469.59" cy="649.19" rx="1.92" ry="0.81" fill="#3e2430" opacity="0.55"/><ellipse cx="439.6" cy="650.32" rx="1.61" ry="1.5" fill="#7a5058" opacity="0.55"/><ellipse cx="483.91" cy="644.29" rx="1.15" ry="1.49" fill="#d0a090" opacity="0.55"/><ellipse cx="432.52" cy="624.57" rx="1.19" ry="1.66" fill="#8a5a50" opacity="0.55"/><ellipse cx="464.15" cy="632.06" rx="1.2" ry="1.93" fill="#a87060" opacity="0.55"/><ellipse cx="452.73" cy="625.65" rx="1.4" ry="1.49" fill="#8a5a50" opacity="0.55"/><ellipse cx="474.57" cy="632.97" rx="1.88" ry="1.82" fill="#8a5a50" opacity="0.55"/><ellipse cx="426.25" cy="639.83" rx="2.02" ry="1.88" fill="#9a6452" opacity="0.55"/><ellipse cx="471.4" cy="646.64" rx="2.03" ry="1.69" fill="#a87060" opacity="0.55"/><ellipse cx="480.71" cy="648.54" rx="1.43" ry="1.99" fill="#5e3c46" opacity="0.55"/><ellipse cx="439.53" cy="654.59" rx="1.73" ry="0.87" fill="#8a6670" opacity="0.55"/><ellipse cx="473.91" cy="626.6" rx="0.95" ry="1.1" fill="#b07a66" opacity="0.55"/><ellipse cx="486.85" cy="626.74" rx="2.21" ry="1.83" fill="#c8927a" opacity="0.55"/><ellipse cx="476.54" cy="660.62" rx="2.26" ry="1.54" fill="#3e2430" opacity="0.55"/><ellipse cx="440.05" cy="634.04" rx="2.58" ry="1.41" fill="#b07a66" opacity="0.55"/><ellipse cx="481.16" cy="644.95" rx="0.95" ry="1.22" fill="#a87060" opacity="0.55"/><ellipse cx="456.34" cy="656.71" rx="2.46" ry="1.62" fill="#4a2a34" opacity="0.55"/><ellipse cx="473.43" cy="645.53" rx="1.59" ry="1.6" fill="#8a5a50" opacity="0.55"/><ellipse cx="456.94" cy="649.34" rx="0.95" ry="1.88" fill="#8a6670" opacity="0.55"/><ellipse cx="485.8" cy="618.74" rx="1.96" ry="0.69" fill="#8a5a50" opacity="0.55"/><ellipse cx="431.44" cy="620.45" rx="2.44" ry="1.48" fill="#9a6452" opacity="0.55"/><ellipse cx="483.01" cy="627.73" rx="2.07" ry="1.22" fill="#8a5a50" opacity="0.55"/><ellipse cx="439.83" cy="666.39" rx="1.21" ry="1.87" fill="#a07a84" opacity="0.55"/><ellipse cx="449.79" cy="635.59" rx="1.79" ry="0.8" fill="#9a6452" opacity="0.55"/><ellipse cx="432.74" cy="621.9" rx="2.51" ry="1.92" fill="#8a5a50" opacity="0.55"/><ellipse cx="437" cy="655.86" rx="1.52" ry="1.11" fill="#4a2a34" opacity="0.55"/><ellipse cx="482.31" cy="655.36" rx="1.98" ry="1.95" fill="#7a5058" opacity="0.55"/><ellipse cx="471.93" cy="616.02" rx="1.96" ry="1.42" fill="#c8927a" opacity="0.55"/><ellipse cx="449.65" cy="661.4" rx="1.85" ry="0.91" fill="#a07a84" opacity="0.55"/><ellipse cx="440.66" cy="665.46" rx="2.24" ry="1.82" fill="#7a5058" opacity="0.55"/><ellipse cx="477.88" cy="647.57" rx="1.48" ry="0.87" fill="#8a5a50" opacity="0.55"/><ellipse cx="428.87" cy="651" rx="2.14" ry="0.62" fill="#a07a84" opacity="0.55"/><ellipse cx="436.27" cy="635.64" rx="0.97" ry="1.13" fill="#8a5a50" opacity="0.55"/><ellipse cx="451.22" cy="628.9" rx="1.48" ry="1.93" fill="#c8927a" opacity="0.55"/><ellipse cx="460.18" cy="635.38" rx="2.32" ry="1.73" fill="#9a6452" opacity="0.55"/><ellipse cx="447" cy="631" rx="10.5" ry="10" fill="#94604e" opacity="0.85"/><ellipse cx="447" cy="631" rx="10.5" ry="10" fill="none" stroke="#d09a80" stroke-width="1.6" opacity="0.8"/><ellipse cx="466" cy="633" rx="5" ry="8" fill="#b88470" opacity="0.7"/><ellipse cx="477" cy="640" rx="4.5" ry="6" fill="#dcb4a4" opacity="0.8"/><ellipse cx="462" cy="650" rx="6" ry="3" fill="#c89a8e" opacity="0.6"/><ellipse cx="456" cy="648" rx="5" ry="3" fill="#6a4a58" opacity="0.6"/></g><text x="421" y="681.3" font-size="5.5" fill="#e6e6e6" font-weight="bold">METRIC</text><text x="446.2" y="681.3" font-size="5.5" fill="#e6e6e6" font-weight="bold">1</text><text x="476.2" y="681.3" font-size="5.5" fill="#e6e6e6" font-weight="bold">2</text><g stroke="#b8b8b8" stroke-width="0.8"><line x1="420.3" y1="678" x2="420.3" y2="697.9"/><line x1="423.33" y1="686" x2="423.33" y2="697.9"/><line x1="426.36" y1="686" x2="426.36" y2="697.9"/><line x1="429.39" y1="686" x2="429.39" y2="697.9"/><line x1="432.42" y1="686" x2="432.42" y2="697.9"/><line x1="435.45" y1="683" x2="435.45" y2="697.9"/><line x1="438.48" y1="686" x2="438.48" y2="697.9"/><line x1="441.51" y1="686" x2="441.51" y2="697.9"/><line x1="444.54" y1="686" x2="444.54" y2="697.9"/><line x1="447.57" y1="686" x2="447.57" y2="697.9"/><line x1="450.6" y1="678" x2="450.6" y2="697.9"/><line x1="453.63" y1="686" x2="453.63" y2="697.9"/><line x1="456.66" y1="686" x2="456.66" y2="697.9"/><line x1="459.69" y1="686" x2="459.69" y2="697.9"/><line x1="462.72" y1="686" x2="462.72" y2="697.9"/><line x1="465.75" y1="683" x2="465.75" y2="697.9"/><line x1="468.78" y1="686" x2="468.78" y2="697.9"/><line x1="471.81" y1="686" x2="471.81" y2="697.9"/><line x1="474.84" y1="686" x2="474.84" y2="697.9"/><line x1="477.87" y1="686" x2="477.87" y2="697.9"/><line x1="480.9" y1="678" x2="480.9" y2="697.9"/><line x1="483.93" y1="686" x2="483.93" y2="697.9"/><line x1="486.96" y1="686" x2="486.96" y2="697.9"/></g></svg></body></html>
